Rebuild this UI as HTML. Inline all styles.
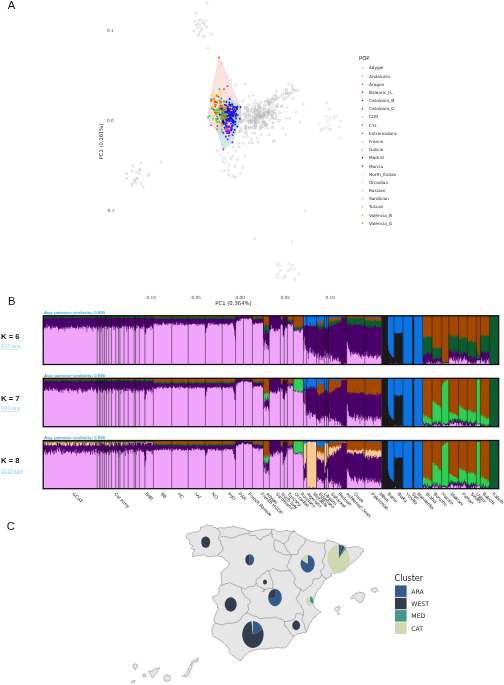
<!DOCTYPE html>
<html><head><meta charset="utf-8"><title>Figure</title>
<style>html,body{margin:0;padding:0;background:#fff}svg{display:block}</style></head>
<body>
<svg width="504" height="685" viewBox="0 0 504 685">
<rect width="504" height="685" fill="#fff"/>
<text x="7.7" y="8.7" font-family="'Liberation Sans',sans-serif" font-size="11.2" fill="#111">A</text>
<g id="panelA">
<g fill="none" stroke="#bebebe" stroke-width="0.4"><path d="M207 1.8l1.2 2.2h-2.5z"/><path d="M196.5 11.8l1.2 2.2h-2.5z"/><path d="M199 18.8l1.2 2.2h-2.5z"/><path d="M201.5 18.3l1.2 2.2h-2.5z"/><path d="M195 19.8l1.2 2.2h-2.5z"/><path d="M198 22.3l1.2 2.2h-2.5z"/><path d="M203 21.3l1.2 2.2h-2.5z"/><path d="M206 19.3l1.2 2.2h-2.5z"/><path d="M204.5 22.8l1.2 2.2h-2.5z"/><path d="M200 24.8l1.2 2.2h-2.5z"/><path d="M197.5 26.8l1.2 2.2h-2.5z"/><path d="M193.5 29.3l1.2 2.2h-2.5z"/><path d="M200.5 29.8l1.2 2.2h-2.5z"/><path d="M206.5 25.3l1.2 2.2h-2.5z"/><path d="M199.5 32.3l1.2 2.2h-2.5z"/><path d="M203 34.8l1.2 2.2h-2.5z"/><path d="M211.5 32.8l1.2 2.2h-2.5z"/><path d="M198 34.3l1.2 2.2h-2.5z"/><path d="M204.5 35.3l1.2 2.2h-2.5z"/><path d="M208 46.8l1.2 2.2h-2.5z"/><path d="M202 27.8l1.2 2.2h-2.5z"/><path d="M196 23.8l1.2 2.2h-2.5z"/><path d="M220.5 63.8l1.2 2.2h-2.5z"/><path d="M222 61.8l1.2 2.2h-2.5z"/><path d="M231 78.8l1.2 2.2h-2.5z"/><path d="M235.5 83.3l1.2 2.2h-2.5z"/><path d="M245.5 82.8l1.2 2.2h-2.5z"/><path d="M226 90.8l1.2 2.2h-2.5z"/><path d="M230 95.8l1.2 2.2h-2.5z"/><path d="M243 99.8l1.2 2.2h-2.5z"/><path d="M249 94.8l1.2 2.2h-2.5z"/><path d="M253 93.8l1.2 2.2h-2.5z"/><path d="M256 101.8l1.2 2.2h-2.5z"/><path d="M247 106.8l1.2 2.2h-2.5z"/><path d="M262.8 116.3l1.2 2.2h-2.5z"/><path d="M256.6 109.2l1.2 2.2h-2.5z"/><path d="M254.4 109.3l1.2 2.2h-2.5z"/><rect x="265.4" y="123.6" width="2" height="2"/><rect x="254" y="112.3" width="2" height="2"/><path d="M267.2 115.9h2M268.2 114.9v2"/><path d="M259.5 107.6l2 2M259.5 109.6l2 -2"/><path d="M263.6 119.2l1.2 2.2h-2.5z"/><circle cx="246.4" cy="118.1" r="1"/><path d="M238.1 113.4l1.2 2.2h-2.5z"/><path d="M241.7 120.5l1.2 2.2h-2.5z"/><path d="M249.2 121.6l1.2 2.2h-2.5z"/><rect x="262.2" y="112.5" width="2" height="2"/><rect x="240.8" y="121.5" width="2" height="2"/><path d="M257.9 104.4h2M258.9 103.4v2"/><path d="M253.2 109.7l2 2M253.2 111.7l2 -2"/><path d="M256.3 125.1l1.2 2.2h-2.5z"/><circle cx="253.3" cy="118.7" r="1"/><path d="M269.8 106.4l1.2 2.2h-2.5z"/><path d="M261.1 115.5l1.2 2.2h-2.5z"/><path d="M259.3 105.5l1.2 2.2h-2.5z"/><rect x="265.6" y="123.6" width="2" height="2"/><rect x="246.9" y="127.1" width="2" height="2"/><path d="M260.5 110.5h2M261.5 109.5v2"/><path d="M284.5 111.3l2 2M284.5 113.3l2 -2"/><path d="M249.4 119.9l1.2 2.2h-2.5z"/><circle cx="267.6" cy="111.7" r="1"/><path d="M269.1 110.9l1.2 2.2h-2.5z"/><path d="M273.1 121.4l1.2 2.2h-2.5z"/><path d="M255.4 118.6l1.2 2.2h-2.5z"/><rect x="256.4" y="117.4" width="2" height="2"/><rect x="246.7" y="115.5" width="2" height="2"/><path d="M261.4 122.6h2M262.4 121.6v2"/><path d="M269.5 100.4l2 2M269.5 102.4l2 -2"/><path d="M255.3 122.2l1.2 2.2h-2.5z"/><circle cx="239.4" cy="120.8" r="1"/><path d="M264.5 123.4l1.2 2.2h-2.5z"/><path d="M268.4 109l1.2 2.2h-2.5z"/><path d="M257.4 114.1l1.2 2.2h-2.5z"/><rect x="276.1" y="105" width="2" height="2"/><rect x="258.7" y="118.3" width="2" height="2"/><path d="M259.2 114.6h2M260.2 113.6v2"/><path d="M249.1 119.2l2 2M249.1 121.2l2 -2"/><path d="M260.5 124.3l1.2 2.2h-2.5z"/><circle cx="268.9" cy="112.5" r="1"/><path d="M268.2 109l1.2 2.2h-2.5z"/><path d="M273.2 109.7l1.2 2.2h-2.5z"/><path d="M264.6 102.8l1.2 2.2h-2.5z"/><rect x="260" y="101.3" width="2" height="2"/><rect x="238.4" y="121.1" width="2" height="2"/><path d="M251.8 120.5h2M252.8 119.5v2"/><path d="M282.7 99.1l2 2M282.7 101.1l2 -2"/><path d="M255.9 118.4l1.2 2.2h-2.5z"/><circle cx="266.8" cy="112.2" r="1"/><path d="M261.8 120l1.2 2.2h-2.5z"/><path d="M264.7 104.8l1.2 2.2h-2.5z"/><path d="M261.3 114.9l1.2 2.2h-2.5z"/><rect x="250.5" y="120.8" width="2" height="2"/><rect x="254.5" y="124.9" width="2" height="2"/><path d="M263.3 115.3h2M264.3 114.3v2"/><path d="M254.4 116.2l2 2M254.4 118.2l2 -2"/><path d="M239.2 114.9l1.2 2.2h-2.5z"/><circle cx="241.6" cy="130.5" r="1"/><path d="M245.5 127l1.2 2.2h-2.5z"/><path d="M255.1 123.3l1.2 2.2h-2.5z"/><path d="M259.1 103l1.2 2.2h-2.5z"/><rect x="278.4" y="119.2" width="2" height="2"/><rect x="259.5" y="112.9" width="2" height="2"/><path d="M256.6 109.4h2M257.6 108.4v2"/><path d="M271.2 106l2 2M271.2 108l2 -2"/><path d="M259.2 109l1.2 2.2h-2.5z"/><circle cx="251.8" cy="109.3" r="1"/><path d="M275 107.8l1.2 2.2h-2.5z"/><path d="M272.4 110.2l1.2 2.2h-2.5z"/><path d="M253.7 115l1.2 2.2h-2.5z"/><rect x="255" y="116.9" width="2" height="2"/><rect x="256.2" y="114" width="2" height="2"/><path d="M244 115.8h2M245 114.8v2"/><path d="M276.8 102.8l2 2M276.8 104.8l2 -2"/><path d="M251.7 121.1l1.2 2.2h-2.5z"/><circle cx="273" cy="99.4" r="1"/><path d="M258 110.8l1.2 2.2h-2.5z"/><path d="M245.2 126.9l1.2 2.2h-2.5z"/><path d="M261.9 114.9l1.2 2.2h-2.5z"/><rect x="254.2" y="120.9" width="2" height="2"/><rect x="254.8" y="115.8" width="2" height="2"/><path d="M245.8 111.8h2M246.8 110.8v2"/><path d="M273.8 105.3l2 2M273.8 107.3l2 -2"/><path d="M265 112.8l1.2 2.2h-2.5z"/><circle cx="255.9" cy="113.8" r="1"/><path d="M267.9 109.5l1.2 2.2h-2.5z"/><path d="M260.4 115.1l1.2 2.2h-2.5z"/><path d="M276.5 114l1.2 2.2h-2.5z"/><rect x="263.5" y="108.9" width="2" height="2"/><rect x="248.9" y="127" width="2" height="2"/><path d="M270.9 110.4h2M271.9 109.4v2"/><path d="M269 117.6l2 2M269 119.6l2 -2"/><path d="M273.4 117.1l1.2 2.2h-2.5z"/><circle cx="261.4" cy="128" r="1"/><path d="M251.1 125.6l1.2 2.2h-2.5z"/><path d="M269.7 118.2l1.2 2.2h-2.5z"/><path d="M286.2 116.6l1.2 2.2h-2.5z"/><rect x="244.1" y="107.6" width="2" height="2"/><rect x="266.9" y="103.9" width="2" height="2"/><path d="M263.2 121.4h2M264.2 120.4v2"/><path d="M237.6 106.8l2 2M237.6 108.8l2 -2"/><path d="M264.9 113.5l1.2 2.2h-2.5z"/><circle cx="259.5" cy="116.8" r="1"/><path d="M248.6 107.4l1.2 2.2h-2.5z"/><path d="M257.5 108.2l1.2 2.2h-2.5z"/><path d="M245.9 124.8l1.2 2.2h-2.5z"/><rect x="261.5" y="117.6" width="2" height="2"/><rect x="248.6" y="114.1" width="2" height="2"/><path d="M247.9 113.6h2M248.9 112.6v2"/><path d="M260.9 108.2l2 2M260.9 110.2l2 -2"/><path d="M266.7 115.1l1.2 2.2h-2.5z"/><circle cx="279.7" cy="97.2" r="1"/><path d="M271.2 109.9l1.2 2.2h-2.5z"/><path d="M257.8 104.2l1.2 2.2h-2.5z"/><path d="M259.2 121.4l1.2 2.2h-2.5z"/><rect x="260.3" y="115.4" width="2" height="2"/><rect x="261.1" y="123.8" width="2" height="2"/><path d="M254.6 100.3h2M255.6 99.3v2"/><path d="M248.1 103.7l2 2M248.1 105.7l2 -2"/><path d="M238.5 124.5l1.2 2.2h-2.5z"/><circle cx="259.2" cy="107.1" r="1"/><path d="M255.1 126.2l1.2 2.2h-2.5z"/><path d="M263.8 113.9l1.2 2.2h-2.5z"/><path d="M261.5 114.8l1.2 2.2h-2.5z"/><rect x="271.1" y="114.9" width="2" height="2"/><rect x="260.4" y="106.3" width="2" height="2"/><path d="M264.6 108.6h2M265.6 107.6v2"/><path d="M269.1 101l2 2M269.1 103l2 -2"/><path d="M260.5 114.8l1.2 2.2h-2.5z"/><circle cx="252.7" cy="133.1" r="1"/><path d="M276.3 104.8l1.2 2.2h-2.5z"/><path d="M271.3 113.6l1.2 2.2h-2.5z"/><path d="M241.1 127.2l1.2 2.2h-2.5z"/><rect x="258.9" y="106.6" width="2" height="2"/><rect x="257.6" y="114.4" width="2" height="2"/><path d="M274.6 112.8h2M275.6 111.8v2"/><path d="M265.2 125.2l2 2M265.2 127.2l2 -2"/><path d="M255 113.9l1.2 2.2h-2.5z"/><circle cx="247" cy="134.2" r="1"/><path d="M274.9 116.5l1.2 2.2h-2.5z"/><path d="M269.4 112.2l1.2 2.2h-2.5z"/><path d="M263.6 111.6l1.2 2.2h-2.5z"/><rect x="259" y="115.7" width="2" height="2"/><rect x="278.7" y="111.9" width="2" height="2"/><path d="M258.8 111.7h2M259.8 110.7v2"/><path d="M258.7 128.4l2 2M258.7 130.4l2 -2"/><path d="M267.6 112.6l1.2 2.2h-2.5z"/><circle cx="255.2" cy="109.3" r="1"/><path d="M263.7 120.6l1.2 2.2h-2.5z"/><path d="M257.2 114.4l1.2 2.2h-2.5z"/><path d="M259.9 116l1.2 2.2h-2.5z"/><rect x="243.3" y="119.7" width="2" height="2"/><rect x="254.3" y="124.3" width="2" height="2"/><path d="M254.4 122.8h2M255.4 121.8v2"/><path d="M276.4 105.8l2 2M276.4 107.8l2 -2"/><path d="M256.1 118.2l1.2 2.2h-2.5z"/><circle cx="259.2" cy="108.6" r="1"/><path d="M272.5 126.3l1.2 2.2h-2.5z"/><path d="M258.7 114l1.2 2.2h-2.5z"/><path d="M251.7 121l1.2 2.2h-2.5z"/><rect x="244.6" y="112.1" width="2" height="2"/><rect x="272.1" y="102.7" width="2" height="2"/><path d="M276.8 121.5h2M277.8 120.5v2"/><path d="M265.3 117.2l2 2M265.3 119.2l2 -2"/><path d="M282.3 104.6l1.2 2.2h-2.5z"/><circle cx="251.9" cy="108.6" r="1"/><path d="M266.6 124.4l1.2 2.2h-2.5z"/><path d="M269.6 103.6l1.2 2.2h-2.5z"/><path d="M251.5 114.4l1.2 2.2h-2.5z"/><rect x="263.5" y="111.8" width="2" height="2"/><rect x="264.1" y="115.7" width="2" height="2"/><path d="M257.7 116.5h2M258.7 115.5v2"/><path d="M263 113l2 2M263 115l2 -2"/><path d="M272.6 125.1l1.2 2.2h-2.5z"/><circle cx="268.5" cy="113.4" r="1"/><path d="M245.1 124.2l1.2 2.2h-2.5z"/><path d="M243.8 112.8l1.2 2.2h-2.5z"/><path d="M269.1 110.2l1.2 2.2h-2.5z"/><rect x="241.7" y="119.2" width="2" height="2"/><rect x="255.5" y="121.8" width="2" height="2"/><path d="M285.7 107.4h2M286.7 106.4v2"/><path d="M249.4 109.7l2 2M249.4 111.7l2 -2"/><path d="M260.9 113.3l1.2 2.2h-2.5z"/><circle cx="250" cy="121.2" r="1"/><path d="M252.8 126.9l1.2 2.2h-2.5z"/><path d="M276.4 117.3l1.2 2.2h-2.5z"/><path d="M258.4 119.9l1.2 2.2h-2.5z"/><rect x="258.5" y="112.4" width="2" height="2"/><rect x="253.8" y="106.9" width="2" height="2"/><path d="M247.8 127.2h2M248.8 126.2v2"/><path d="M259.6 116.8l2 2M259.6 118.8l2 -2"/><path d="M267.9 97.9l1.2 2.2h-2.5z"/><circle cx="254.1" cy="120.1" r="1"/><path d="M265.1 110l1.2 2.2h-2.5z"/><path d="M273.6 111.3l1.2 2.2h-2.5z"/><path d="M246.5 113l1.2 2.2h-2.5z"/><rect x="270.9" y="114.3" width="2" height="2"/><rect x="244.5" y="132" width="2" height="2"/><path d="M271.1 122.3h2M272.1 121.3v2"/><path d="M256.1 114.1l2 2M256.1 116.1l2 -2"/><path d="M257 136.7l1.2 2.2h-2.5z"/><circle cx="264.5" cy="127.3" r="1"/><path d="M255.5 118.2l1.2 2.2h-2.5z"/><path d="M243.1 118.7l1.2 2.2h-2.5z"/><path d="M269 101.3l1.2 2.2h-2.5z"/><rect x="273.4" y="112.3" width="2" height="2"/><rect x="248.5" y="115.5" width="2" height="2"/><path d="M256 117.1h2M257 116.1v2"/><path d="M253 111l2 2M253 113l2 -2"/><path d="M255.9 108.4l1.2 2.2h-2.5z"/><circle cx="248.1" cy="120.7" r="1"/><path d="M267.2 99.8l1.2 2.2h-2.5z"/><path d="M260.2 109.7l1.2 2.2h-2.5z"/><path d="M253.9 124.4l1.2 2.2h-2.5z"/><rect x="259.6" y="127.1" width="2" height="2"/><rect x="253.7" y="120.5" width="2" height="2"/><path d="M256.5 111.2h2M257.5 110.2v2"/><path d="M266.8 110.9l2 2M266.8 112.9l2 -2"/><path d="M268.3 111.4l1.2 2.2h-2.5z"/><circle cx="250.1" cy="119.4" r="1"/><path d="M265.2 120.7l1.2 2.2h-2.5z"/><path d="M252.2 117.9l1.2 2.2h-2.5z"/><path d="M245.4 126.2l1.2 2.2h-2.5z"/><rect x="244.4" y="106.5" width="2" height="2"/><rect x="263.4" y="122.5" width="2" height="2"/><path d="M241.7 114.4h2M242.7 113.4v2"/><path d="M249.9 109.8l2 2M249.9 111.8l2 -2"/><path d="M263.8 107l1.2 2.2h-2.5z"/><circle cx="255.9" cy="122.6" r="1"/><path d="M255.1 120.5l1.2 2.2h-2.5z"/><path d="M248.3 110l1.2 2.2h-2.5z"/><path d="M247.6 135.1l1.2 2.2h-2.5z"/><rect x="258.3" y="117.6" width="2" height="2"/><rect x="261.1" y="115.7" width="2" height="2"/><path d="M266.8 128.6h2M267.8 127.6v2"/><path d="M245.6 108.1l2 2M245.6 110.1l2 -2"/><path d="M247.5 109.3l1.2 2.2h-2.5z"/><circle cx="272.3" cy="118" r="1"/><path d="M247.9 108.7l1.2 2.2h-2.5z"/><path d="M262.1 125.5l1.2 2.2h-2.5z"/><path d="M239.2 130l1.2 2.2h-2.5z"/><rect x="269.1" y="102.6" width="2" height="2"/><rect x="253.8" y="105.2" width="2" height="2"/><path d="M254.4 129.3h2M255.4 128.3v2"/><path d="M268.6 108.2l2 2M268.6 110.2l2 -2"/><path d="M247.4 104.8l1.2 2.2h-2.5z"/><circle cx="257.7" cy="117" r="1"/><path d="M260.8 114l1.2 2.2h-2.5z"/><path d="M249.8 118.6l1.2 2.2h-2.5z"/><path d="M265.2 123.4l1.2 2.2h-2.5z"/><rect x="280.6" y="105.6" width="2" height="2"/><rect x="252.6" y="117.3" width="2" height="2"/><path d="M252.4 112.9h2M253.4 111.9v2"/><path d="M257.5 107.5l2 2M257.5 109.5l2 -2"/><path d="M268.2 111l1.2 2.2h-2.5z"/><circle cx="264.2" cy="113.2" r="1"/><path d="M251.6 110.8l1.2 2.2h-2.5z"/><path d="M257.9 111.5l1.2 2.2h-2.5z"/><path d="M264.5 113.2l1.2 2.2h-2.5z"/><rect x="246.6" y="120.8" width="2" height="2"/><rect x="244.9" y="115.9" width="2" height="2"/><path d="M252.1 102.3h2M253.1 101.3v2"/><path d="M262.4 115.2l2 2M262.4 117.2l2 -2"/><path d="M259.1 112l1.2 2.2h-2.5z"/><circle cx="255.3" cy="110.3" r="1"/><path d="M265.4 99.7l1.2 2.2h-2.5z"/><path d="M280.3 94.3l2 2M280.3 96.3l2 -2"/><path d="M272.3 99.2h2M273.3 98.2v2"/><path d="M286.3 92.5l1.2 2.2h-2.5z"/><rect x="291.3" y="87.4" width="2" height="2"/><path d="M295.3 89.4l1.2 2.2h-2.5z"/><path d="M281.8 93l2 2M281.8 95l2 -2"/><path d="M274.2 98.9h2M275.2 97.9v2"/><path d="M271.9 97.8l1.2 2.2h-2.5z"/><rect x="291.7" y="84.7" width="2" height="2"/><path d="M283.4 95.6l1.2 2.2h-2.5z"/><path d="M283.4 97.8l2 2M283.4 99.8l2 -2"/><path d="M275.1 95.9h2M276.1 94.9v2"/><path d="M286.7 91.6l1.2 2.2h-2.5z"/><rect x="291.7" y="91.9" width="2" height="2"/><path d="M268.3 101l1.2 2.2h-2.5z"/><path d="M277.1 97.2l2 2M277.1 99.2l2 -2"/><path d="M274.5 94.4h2M275.5 93.4v2"/><path d="M293.9 88.5l1.2 2.2h-2.5z"/><rect x="285.2" y="88.7" width="2" height="2"/><path d="M288.6 82.6l1.2 2.2h-2.5z"/><path d="M275.5 97.7l2 2M275.5 99.7l2 -2"/><path d="M286.7 94.1h2M287.7 93.1v2"/><path d="M269.3 99.9l1.2 2.2h-2.5z"/><rect x="286.3" y="96.3" width="2" height="2"/><path d="M275.3 98.6l1.2 2.2h-2.5z"/><path d="M274.6 98.7l2 2M274.6 100.7l2 -2"/><path d="M291.3 89.6h2M292.3 88.6v2"/><path d="M289.1 91.4l1.2 2.2h-2.5z"/><rect x="285.1" y="90" width="2" height="2"/><path d="M268.8 102.6l1.2 2.2h-2.5z"/><path d="M269.1 98.3l2 2M269.1 100.3l2 -2"/><path d="M275.7 98h2M276.7 97v2"/><path d="M276.2 94.6l1.2 2.2h-2.5z"/><rect x="271.2" y="100.4" width="2" height="2"/><path d="M265.8 99.6l1.2 2.2h-2.5z"/><path d="M289.6 91.2l2 2M289.6 93.2l2 -2"/><path d="M282.9 92.5h2M283.9 91.5v2"/><path d="M270.4 100.9l1.2 2.2h-2.5z"/><rect x="288.8" y="93.2" width="2" height="2"/><path d="M297.8 88.7l1.2 2.2h-2.5z"/><path d="M285 92.8l2 2M285 94.8l2 -2"/><path d="M267.6 101.4h2M268.6 100.4v2"/><path d="M276.4 89.4l1.2 2.2h-2.5z"/><rect x="273" y="95.4" width="2" height="2"/><path d="M272.3 96.8l1.2 2.2h-2.5z"/><path d="M244 135.5l1.2 2.2h-2.5z"/><path d="M251.4 137.8l1.2 2.2h-2.5z"/><path d="M261 133.1l1.2 2.2h-2.5z"/><path d="M274 139l1.2 2.2h-2.5z"/><path d="M269.3 133.1l1.2 2.2h-2.5z"/><path d="M246 129.8l1.2 2.2h-2.5z"/><path d="M255 131.8l1.2 2.2h-2.5z"/><path d="M240 130.8l1.2 2.2h-2.5z"/><path d="M283 126.8l1.2 2.2h-2.5z"/><path d="M290 116.8l1.2 2.2h-2.5z"/><path d="M296 110.8l1.2 2.2h-2.5z"/><path d="M300 120.3l1.2 2.2h-2.5z"/><path d="M293 96.8l1.2 2.2h-2.5z"/><path d="M303 102.8l1.2 2.2h-2.5z"/><path d="M273.8 139.5l1.2 2.2h-2.5z"/><path d="M286 132.8l1.2 2.2h-2.5z"/><path d="M258 140.8l1.2 2.2h-2.5z"/><path d="M326.4 101.7l1.2 1.2l-1.2 1.2l-1.2 -1.2z"/><path d="M328.8 107.6l1.2 1.2l-1.2 1.2l-1.2 -1.2z"/><path d="M326 115.2l1.2 1.2l-1.2 1.2l-1.2 -1.2z"/><path d="M330 116.4l1.2 1.2l-1.2 1.2l-1.2 -1.2z"/><path d="M333.6 115.2l1.2 1.2l-1.2 1.2l-1.2 -1.2z"/><path d="M336.4 114.5l1.2 1.2l-1.2 1.2l-1.2 -1.2z"/><path d="M340 119.5l1.2 1.2l-1.2 1.2l-1.2 -1.2z"/><path d="M327.6 120l1.2 1.2l-1.2 1.2l-1.2 -1.2z"/><path d="M319.3 122.4l1.2 1.2l-1.2 1.2l-1.2 -1.2z"/><path d="M328.8 123.6l1.2 1.2l-1.2 1.2l-1.2 -1.2z"/><path d="M339 125.5l1.2 1.2l-1.2 1.2l-1.2 -1.2z"/><path d="M324 127.1l1.2 1.2l-1.2 1.2l-1.2 -1.2z"/><path d="M320.5 129l1.2 1.2l-1.2 1.2l-1.2 -1.2z"/><path d="M327.6 127.1l1.2 1.2l-1.2 1.2l-1.2 -1.2z"/><path d="M331.2 127.8l1.2 1.2l-1.2 1.2l-1.2 -1.2z"/><path d="M339.5 136.7l1.2 1.2l-1.2 1.2l-1.2 -1.2z"/><path d="M322 128.3l1.2 1.2l-1.2 1.2l-1.2 -1.2z"/><path d="M334 117.3l1.2 1.2l-1.2 1.2l-1.2 -1.2z"/><path d="M329.5 128.3l1.2 1.2l-1.2 1.2l-1.2 -1.2z"/><path d="M132.6 167.4l1.2 -2.2h-2.5z"/><path d="M141 164.3l1.2 -2.2h-2.5z"/><path d="M161.2 163.3l1.2 -2.2h-2.5z"/><path d="M126.7 175l1.2 -2.2h-2.5z"/><path d="M131.9 172.2l1.2 -2.2h-2.5z"/><path d="M136.2 173.3l1.2 -2.2h-2.5z"/><path d="M139.8 171l1.2 -2.2h-2.5z"/><path d="M139 174.5l1.2 -2.2h-2.5z"/><path d="M126.7 180l1.2 -2.2h-2.5z"/><path d="M133.8 181.7l1.2 -2.2h-2.5z"/><path d="M135.5 180.7l1.2 -2.2h-2.5z"/><path d="M137.4 180.5l1.2 -2.2h-2.5z"/><path d="M148.1 176.9l1.2 -2.2h-2.5z"/><path d="M149.5 176.2l1.2 -2.2h-2.5z"/><path d="M131.4 186l1.2 -2.2h-2.5z"/><path d="M132.5 185.7l1.2 -2.2h-2.5z"/><path d="M136.2 184.5l1.2 -2.2h-2.5z"/><path d="M141 184.8l1.2 -2.2h-2.5z"/><path d="M143.3 188.3l1.2 -2.2h-2.5z"/><path d="M140 171.7l1.2 -2.2h-2.5z"/><path d="M134.5 182.7l1.2 -2.2h-2.5z"/><path d="M137 179.2l1.2 -2.2h-2.5z"/><path d="M217.1 149.5l1.2 2.2h-2.5z"/><path d="M219.7 155.5h2M220.7 154.5v2"/><rect x="223.3" y="156.9" width="2" height="2"/><path d="M223.1 160.2l1.2 2.2h-2.5z"/><path d="M226.9 152.1l2 2M226.9 154.1l2 -2"/><path d="M232.6 155l1.2 2.2h-2.5z"/><path d="M237.4 158.3l1.2 2.2h-2.5z"/><path d="M244.5 154.8l1.2 2.2h-2.5z"/><rect x="228" y="164" width="2" height="2"/><rect x="234.7" y="165.7" width="2" height="2"/><path d="M242.9 166.2l1.2 2.2h-2.5z"/><path d="M220.9 170.4l2 2M220.9 172.4l2 -2"/><path d="M223.8 170.5h2M224.8 169.5v2"/><rect x="227.6" y="169.2" width="2" height="2"/><rect x="228" y="174" width="2" height="2"/><path d="M233.1 174.5l1.2 2.2h-2.5z"/><rect x="234.5" y="176.6" width="2" height="2"/><path d="M240.2 172.1l1.2 2.2h-2.5z"/><path d="M238.6 141.7l1.2 2.2h-2.5z"/><path d="M243.3 141.9l1.2 2.2h-2.5z"/><path d="M249.3 141.2l1.2 2.2h-2.5z"/><path d="M252.4 141.2l1.2 2.2h-2.5z"/><path d="M225 160h2M226 159v2"/><path d="M229 157l2 2M229 159l2 -2"/><path d="M230.5 159.5h2M231.5 158.5v2"/><path d="M224.5 163.5h2M225.5 162.5v2"/><path d="M233 145.8l1.2 2.2h-2.5z"/><path d="M235 151h2M236 150v2"/><path d="M239 145.3l1.2 2.2h-2.5z"/><circle cx="305.2" cy="211" r="1"/><path d="M254.5 236.9l1.2 2.2h-2.5z"/><circle cx="292.1" cy="241.7" r="1"/><circle cx="277.4" cy="263.8" r="1.2"/><circle cx="279.5" cy="266.2" r="1.2"/><circle cx="280.2" cy="270.2" r="1.2"/><circle cx="277.9" cy="274" r="1.2"/><circle cx="277.1" cy="277.4" r="1.2"/><circle cx="283.8" cy="278.1" r="1.2"/><circle cx="285.7" cy="275.7" r="1.2"/><circle cx="288.6" cy="264.5" r="1.2"/><circle cx="292.1" cy="265.5" r="1.2"/><circle cx="290.5" cy="269.3" r="1.2"/><circle cx="287.9" cy="271" r="1.2"/><circle cx="294.5" cy="269.3" r="1.2"/><circle cx="298.6" cy="273.8" r="1.2"/><circle cx="295" cy="279.3" r="1.2"/></g>
<path d="M219 57.5L237.6 101.5L240.6 106.6L239.8 123.5L227.6 139.3L211 125.2L207.9 117.4L211 98.8Z" fill="#f8c8c4" fill-opacity="0.5" stroke="#e8a8a4" stroke-width="0.4"/>
<path d="M229.7 98.8L240.5 107L239.9 118.5L232.4 142.3L223.3 149.4L216.9 129L218.9 103.4L224.5 100.6Z" fill="#9fdde0" fill-opacity="0.55" stroke="#7cc8cc" stroke-width="0.4"/>
<rect x="221.3" y="104.7" width="1.7" height="1.7" rx="0.5" fill="#b8860b"/><rect x="222.5" y="118" width="1.7" height="1.7" rx="0.5" fill="#ff8c00"/><rect x="219.5" y="113.9" width="1.7" height="1.7" rx="0.5" fill="#ff8c00"/><rect x="228.5" y="125.8" width="1.7" height="1.7" rx="0.5" fill="#a000f0"/><rect x="221.4" y="118.8" width="1.7" height="1.7" rx="0.5" fill="#2080ff"/><rect x="228.1" y="118.8" width="1.7" height="1.7" rx="0.5" fill="#1010f0"/><rect x="221.3" y="124.8" width="1.7" height="1.7" rx="0.5" fill="#ff8c00"/><rect x="214.3" y="103.8" width="1.7" height="1.7" rx="0.5" fill="#ff3a10"/><rect x="230.5" y="126.3" width="1.7" height="1.7" rx="0.5" fill="#a000f0"/><rect x="216.2" y="115.6" width="1.7" height="1.7" rx="0.5" fill="#00e070"/><rect x="224.3" y="117.7" width="1.7" height="1.7" rx="0.5" fill="#ff8c00"/><rect x="231" y="120.2" width="1.7" height="1.7" rx="0.5" fill="#1010f0"/><rect x="216.2" y="121.3" width="1.7" height="1.7" rx="0.5" fill="#ff8c00"/><rect x="224.7" y="122.7" width="1.7" height="1.7" rx="0.5" fill="#1010f0"/><rect x="215.4" y="120" width="1.7" height="1.7" rx="0.5" fill="#ff8c00"/><rect x="226.2" y="110.3" width="1.7" height="1.7" rx="0.5" fill="#1010f0"/><rect x="224.4" y="114.9" width="1.7" height="1.7" rx="0.5" fill="#1010f0"/><rect x="211.1" y="108.1" width="1.7" height="1.7" rx="0.5" fill="#00e070"/><rect x="218.9" y="115.1" width="1.7" height="1.7" rx="0.5" fill="#ff8c00"/><rect x="222.7" y="115" width="1.7" height="1.7" rx="0.5" fill="#1010f0"/><rect x="218.6" y="99.3" width="1.7" height="1.7" rx="0.5" fill="#ff8c00"/><rect x="214.4" y="99.8" width="1.7" height="1.7" rx="0.5" fill="#ffd800"/><rect x="225.7" y="128.1" width="1.7" height="1.7" rx="0.5" fill="#a000f0"/><rect x="223.6" y="115.3" width="1.7" height="1.7" rx="0.5" fill="#b8860b"/><rect x="231.7" y="124.7" width="1.7" height="1.7" rx="0.5" fill="#1010f0"/><rect x="226.7" y="108.5" width="1.7" height="1.7" rx="0.5" fill="#1010f0"/><rect x="234.8" y="115.7" width="1.7" height="1.7" rx="0.5" fill="#1010f0"/><rect x="228.2" y="116.1" width="1.7" height="1.7" rx="0.5" fill="#b8860b"/><rect x="221.6" y="111.1" width="1.7" height="1.7" rx="0.5" fill="#ff3a10"/><rect x="218" y="108.4" width="1.7" height="1.7" rx="0.5" fill="#b8860b"/><rect x="233.2" y="120.3" width="1.7" height="1.7" rx="0.5" fill="#1010f0"/><rect x="232.3" y="119.3" width="1.7" height="1.7" rx="0.5" fill="#1010f0"/><rect x="223.8" y="110.9" width="1.7" height="1.7" rx="0.5" fill="#b01818"/><rect x="225.6" y="101" width="1.7" height="1.7" rx="0.5" fill="#1010f0"/><rect x="221.8" y="118.2" width="1.7" height="1.7" rx="0.5" fill="#f000f0"/><rect x="229.6" y="115" width="1.7" height="1.7" rx="0.5" fill="#1010f0"/><rect x="228.9" y="109.1" width="1.7" height="1.7" rx="0.5" fill="#1010f0"/><rect x="213.6" y="100.7" width="1.7" height="1.7" rx="0.5" fill="#ff3a10"/><rect x="220.6" y="118.9" width="1.7" height="1.7" rx="0.5" fill="#ff8c00"/><rect x="226.1" y="110.7" width="1.7" height="1.7" rx="0.5" fill="#b8860b"/><rect x="225.5" y="118.3" width="1.7" height="1.7" rx="0.5" fill="#b8860b"/><rect x="226.7" y="119.5" width="1.7" height="1.7" rx="0.5" fill="#1010f0"/><rect x="221.7" y="117.7" width="1.7" height="1.7" rx="0.5" fill="#2080ff"/><rect x="227.9" y="114.7" width="1.7" height="1.7" rx="0.5" fill="#1010f0"/><rect x="220.6" y="109.4" width="1.7" height="1.7" rx="0.5" fill="#00e070"/><rect x="230.6" y="114" width="1.7" height="1.7" rx="0.5" fill="#1010f0"/><rect x="213.3" y="98.1" width="1.7" height="1.7" rx="0.5" fill="#ff3a10"/><rect x="225.5" y="107.6" width="1.7" height="1.7" rx="0.5" fill="#1010f0"/><rect x="221.9" y="111.3" width="1.7" height="1.7" rx="0.5" fill="#00e070"/><rect x="230.6" y="116.8" width="1.7" height="1.7" rx="0.5" fill="#1010f0"/><rect x="231.4" y="105.6" width="1.7" height="1.7" rx="0.5" fill="#b01818"/><rect x="234.3" y="106.4" width="1.7" height="1.7" rx="0.5" fill="#1010f0"/><rect x="223.8" y="127.9" width="1.7" height="1.7" rx="0.5" fill="#a000f0"/><rect x="216.8" y="101.2" width="1.7" height="1.7" rx="0.5" fill="#ffd800"/><rect x="230.7" y="128.2" width="1.7" height="1.7" rx="0.5" fill="#a000f0"/><rect x="219.6" y="105" width="1.7" height="1.7" rx="0.5" fill="#00e070"/><rect x="230.9" y="127.5" width="1.7" height="1.7" rx="0.5" fill="#a000f0"/><rect x="225.6" y="107.5" width="1.7" height="1.7" rx="0.5" fill="#b8860b"/><rect x="228.7" y="126.6" width="1.7" height="1.7" rx="0.5" fill="#b01818"/><rect x="228.7" y="108" width="1.7" height="1.7" rx="0.5" fill="#1010f0"/><rect x="221.8" y="108.9" width="1.7" height="1.7" rx="0.5" fill="#b8860b"/><rect x="228.1" y="108.4" width="1.7" height="1.7" rx="0.5" fill="#1010f0"/><rect x="227" y="112.3" width="1.7" height="1.7" rx="0.5" fill="#00e070"/><rect x="221.5" y="130.8" width="1.7" height="1.7" rx="0.5" fill="#b8860b"/><rect x="225.8" y="110.8" width="1.7" height="1.7" rx="0.5" fill="#1010f0"/><rect x="214.1" y="109.4" width="1.7" height="1.7" rx="0.5" fill="#00e070"/><rect x="225.8" y="126.5" width="1.7" height="1.7" rx="0.5" fill="#1010f0"/><rect x="232.6" y="115" width="1.7" height="1.7" rx="0.5" fill="#1010f0"/><rect x="217.3" y="107.3" width="1.7" height="1.7" rx="0.5" fill="#00e8f0"/><rect x="224.8" y="110.2" width="1.7" height="1.7" rx="0.5" fill="#ff8c00"/><rect x="216" y="109.2" width="1.7" height="1.7" rx="0.5" fill="#00e070"/><rect x="216.4" y="118.4" width="1.7" height="1.7" rx="0.5" fill="#f000f0"/><rect x="216" y="117.8" width="1.7" height="1.7" rx="0.5" fill="#00e070"/><rect x="227.3" y="109.4" width="1.7" height="1.7" rx="0.5" fill="#1010f0"/><rect x="235.1" y="113.9" width="1.7" height="1.7" rx="0.5" fill="#1010f0"/><rect x="228.8" y="120.3" width="1.7" height="1.7" rx="0.5" fill="#1010f0"/><rect x="228.6" y="101.8" width="1.7" height="1.7" rx="0.5" fill="#1010f0"/><rect x="230.8" y="112.1" width="1.7" height="1.7" rx="0.5" fill="#1010f0"/><rect x="236.1" y="107.3" width="1.7" height="1.7" rx="0.5" fill="#b01818"/><rect x="221.9" y="112.8" width="1.7" height="1.7" rx="0.5" fill="#1010f0"/><rect x="225.8" y="114.7" width="1.7" height="1.7" rx="0.5" fill="#1010f0"/><rect x="223.6" y="113.9" width="1.7" height="1.7" rx="0.5" fill="#ff8c00"/><rect x="215" y="100.8" width="1.7" height="1.7" rx="0.5" fill="#ff3a10"/><rect x="227.3" y="117.4" width="1.7" height="1.7" rx="0.5" fill="#b8860b"/><rect x="228.1" y="130" width="1.7" height="1.7" rx="0.5" fill="#a000f0"/><rect x="234.4" y="110.6" width="1.7" height="1.7" rx="0.5" fill="#1010f0"/><rect x="221.8" y="117.9" width="1.7" height="1.7" rx="0.5" fill="#ff8c00"/><rect x="229.8" y="118.5" width="1.7" height="1.7" rx="0.5" fill="#1010f0"/><rect x="225.7" y="122.4" width="1.7" height="1.7" rx="0.5" fill="#1010f0"/><rect x="220.6" y="106.4" width="1.7" height="1.7" rx="0.5" fill="#1010f0"/><rect x="226.7" y="107.8" width="1.7" height="1.7" rx="0.5" fill="#1010f0"/><rect x="211.9" y="105.6" width="1.7" height="1.7" rx="0.5" fill="#ffd800"/><rect x="229.6" y="111.4" width="1.7" height="1.7" rx="0.5" fill="#b01818"/><rect x="216" y="113.6" width="1.7" height="1.7" rx="0.5" fill="#b8860b"/><rect x="221.4" y="106.3" width="1.7" height="1.7" rx="0.5" fill="#ff8c00"/><rect x="228.7" y="112.9" width="1.7" height="1.7" rx="0.5" fill="#1010f0"/><rect x="212.9" y="93.4" width="1.7" height="1.7" rx="0.5" fill="#ffd800"/><rect x="223.1" y="100.8" width="1.7" height="1.7" rx="0.5" fill="#ff3a10"/><rect x="226" y="115.7" width="1.7" height="1.7" rx="0.5" fill="#1010f0"/><rect x="215.3" y="104" width="1.7" height="1.7" rx="0.5" fill="#00e070"/><rect x="219" y="92.9" width="1.7" height="1.7" rx="0.5" fill="#ffd800"/><rect x="222.2" y="115.4" width="1.7" height="1.7" rx="0.5" fill="#b8860b"/><rect x="226.3" y="132.2" width="1.7" height="1.7" rx="0.5" fill="#a000f0"/><rect x="225.4" y="111.4" width="1.7" height="1.7" rx="0.5" fill="#b8860b"/><rect x="225.5" y="110.6" width="1.7" height="1.7" rx="0.5" fill="#1010f0"/><rect x="227.4" y="115.4" width="1.7" height="1.7" rx="0.5" fill="#1010f0"/><rect x="218.9" y="100.1" width="1.7" height="1.7" rx="0.5" fill="#00e070"/><rect x="233.6" y="108.5" width="1.7" height="1.7" rx="0.5" fill="#1010f0"/><rect x="222.6" y="106.8" width="1.7" height="1.7" rx="0.5" fill="#b8860b"/><rect x="222" y="121" width="1.7" height="1.7" rx="0.5" fill="#b8860b"/><rect x="221.4" y="107.8" width="1.7" height="1.7" rx="0.5" fill="#1010f0"/><rect x="220.3" y="104.7" width="1.7" height="1.7" rx="0.5" fill="#ff8c00"/><rect x="230.8" y="127.2" width="1.7" height="1.7" rx="0.5" fill="#a000f0"/><rect x="225.4" y="104.1" width="1.7" height="1.7" rx="0.5" fill="#ff8c00"/><rect x="216.5" y="107.1" width="1.7" height="1.7" rx="0.5" fill="#ffd800"/><rect x="228.5" y="130.9" width="1.7" height="1.7" rx="0.5" fill="#a000f0"/><rect x="226.5" y="130.4" width="1.7" height="1.7" rx="0.5" fill="#a000f0"/><rect x="225.7" y="125.5" width="1.7" height="1.7" rx="0.5" fill="#a000f0"/><rect x="226.9" y="128.8" width="1.7" height="1.7" rx="0.5" fill="#a000f0"/><rect x="221.4" y="108.8" width="1.7" height="1.7" rx="0.5" fill="#ff8c00"/><rect x="225.4" y="124.9" width="1.7" height="1.7" rx="0.5" fill="#1010f0"/><rect x="215.2" y="113.5" width="1.7" height="1.7" rx="0.5" fill="#ffd800"/><rect x="225.6" y="120.8" width="1.7" height="1.7" rx="0.5" fill="#1010f0"/><rect x="230.6" y="117.5" width="1.7" height="1.7" rx="0.5" fill="#1010f0"/><rect x="231.4" y="113.9" width="1.7" height="1.7" rx="0.5" fill="#1010f0"/><rect x="224.3" y="111.3" width="1.7" height="1.7" rx="0.5" fill="#1010f0"/><rect x="225.1" y="113.9" width="1.7" height="1.7" rx="0.5" fill="#b8860b"/><rect x="226.9" y="105.9" width="1.7" height="1.7" rx="0.5" fill="#1010f0"/><rect x="233.5" y="113.1" width="1.7" height="1.7" rx="0.5" fill="#1010f0"/><rect x="211.8" y="106.7" width="1.7" height="1.7" rx="0.5" fill="#ffd800"/><rect x="220.2" y="109.2" width="1.7" height="1.7" rx="0.5" fill="#b8860b"/><rect x="219" y="108.7" width="1.7" height="1.7" rx="0.5" fill="#b8860b"/><rect x="232" y="121.6" width="1.7" height="1.7" rx="0.5" fill="#1010f0"/><rect x="228.4" y="111.7" width="1.7" height="1.7" rx="0.5" fill="#1010f0"/><rect x="224.8" y="109.6" width="1.7" height="1.7" rx="0.5" fill="#1010f0"/><rect x="226.1" y="107" width="1.7" height="1.7" rx="0.5" fill="#1010f0"/><rect x="215" y="112.8" width="1.7" height="1.7" rx="0.5" fill="#b8860b"/><rect x="227.9" y="109.6" width="1.7" height="1.7" rx="0.5" fill="#2080ff"/><rect x="217.8" y="111.9" width="1.7" height="1.7" rx="0.5" fill="#ff8c00"/><rect x="223" y="108.9" width="1.7" height="1.7" rx="0.5" fill="#2080ff"/><rect x="220.8" y="116.3" width="1.7" height="1.7" rx="0.5" fill="#ff8c00"/><rect x="227.2" y="111.5" width="1.7" height="1.7" rx="0.5" fill="#b8860b"/><rect x="225.7" y="118.6" width="1.7" height="1.7" rx="0.5" fill="#1010f0"/><rect x="223.9" y="112" width="1.7" height="1.7" rx="0.5" fill="#1010f0"/><rect x="232.6" y="115.8" width="1.7" height="1.7" rx="0.5" fill="#1010f0"/><rect x="218.6" y="111.3" width="1.7" height="1.7" rx="0.5" fill="#00e070"/><rect x="222.5" y="132" width="1.7" height="1.7" rx="0.5" fill="#a000f0"/><rect x="226.9" y="106.1" width="1.7" height="1.7" rx="0.5" fill="#1010f0"/><rect x="223.3" y="108.8" width="1.7" height="1.7" rx="0.5" fill="#2080ff"/><rect x="232.9" y="120.9" width="1.7" height="1.7" rx="0.5" fill="#1010f0"/><rect x="228.3" y="108.3" width="1.7" height="1.7" rx="0.5" fill="#1010f0"/><rect x="229.2" y="107.7" width="1.7" height="1.7" rx="0.5" fill="#1010f0"/><rect x="225.2" y="128.2" width="1.7" height="1.7" rx="0.5" fill="#ff8c00"/><rect x="224.8" y="110.9" width="1.7" height="1.7" rx="0.5" fill="#b8860b"/><rect x="231.1" y="111.8" width="1.7" height="1.7" rx="0.5" fill="#b01818"/><rect x="228" y="110.2" width="1.7" height="1.7" rx="0.5" fill="#1010f0"/><rect x="221.8" y="110" width="1.7" height="1.7" rx="0.5" fill="#b8860b"/><rect x="221.2" y="113.6" width="1.7" height="1.7" rx="0.5" fill="#ff8c00"/><rect x="226.4" y="108.8" width="1.7" height="1.7" rx="0.5" fill="#b01818"/><rect x="224.8" y="116.4" width="1.7" height="1.7" rx="0.5" fill="#2080ff"/><rect x="220.2" y="101" width="1.7" height="1.7" rx="0.5" fill="#b8860b"/><rect x="220.5" y="108.1" width="1.7" height="1.7" rx="0.5" fill="#00e070"/><rect x="223" y="123.2" width="1.7" height="1.7" rx="0.5" fill="#a000f0"/><rect x="227.9" y="116.3" width="1.7" height="1.7" rx="0.5" fill="#b01818"/><rect x="230.2" y="112.3" width="1.7" height="1.7" rx="0.5" fill="#1010f0"/><rect x="232.9" y="111.3" width="1.7" height="1.7" rx="0.5" fill="#1010f0"/><rect x="225.1" y="114.3" width="1.7" height="1.7" rx="0.5" fill="#00e8f0"/><rect x="219.4" y="107.3" width="1.7" height="1.7" rx="0.5" fill="#b01818"/><rect x="214.7" y="111.6" width="1.7" height="1.7" rx="0.5" fill="#b8860b"/><rect x="224.8" y="114.9" width="1.7" height="1.7" rx="0.5" fill="#b8860b"/><rect x="223.8" y="117.3" width="1.7" height="1.7" rx="0.5" fill="#b8860b"/><rect x="226.8" y="105.6" width="1.7" height="1.7" rx="0.5" fill="#b01818"/><rect x="226.4" y="115.1" width="1.7" height="1.7" rx="0.5" fill="#1010f0"/><rect x="232.4" y="106.8" width="1.7" height="1.7" rx="0.5" fill="#1010f0"/><rect x="235.2" y="117.8" width="1.7" height="1.7" rx="0.5" fill="#1010f0"/><rect x="211.4" y="99.3" width="1.7" height="1.7" rx="0.5" fill="#ff3a10"/><rect x="227.4" y="115" width="1.7" height="1.7" rx="0.5" fill="#1010f0"/><rect x="216.1" y="101.8" width="1.7" height="1.7" rx="0.5" fill="#ff3a10"/><rect x="214.8" y="112.8" width="1.7" height="1.7" rx="0.5" fill="#b8860b"/><rect x="230.4" y="111.2" width="1.7" height="1.7" rx="0.5" fill="#1010f0"/><rect x="222.5" y="110.5" width="1.7" height="1.7" rx="0.5" fill="#b8860b"/><rect x="228.1" y="120.2" width="1.7" height="1.7" rx="0.5" fill="#1010f0"/><rect x="222.8" y="113.4" width="1.7" height="1.7" rx="0.5" fill="#b8860b"/><rect x="223.8" y="103.9" width="1.7" height="1.7" rx="0.5" fill="#1010f0"/><rect x="225.8" y="128.3" width="1.7" height="1.7" rx="0.5" fill="#b8860b"/><rect x="214.1" y="101.6" width="1.7" height="1.7" rx="0.5" fill="#ff3a10"/><rect x="222.2" y="122.4" width="1.7" height="1.7" rx="0.5" fill="#101010"/><rect x="228.7" y="114.3" width="1.7" height="1.7" rx="0.5" fill="#1010f0"/><rect x="215.6" y="111.6" width="1.7" height="1.7" rx="0.5" fill="#00e070"/><rect x="232" y="115" width="1.7" height="1.7" rx="0.5" fill="#1010f0"/><rect x="228.1" y="134.9" width="1.7" height="1.7" rx="0.5" fill="#a000f0"/><rect x="213.4" y="109.5" width="1.7" height="1.7" rx="0.5" fill="#00e070"/><rect x="222.8" y="111.9" width="1.7" height="1.7" rx="0.5" fill="#00e070"/><rect x="213.5" y="109.3" width="1.7" height="1.7" rx="0.5" fill="#00e070"/><rect x="232.3" y="112.9" width="1.7" height="1.7" rx="0.5" fill="#b01818"/><rect x="216.8" y="111.6" width="1.7" height="1.7" rx="0.5" fill="#ff8c00"/><rect x="228.1" y="125.5" width="1.7" height="1.7" rx="0.5" fill="#a000f0"/><rect x="228.8" y="104.2" width="1.7" height="1.7" rx="0.5" fill="#1010f0"/><rect x="233" y="108.1" width="1.7" height="1.7" rx="0.5" fill="#b8860b"/><rect x="221.2" y="112.6" width="1.7" height="1.7" rx="0.5" fill="#2080ff"/><rect x="228" y="110.2" width="1.7" height="1.7" rx="0.5" fill="#1010f0"/><rect x="226.8" y="125.8" width="1.7" height="1.7" rx="0.5" fill="#00e070"/><rect x="231.9" y="105.2" width="1.7" height="1.7" rx="0.5" fill="#1010f0"/><rect x="216.1" y="112" width="1.7" height="1.7" rx="0.5" fill="#b8860b"/><rect x="219.4" y="101.8" width="1.7" height="1.7" rx="0.5" fill="#b8860b"/><rect x="229.5" y="105.3" width="1.7" height="1.7" rx="0.5" fill="#b01818"/><rect x="212.8" y="108.4" width="1.7" height="1.7" rx="0.5" fill="#ff3a10"/><rect x="224.6" y="118.9" width="1.7" height="1.7" rx="0.5" fill="#006400"/><rect x="231.2" y="125.4" width="1.7" height="1.7" rx="0.5" fill="#1010f0"/><rect x="225.8" y="119.2" width="1.7" height="1.7" rx="0.5" fill="#1010f0"/><rect x="230.8" y="128.7" width="1.7" height="1.7" rx="0.5" fill="#a000f0"/><rect x="220" y="117.6" width="1.7" height="1.7" rx="0.5" fill="#00e070"/><rect x="223.8" y="116.2" width="1.7" height="1.7" rx="0.5" fill="#006400"/><rect x="223.3" y="106.2" width="1.7" height="1.7" rx="0.5" fill="#ff8c00"/><rect x="229.1" y="116.8" width="1.7" height="1.7" rx="0.5" fill="#1010f0"/><rect x="227" y="125.5" width="1.7" height="1.7" rx="0.5" fill="#a000f0"/><rect x="232.4" y="111.1" width="1.7" height="1.7" rx="0.5" fill="#1010f0"/><rect x="222.6" y="119.8" width="1.7" height="1.7" rx="0.5" fill="#006400"/><rect x="231.9" y="121.1" width="1.7" height="1.7" rx="0.5" fill="#1010f0"/><rect x="227.2" y="108.6" width="1.7" height="1.7" rx="0.5" fill="#1010f0"/><rect x="228.4" y="112.6" width="1.7" height="1.7" rx="0.5" fill="#1010f0"/><rect x="227" y="111.5" width="1.7" height="1.7" rx="0.5" fill="#b8860b"/><rect x="235.3" y="112.7" width="1.7" height="1.7" rx="0.5" fill="#1010f0"/><rect x="217.5" y="96.1" width="1.7" height="1.7" rx="0.5" fill="#00e070"/><rect x="227.7" y="116.7" width="1.7" height="1.7" rx="0.5" fill="#b8860b"/><rect x="228.8" y="107.8" width="1.7" height="1.7" rx="0.5" fill="#b01818"/><rect x="211.8" y="99.7" width="1.7" height="1.7" rx="0.5" fill="#ffd800"/><rect x="217.2" y="109.4" width="1.7" height="1.7" rx="0.5" fill="#b8860b"/><rect x="221.1" y="123.2" width="1.7" height="1.7" rx="0.5" fill="#ff8c00"/><rect x="234.5" y="121.1" width="1.7" height="1.7" rx="0.5" fill="#1010f0"/><rect x="230.4" y="113.7" width="1.7" height="1.7" rx="0.5" fill="#1010f0"/><rect x="226.7" y="114.7" width="1.7" height="1.7" rx="0.5" fill="#006400"/><rect x="218.4" y="121" width="1.7" height="1.7" rx="0.5" fill="#00e070"/><rect x="233.8" y="129.1" width="1.7" height="1.7" rx="0.5" fill="#1010f0"/><rect x="230" y="116.3" width="1.7" height="1.7" rx="0.5" fill="#1010f0"/><rect x="223.7" y="126.4" width="1.7" height="1.7" rx="0.5" fill="#1010f0"/><rect x="220.6" y="114.3" width="1.7" height="1.7" rx="0.5" fill="#2080ff"/><rect x="220.7" y="128.6" width="1.7" height="1.7" rx="0.5" fill="#00e070"/><rect x="220.5" y="122.3" width="1.7" height="1.7" rx="0.5" fill="#ff8c00"/><rect x="220.1" y="105.7" width="1.7" height="1.7" rx="0.5" fill="#ff8c00"/><rect x="230" y="104.1" width="1.7" height="1.7" rx="0.5" fill="#1010f0"/><rect x="220.6" y="97.8" width="1.7" height="1.7" rx="0.5" fill="#ff3a10"/><rect x="234.9" y="114.5" width="1.7" height="1.7" rx="0.5" fill="#1010f0"/><rect x="225" y="104.5" width="1.7" height="1.7" rx="0.5" fill="#1010f0"/><rect x="219.8" y="104.7" width="1.7" height="1.7" rx="0.5" fill="#ff3a10"/><rect x="214.4" y="105.7" width="1.7" height="1.7" rx="0.5" fill="#ff3a10"/><rect x="220.9" y="108" width="1.7" height="1.7" rx="0.5" fill="#1010f0"/><rect x="220.1" y="114.5" width="1.7" height="1.7" rx="0.5" fill="#b8860b"/><rect x="217" y="117.5" width="1.7" height="1.7" rx="0.5" fill="#b8860b"/><rect x="225.4" y="109" width="1.7" height="1.7" rx="0.5" fill="#ff8c00"/><rect x="223.4" y="121.9" width="1.7" height="1.7" rx="0.5" fill="#1010f0"/><rect x="229.6" y="128.4" width="1.7" height="1.7" rx="0.5" fill="#a000f0"/><rect x="226.3" y="130.7" width="1.7" height="1.7" rx="0.5" fill="#a000f0"/><rect x="222.5" y="120.8" width="1.7" height="1.7" rx="0.5" fill="#101010"/><rect x="227.5" y="120.8" width="1.7" height="1.7" rx="0.5" fill="#f000f0"/><rect x="230.3" y="129.5" width="1.7" height="1.7" rx="0.5" fill="#1010f0"/><rect x="233.9" y="107.1" width="1.7" height="1.7" rx="0.5" fill="#b01818"/><rect x="228.9" y="119.2" width="1.7" height="1.7" rx="0.5" fill="#1010f0"/><rect x="225" y="135.7" width="1.7" height="1.7" rx="0.5" fill="#a000f0"/><rect x="225.5" y="122.3" width="1.7" height="1.7" rx="0.5" fill="#a000f0"/><rect x="225.4" y="107.2" width="1.7" height="1.7" rx="0.5" fill="#b8860b"/><rect x="208.7" y="115.1" width="1.7" height="1.7" rx="0.5" fill="#00e070"/><rect x="231.9" y="119.3" width="1.7" height="1.7" rx="0.5" fill="#1010f0"/><rect x="221.1" y="116" width="1.7" height="1.7" rx="0.5" fill="#b8860b"/><rect x="228.7" y="113.6" width="1.7" height="1.7" rx="0.5" fill="#1010f0"/><rect x="216.9" y="112.4" width="1.7" height="1.7" rx="0.5" fill="#ff8c00"/><rect x="221.8" y="116.8" width="1.7" height="1.7" rx="0.5" fill="#b8860b"/><rect x="228.7" y="118" width="1.7" height="1.7" rx="0.5" fill="#00e8f0"/><rect x="225.4" y="116.3" width="1.7" height="1.7" rx="0.5" fill="#b8860b"/><rect x="226.7" y="118" width="1.7" height="1.7" rx="0.5" fill="#b01818"/><rect x="228.4" y="103.6" width="1.7" height="1.7" rx="0.5" fill="#1010f0"/><rect x="228.7" y="111.7" width="1.7" height="1.7" rx="0.5" fill="#ff8c00"/><rect x="236.9" y="114.2" width="1.7" height="1.7" rx="0.5" fill="#b01818"/><rect x="216.4" y="125.3" width="1.7" height="1.7" rx="0.5" fill="#b8860b"/><rect x="217.6" y="95.6" width="1.7" height="1.7" rx="0.5" fill="#ff3a10"/><rect x="228.5" y="131.4" width="1.7" height="1.7" rx="0.5" fill="#1010f0"/><rect x="226.5" y="111.3" width="1.7" height="1.7" rx="0.5" fill="#1010f0"/><rect x="219.4" y="90.5" width="1.7" height="1.7" rx="0.5" fill="#ffd800"/><rect x="232.4" y="109.7" width="1.7" height="1.7" rx="0.5" fill="#1010f0"/><rect x="226.2" y="112.1" width="1.7" height="1.7" rx="0.5" fill="#1010f0"/><rect x="223.2" y="116.1" width="1.7" height="1.7" rx="0.5" fill="#00e070"/><rect x="233.1" y="111.4" width="1.7" height="1.7" rx="0.5" fill="#1010f0"/><rect x="221.7" y="121" width="1.7" height="1.7" rx="0.5" fill="#101010"/><rect x="234.3" y="120.8" width="1.7" height="1.7" rx="0.5" fill="#1010f0"/><rect x="225.7" y="120.9" width="1.7" height="1.7" rx="0.5" fill="#a000f0"/><rect x="224.5" y="109.9" width="1.7" height="1.7" rx="0.5" fill="#b8860b"/><rect x="225.1" y="130.2" width="1.7" height="1.7" rx="0.5" fill="#a000f0"/><rect x="228.1" y="126.1" width="1.7" height="1.7" rx="0.5" fill="#a000f0"/><rect x="235.7" y="108.2" width="1.7" height="1.7" rx="0.5" fill="#1010f0"/><rect x="225.6" y="111.3" width="1.7" height="1.7" rx="0.5" fill="#1010f0"/><rect x="227.9" y="118.1" width="1.7" height="1.7" rx="0.5" fill="#1010f0"/><rect x="228.1" y="112.5" width="1.7" height="1.7" rx="0.5" fill="#1010f0"/><rect x="224.8" y="123.5" width="1.7" height="1.7" rx="0.5" fill="#1010f0"/><rect x="231.7" y="124.4" width="1.7" height="1.7" rx="0.5" fill="#1010f0"/><rect x="232.8" y="122.6" width="1.7" height="1.7" rx="0.5" fill="#1010f0"/><rect x="228.7" y="118" width="1.7" height="1.7" rx="0.5" fill="#1010f0"/><rect x="234.4" y="123.8" width="1.7" height="1.7" rx="0.5" fill="#1010f0"/><rect x="231.3" y="118.2" width="1.7" height="1.7" rx="0.5" fill="#1010f0"/><rect x="234.8" y="109.6" width="1.7" height="1.7" rx="0.5" fill="#1010f0"/><rect x="231.3" y="108.3" width="1.7" height="1.7" rx="0.5" fill="#1010f0"/><rect x="226.9" y="109.9" width="1.7" height="1.7" rx="0.5" fill="#1010f0"/><rect x="229.1" y="114.5" width="1.7" height="1.7" rx="0.5" fill="#1010f0"/><rect x="231.5" y="104.9" width="1.7" height="1.7" rx="0.5" fill="#1010f0"/><rect x="232.6" y="111.5" width="1.7" height="1.7" rx="0.5" fill="#1010f0"/><rect x="229.3" y="117" width="1.7" height="1.7" rx="0.5" fill="#1010f0"/><rect x="231.3" y="103.3" width="1.7" height="1.7" rx="0.5" fill="#1010f0"/><rect x="232.7" y="131.6" width="1.7" height="1.7" rx="0.5" fill="#1010f0"/><rect x="222.1" y="119.8" width="1.7" height="1.7" rx="0.5" fill="#1010f0"/><rect x="231.2" y="113" width="1.7" height="1.7" rx="0.5" fill="#1010f0"/><rect x="235.3" y="106.4" width="1.7" height="1.7" rx="0.5" fill="#1010f0"/><rect x="230.3" y="122.7" width="1.7" height="1.7" rx="0.5" fill="#1010f0"/><rect x="228.8" y="111.1" width="1.7" height="1.7" rx="0.5" fill="#1010f0"/><rect x="230.1" y="110.9" width="1.7" height="1.7" rx="0.5" fill="#1010f0"/><rect x="236" y="108.1" width="1.7" height="1.7" rx="0.5" fill="#1010f0"/><rect x="233.2" y="105.9" width="1.7" height="1.7" rx="0.5" fill="#1010f0"/><rect x="232.4" y="113" width="1.7" height="1.7" rx="0.5" fill="#1010f0"/><rect x="219" y="113.6" width="1.7" height="1.7" rx="0.5" fill="#1010f0"/><rect x="225.3" y="110.9" width="1.7" height="1.7" rx="0.5" fill="#1010f0"/><rect x="218.2" y="56.6" width="1.7" height="1.7" rx="0.5" fill="#ff3a10"/><rect x="207.1" y="116.6" width="1.7" height="1.7" rx="0.5" fill="#00e070"/><rect x="210.2" y="124.4" width="1.7" height="1.7" rx="0.5" fill="#f000f0"/><rect x="226.8" y="138.5" width="1.7" height="1.7" rx="0.5" fill="#a000f0"/><rect x="231.6" y="141.5" width="1.7" height="1.7" rx="0.5" fill="#a000f0"/><rect x="222.5" y="148.6" width="1.7" height="1.7" rx="0.5" fill="#f000f0"/><rect x="216.1" y="128.2" width="1.7" height="1.7" rx="0.5" fill="#ff8c00"/><rect x="228.8" y="98" width="1.7" height="1.7" rx="0.5" fill="#1010f0"/><rect x="239.7" y="106.2" width="1.7" height="1.7" rx="0.5" fill="#1010f0"/><rect x="236.7" y="105.7" width="1.7" height="1.7" rx="0.5" fill="#1010f0"/><rect x="239.1" y="117.7" width="1.7" height="1.7" rx="0.5" fill="#1010f0"/><rect x="236.5" y="125.7" width="1.7" height="1.7" rx="0.5" fill="#1010f0"/><rect x="218.5" y="88.2" width="1.7" height="1.7" rx="0.5" fill="#00e070"/><rect x="223.2" y="88.2" width="1.7" height="1.7" rx="0.5" fill="#ff3a10"/><rect x="226.7" y="85.2" width="1.7" height="1.7" rx="0.5" fill="#2080ff"/><rect x="210.5" y="94.2" width="1.7" height="1.7" rx="0.5" fill="#ffd800"/><rect x="210.2" y="98" width="1.7" height="1.7" rx="0.5" fill="#00e070"/><rect x="210.2" y="99.7" width="1.7" height="1.7" rx="0.5" fill="#ff3a10"/><rect x="215.7" y="94.7" width="1.7" height="1.7" rx="0.5" fill="#ff3a10"/><rect x="216.7" y="94.2" width="1.7" height="1.7" rx="0.5" fill="#ffd800"/><rect x="220.7" y="97.2" width="1.7" height="1.7" rx="0.5" fill="#00e070"/><rect x="231.1" y="105.4" width="1.7" height="1.7" rx="0.5" fill="#00e070"/><rect x="211" y="107.2" width="1.7" height="1.7" rx="0.5" fill="#00e070"/><rect x="214" y="111.4" width="1.7" height="1.7" rx="0.5" fill="#ff3a10"/><rect x="212.2" y="115.2" width="1.7" height="1.7" rx="0.5" fill="#ffd800"/><rect x="212.2" y="117.7" width="1.7" height="1.7" rx="0.5" fill="#00e070"/><rect x="215.2" y="118.2" width="1.7" height="1.7" rx="0.5" fill="#00e070"/><rect x="231.7" y="134.2" width="1.7" height="1.7" rx="0.5" fill="#a000f0"/><rect x="228.2" y="132.2" width="1.7" height="1.7" rx="0.5" fill="#1010f0"/>
<g font-family="'DejaVu Sans','Liberation Sans',sans-serif" fill="#484848" font-size="4.25" text-anchor="middle">
<text x="110.3" y="31.7">0.1</text>
<text x="110.3" y="121.7">0.0</text>
<text x="110.3" y="211.7">-0.1</text>
<text x="150.5" y="299">-0.10</text>
<text x="195.5" y="299">-0.05</text>
<text x="240.3" y="299">0.00</text>
<text x="285.3" y="299">0.05</text>
<text x="330.3" y="299">0.10</text>
</g>
<g font-family="'DejaVu Sans','Liberation Sans',sans-serif" fill="#1a1a1a">
<text x="233.5" y="304.8" font-size="5.3" text-anchor="middle">PC1 (0.364%)</text>
<text transform="translate(103.4 141.5) rotate(-90)" font-size="5.2" text-anchor="middle">PC2 (0.261%)</text>
<text x="359" y="60.2" font-size="5.3">POP</text>
<text x="369" y="69.3" font-size="4.25">Adygei</text>
<text x="369" y="77.5" font-size="4.25">Andalusia</text>
<circle cx="362.5" cy="76" r="0.8" fill="#00e070"/>
<text x="369" y="85.7" font-size="4.25">Aragon</text>
<circle cx="362.5" cy="84.2" r="0.8" fill="#ff3a10"/>
<text x="369" y="93.9" font-size="4.25">Balearic_Is.</text>
<circle cx="362.5" cy="92.4" r="0.8" fill="#a000f0"/>
<text x="369" y="102" font-size="4.25">Catalonia_B</text>
<circle cx="362.5" cy="100.5" r="0.8" fill="#1010f0"/>
<text x="369" y="110.2" font-size="4.25">Catalonia_G</text>
<circle cx="362.5" cy="108.7" r="0.8" fill="#b01818"/>
<text x="369" y="118.4" font-size="4.25">CLM</text>
<circle cx="362.5" cy="116.9" r="0.8" fill="#ffd800"/>
<text x="369" y="126.6" font-size="4.25">CYL</text>
<circle cx="362.5" cy="125.1" r="0.8" fill="#2080ff"/>
<text x="369" y="134.8" font-size="4.25">Extremadura</text>
<circle cx="362.5" cy="133.3" r="0.8" fill="#f000f0"/>
<text x="369" y="143" font-size="4.25">France</text>
<text x="369" y="151.2" font-size="4.25">Galicia</text>
<circle cx="362.5" cy="149.7" r="0.8" fill="#00e8f0"/>
<text x="369" y="159.3" font-size="4.25">Madrid</text>
<circle cx="362.5" cy="157.8" r="0.8" fill="#101010"/>
<text x="369" y="167.5" font-size="4.25">Murcia</text>
<circle cx="362.5" cy="166" r="0.8" fill="#006400"/>
<text x="369" y="175.7" font-size="4.25">North_Italian</text>
<text x="369" y="183.9" font-size="4.25">Orcadian</text>
<text x="369" y="192.1" font-size="4.25">Russian</text>
<text x="369" y="200.3" font-size="4.25">Sardinian</text>
<text x="369" y="208.4" font-size="4.25">Tuscan</text>
<text x="369" y="216.6" font-size="4.25">València_B</text>
<circle cx="362.5" cy="215.1" r="0.8" fill="#ff8c00"/>
<text x="369" y="224.8" font-size="4.25">València_G</text>
<circle cx="362.5" cy="223.3" r="0.8" fill="#b8860b"/>
<g fill="none" stroke="#bebebe" stroke-width="0.4"><circle cx="362.5" cy="67.8" r="1"/><path d="M362.5 140.2l1.2 2.2h-2.5z"/><path d="M361.5 174.2h2M362.5 173.2v2"/><path d="M361.5 181.4l2 2M361.5 183.4l2 -2"/><circle cx="362.5" cy="190.6" r="1"/><path d="M362.5 200l1.2 -2.2h-2.5z"/><rect x="361.5" y="205.9" width="2" height="2"/></g>
</g>
</g>
<text x="8" y="305" font-family="'Liberation Sans',sans-serif" font-size="11.2" fill="#111">B</text>
<g id="panelB">
<rect x="43.2" y="315.8" width="455.5" height="48.7" fill="#f0a4fb"/>
<path fill="#1b1b1b" d="M381.7 315.8V364.5h0.5V364.5h0.5V364.5h0.5V364.5h0.5V364.5h0.5V364.5h0.5V364.5h0.5V364.5h0.5V364.5h0.5V364.5h0.5V364.5h0.5V364.5h0.5V364.5h0.5V364.5h0.5V364.5h0.5V364.5h0.5V364.2h0.5V363.2h0.5V363.6h0.5V364.5h0.5V364.5h0.5V364.5h0.5V364.2h0.5V364.5h0.5V363.5h0.5V363.9h0.5V362.5h0.5V364.5h0.5V364.5h0.5V364.5h0.5V364h0.5V363.3h0.5V364.1h0.5V364.5h0.5V364.4h0.5V364.5h0.5V364.5h0.5V363.8h0.5V364h0.5V363.5h0.5V364.5h0.5V364.5h0.5V364.5h0.5V364.5h0.5V364.4h0.5V364.5h0.5V364.4h0.5V364.5h0.5V364.5h0.5V364.4h0.5V364.5h0.5V364.5h0.5V364.5h0.5V364.3h0.5V364.5h0.5V364.4h0.5V364.4h0.5V364.5h0.5V364.5h0.5V364.2h0.5V364.3h0.5V364.3h0.5V364.5h0.5V364.5h0.5V364.5h0.5V315.8Z"/>
<path fill="#4b0069" d="M43.2 315.8V329.8h0.5V328.7h0.5V327.6h0.5V328.6h0.5V327.6h0.5V327.5h0.5V327.8h0.5V324.3h0.5V328.4h0.5V326.8h0.5V326.8h0.5V325.6h0.5V326h0.5V327.6h0.5V328.6h0.5V329.8h0.5V327.8h0.5V329.3h0.5V327.3h0.5V325.6h0.5V328.1h0.5V328.1h0.5V327.2h0.5V327.6h0.5V328.3h0.5V326.3h0.5V325.9h0.5V327.4h0.5V327.6h0.5V327.5h0.5V330.6h0.5V329.8h0.5V329.1h0.5V328.4h0.5V328.8h0.5V328.2h0.5V328.9h0.5V327.3h0.5V328.7h0.5V330h0.5V328.2h0.5V326.9h0.5V328.7h0.5V331.7h0.5V328.2h0.5V326.7h0.5V329.2h0.5V326.7h0.5V328.6h0.5V328.1h0.5V327h0.5V329.1h0.5V328.3h0.5V326.4h0.5V328.7h0.5V327.1h0.5V325.4h0.5V326.9h0.5V327.3h0.5V328.5h0.5V327.6h0.5V327.9h0.5V328.1h0.5V327.6h0.5V329.5h0.5V327.8h0.5V328.2h0.5V328.4h0.5V326.3h0.5V326.7h0.5V329.6h0.5V328.3h0.5V327.3h0.5V328.4h0.5V326.9h0.5V328.6h0.5V326.4h0.5V328h0.5V325.7h0.5V329.2h0.5V327h0.5V325.7h0.5V326.9h0.5V327.1h0.5V328.4h0.5V326h0.5V327.8h0.5V332.1h0.5V325.7h0.5V328.8h0.5V327.2h0.5V327.8h0.5V325.5h0.5V325.9h0.5V328.6h0.5V328h0.5V329.8h0.5V326.9h0.5V328.2h0.5V331.4h0.5V326.7h0.5V326.6h0.5V327.9h0.5V327.4h0.5V328.9h0.5V327.5h0.5V326.3h0.5V328.2h0.5V329.3h0.5V331.5h0.5V326.6h0.5V329.8h0.5V327.6h0.5V326.9h0.5V327.2h0.5V332.3h0.5V328.8h0.5V325.4h0.5V327.9h0.5V327.8h0.5V328.1h0.5V326.9h0.5V326.1h0.5V329.1h0.5V326h0.5V326.9h0.5V326.5h0.5V326.6h0.5V329.3h0.5V328.4h0.5V327.2h0.5V326.4h0.5V326.5h0.5V328h0.5V328h0.5V328.1h0.5V326.8h0.5V327.5h0.5V327.3h0.5V325.5h0.5V330.1h0.5V326.3h0.5V326.7h0.5V329.9h0.5V327.6h0.5V328.2h0.5V326.9h0.5V325.8h0.5V327.9h0.5V328.9h0.5V326.4h0.5V329.3h0.5V328.1h0.5V326.8h0.5V327.9h0.5V328h0.5V328.4h0.5V327.1h0.5V326.4h0.5V324.7h0.5V326.6h0.5V326.5h0.5V325.9h0.5V328.5h0.5V326.5h0.5V325h0.5V331.4h0.5V327h0.5V326.3h0.5V329.3h0.5V329.2h0.5V326.3h0.5V326.3h0.5V326.5h0.5V329.1h0.5V327.4h0.5V327.1h0.5V328h0.5V329.4h0.5V326.3h0.5V327.5h0.5V325.6h0.5V330.6h0.5V330h0.5V331.6h0.5V327.7h0.5V328.7h0.5V325h0.5V328h0.5V325.6h0.5V326.1h0.5V326.8h0.5V326.9h0.5V329h0.5V328.3h0.5V328.4h0.5V326.7h0.5V328.7h0.5V327h0.5V329.8h0.5V326.7h0.5V324.6h0.5V326.9h0.5V332.7h0.5V334.2h0.5V332.3h0.5V327.8h0.5V328.7h0.5V329.1h0.5V327.7h0.5V327.7h0.5V328h0.5V327.5h0.5V327h0.5V325.2h0.5V330.2h0.5V325.7h0.5V326.4h0.5V328.7h0.5V328.1h0.5V324h0.5V323h0.5V324.4h0.5V324.2h0.5V322.9h0.5V324.3h0.5V323.6h0.5V325.4h0.5V323.6h0.5V325.1h0.5V323.8h0.5V325.9h0.5V324.4h0.5V324.4h0.5V324.7h0.5V324.6h0.5V325.2h0.5V325.2h0.5V323.8h0.5V323.1h0.5V322.1h0.5V323.2h0.5V324.5h0.5V324h0.5V324.7h0.5V324.1h0.5V323.6h0.5V325.1h0.5V324.7h0.5V323.1h0.5V324.5h0.5V323.2h0.5V323.5h0.5V323.4h0.5V323.9h0.5V323.3h0.5V323.2h0.5V322.8h0.5V323.8h0.5V325.6h0.5V324.6h0.5V323.1h0.5V324.8h0.5V324.7h0.5V324.2h0.5V325.1h0.5V323.2h0.5V321.8h0.5V324.4h0.5V325.4h0.5V324.9h0.5V323.4h0.5V324.5h0.5V325h0.5V322.5h0.5V323.3h0.5V323.6h0.5V325.3h0.5V323.6h0.5V325.3h0.5V323.5h0.5V324.9h0.5V326.2h0.5V324.9h0.5V324.4h0.5V325.2h0.5V324.5h0.5V323.1h0.5V325.7h0.5V324.2h0.5V324.6h0.5V324.5h0.5V324.5h0.5V324h0.5V325.1h0.5V324.1h0.5V324.8h0.5V324.6h0.5V323.9h0.5V323.5h0.5V323.4h0.5V323.9h0.5V323.6h0.5V324.1h0.5V325.1h0.5V324h0.5V325.2h0.5V324.3h0.5V326.2h0.5V323.6h0.5V324.3h0.5V325.8h0.5V324.3h0.5V324.5h0.5V324.1h0.5V324.9h0.5V323.6h0.5V323.4h0.5V325.1h0.5V324.7h0.5V323.9h0.5V324h0.5V325.9h0.5V323.8h0.5V333.2h0.5V332.1h0.5V328.3h0.5V328.3h0.5V326.8h0.5V324.1h0.5V323.2h0.5V322.9h0.5V322.8h0.5V325.4h0.5V323.4h0.5V324.8h0.5V323.8h0.5V322.8h0.5V323.4h0.5V325.1h0.5V324.6h0.5V322.6h0.5V324.8h0.5V324.5h0.5V324.6h0.5V324.2h0.5V324h0.5V324.5h0.5V324.8h0.5V325.7h0.5V323.8h0.5V325.4h0.5V323.7h0.5V324.6h0.5V323.4h0.5V323.4h0.5V324.3h0.5V323.5h0.5V324.8h0.5V324.5h0.5V324h0.5V323.2h0.5V325.5h0.5V324.1h0.5V324.1h0.5V324h0.5V322.8h0.5V324.2h0.5V324.1h0.5V326.3h0.5V325.1h0.5V324.5h0.5V325h0.5V324.1h0.5V323.7h0.5V323.5h0.5V322.6h0.5V323.5h0.5V324h0.5V322.2h0.5V326.3h0.5V328.4h0.5V335.8h0.5V330.8h0.5V339.4h0.5V322.4h0.5V322.8h0.5V320.6h0.5V320.4h0.5V321h0.5V321.3h0.5V320.4h0.5V320.7h0.5V319.2h0.5V321.1h0.5V318.4h0.5V319h0.5V318.8h0.5V318.3h0.5V318.3h0.5V317.9h0.5V318.6h0.5V318.9h0.5V318.2h0.5V319.2h0.5V318.3h0.5V318.6h0.5V318.4h0.5V319.4h0.5V319h0.5V318.9h0.5V319.7h0.5V317.8h0.5V318.4h0.5V318h0.5V318.5h0.5V319.9h0.5V319h0.5V324.2h0.5V322.7h0.5V324.6h0.5V324.2h0.5V325.1h0.5V323.8h0.5V322.6h0.5V322.9h0.5V323.5h0.5V323.3h0.5V324.3h0.5V323.4h0.5V323.2h0.5V323.3h0.5V323.1h0.5V323.1h0.5V323.3h0.5V323.9h0.5V322.8h0.5V322.5h0.5V323.2h0.5V322.6h0.5V339.3h0.5V345.5h0.5V342.6h0.5V350.2h0.5V340h0.5V343.6h0.5V343.9h0.5V348.2h0.5V345.1h0.5V349.2h0.5V350.3h0.5V345.9h0.5V329.5h0.5V331.6h0.5V329.9h0.5V328.9h0.5V325.3h0.5V329.1h0.5V329.1h0.5V328.2h0.5V328.2h0.5V330.4h0.5V331h0.5V332.3h0.5V331.2h0.5V328.5h0.5V329.9h0.5V330.7h0.5V330.6h0.5V331.3h0.5V328.6h0.5V329.3h0.5V329.1h0.5V328.9h0.5V326.1h0.5V323.9h0.5V324.5h0.5V324.6h0.5V325.6h0.5V335h0.5V337h0.5V335.4h0.5V330.2h0.5V329.8h0.5V328h0.5V326.4h0.5V328.2h0.5V328.3h0.5V324.5h0.5V324.4h0.5V324.3h0.5V323.4h0.5V324.3h0.5V324.9h0.5V324.3h0.5V325.4h0.5V326.9h0.5V322.8h0.5V324.8h0.5V325h0.5V330.5h0.5V330.5h0.5V331.4h0.5V331.2h0.5V329.8h0.5V331.2h0.5V331.2h0.5V329.8h0.5V329.2h0.5V330.6h0.5V331.1h0.5V315.8ZM299.2 315.8V332.8h0.5V329.6h0.5V333.1h0.5V331.8h0.5V329.1h0.5V329.9h0.5V315.8ZM302.7 315.8V328.3h0.5V340.4h0.5V351h0.5V336.9h0.5V345h0.5V348.9h0.5V345.8h0.5V350h0.5V350.1h0.5V350.9h0.5V353.8h0.5V359h0.5V352.3h0.5V348.2h0.5V352.3h0.5V347.2h0.5V353.4h0.5V353.5h0.5V352.1h0.5V353.8h0.5V349.8h0.5V355.5h0.5V352.2h0.5V357.1h0.5V356h0.5V353.2h0.5V355.7h0.5V354.2h0.5V358.3h0.5V353.8h0.5V357.4h0.5V353h0.5V364.4h0.5V357h0.5V360.1h0.5V355.2h0.5V355.7h0.5V360.1h0.5V357.7h0.5V357.3h0.5V360.6h0.5V356.4h0.5V356.2h0.5V356.3h0.5V350.5h0.5V357.9h0.5V356.4h0.5V354.6h0.5V353h0.5V357.7h0.5V353.1h0.5V355.2h0.5V358.5h0.5V358.8h0.5V353.7h0.5V362.2h0.5V355.9h0.5V356.3h0.5V355.2h0.5V361.5h0.5V361.3h0.5V358h0.5V359.2h0.5V360.2h0.5V359.6h0.5V357.8h0.5V359.8h0.5V361.3h0.5V359.2h0.5V357.9h0.5V361.5h0.5V357h0.5V361.3h0.5V362.3h0.5V361.6h0.5V361.3h0.5V364.5h0.5V364h0.5V364.1h0.5V364.2h0.5V364.1h0.5V364.5h0.5V363.7h0.5V363.2h0.5V364.5h0.5V363.6h0.5V363.6h0.5V364h0.5V341.8h0.5V342.6h0.5V345h0.5V348.2h0.5V349h0.5V350.7h0.5V351.9h0.5V354.9h0.5V357h0.5V352.6h0.5V351.7h0.5V353.6h0.5V355h0.5V354.2h0.5V351.3h0.5V354.1h0.5V353.7h0.5V353.6h0.5V352.1h0.5V353.5h0.5V355h0.5V354.4h0.5V353.5h0.5V352.9h0.5V356.7h0.5V354.2h0.5V355.5h0.5V357.3h0.5V356.8h0.5V359h0.5V354.2h0.5V355.8h0.5V354.5h0.5V356.9h0.5V355.9h0.5V356.6h0.5V351.9h0.5V356.5h0.5V355.3h0.5V355.6h0.5V351.5h0.5V356.1h0.5V357.3h0.5V358.5h0.5V355.9h0.5V356.5h0.5V357.4h0.5V355.6h0.5V354.1h0.5V357.6h0.5V356.2h0.5V356.2h0.5V358.5h0.5V357.7h0.5V357.4h0.5V356.1h0.5V355.8h0.5V355.5h0.5V355.3h0.5V359.5h0.5V356.6h0.5V358.8h0.5V354.2h0.5V357.6h0.5V356.1h0.5V356.8h0.5V355.2h0.5V355.3h0.5V358.2h0.5V358.2h0.5V315.8ZM422.7 315.8V362.3h0.5V364.5h0.5V364.3h0.5V364.2h0.5V363.9h0.5V364.5h0.5V364.4h0.5V363.4h0.5V361.7h0.5V364.3h0.5V364.5h0.5V362.3h0.5V360.8h0.5V363.4h0.5V361.8h0.5V364.5h0.5V364.5h0.5V361.2h0.5V363h0.5V364.5h0.5V363.7h0.5V364.5h0.5V362.4h0.5V362.9h0.5V364.5h0.5V363.9h0.5V363.8h0.5V362h0.5V363.1h0.5V364.1h0.5V360.9h0.5V361.6h0.5V364.5h0.5V361.5h0.5V364.4h0.5V362h0.5V364.1h0.5V364.5h0.5V363.1h0.5V363.5h0.5V363.8h0.5V362.8h0.5V363.4h0.5V363.7h0.5V363.5h0.5V363.2h0.5V363.4h0.5V363.1h0.5V363.5h0.5V363.6h0.5V363.4h0.5V363.5h0.5V358.7h0.5V359.8h0.5V357.1h0.5V359.4h0.5V357.7h0.5V357.7h0.5V359.2h0.5V360h0.5V361.1h0.5V356.8h0.5V361.1h0.5V359.8h0.5V361.4h0.5V363.8h0.5V357.4h0.5V359.9h0.5V360.7h0.5V361.7h0.5V358.7h0.5V356.6h0.5V359.4h0.5V360.8h0.5V358.7h0.5V358.5h0.5V356.7h0.5V362.3h0.5V360.8h0.5V359.9h0.5V361.3h0.5V359.1h0.5V357.7h0.5V356.2h0.5V359.9h0.5V360.3h0.5V358.8h0.5V360.2h0.5V359.3h0.5V360.4h0.5V364.5h0.5V361.4h0.5V362.3h0.5V361.9h0.5V361.8h0.5V364.5h0.5V363h0.5V364.5h0.5V362.1h0.5V364.5h0.5V364.5h0.5V363h0.5V364.5h0.5V362.2h0.5V364.5h0.5V364.5h0.5V362.1h0.5V360.2h0.5V360.5h0.5V360.8h0.5V360h0.5V360.8h0.5V360.3h0.5V359.9h0.5V360.5h0.5V362.4h0.5V359.7h0.5V357.5h0.5V362.4h0.5V360.7h0.5V360.5h0.5V361.6h0.5V361.9h0.5V360.1h0.5V364.5h0.5V361.8h0.5V364.4h0.5V362.8h0.5V359.6h0.5V360h0.5V361.2h0.5V358.5h0.5V363h0.5V360.9h0.5V315.8Z"/>
<path fill="#0b5e31" d="M43.2 315.8V317.9h0.5V317.7h0.5V318.5h0.5V318h0.5V318.5h0.5V317.9h0.5V317.9h0.5V317.5h0.5V318.4h0.5V318.4h0.5V318h0.5V317.7h0.5V318.2h0.5V317.7h0.5V317.8h0.5V317.9h0.5V318.1h0.5V318.2h0.5V317.9h0.5V318.3h0.5V317.7h0.5V317.8h0.5V317.4h0.5V317.4h0.5V317.9h0.5V317.7h0.5V318h0.5V317.9h0.5V318.1h0.5V318.2h0.5V318.4h0.5V317.9h0.5V317.6h0.5V317.8h0.5V317.9h0.5V317.6h0.5V317.9h0.5V318.1h0.5V318h0.5V317.7h0.5V317.5h0.5V318h0.5V318.2h0.5V318.1h0.5V318h0.5V317.6h0.5V317.5h0.5V318.5h0.5V318.2h0.5V318.3h0.5V318.7h0.5V317.8h0.5V318.1h0.5V318.1h0.5V318.2h0.5V317.9h0.5V318.1h0.5V318.1h0.5V317.3h0.5V317.9h0.5V317.7h0.5V318.1h0.5V317.7h0.5V318.1h0.5V318.2h0.5V317.9h0.5V318.1h0.5V318h0.5V317.9h0.5V317.8h0.5V318h0.5V318.1h0.5V317.9h0.5V318.2h0.5V317.8h0.5V318.5h0.5V317.5h0.5V317.9h0.5V318h0.5V317.8h0.5V317.9h0.5V318h0.5V317.5h0.5V317.8h0.5V318.5h0.5V317.7h0.5V317.6h0.5V317.7h0.5V317.5h0.5V318.7h0.5V317.8h0.5V317.8h0.5V318h0.5V317.6h0.5V318.3h0.5V318.3h0.5V318h0.5V318.1h0.5V318.2h0.5V318h0.5V317.9h0.5V318h0.5V318.2h0.5V317.7h0.5V318.1h0.5V317.6h0.5V317.6h0.5V318.2h0.5V318h0.5V317.9h0.5V318.2h0.5V318.2h0.5V317.6h0.5V317.9h0.5V317.9h0.5V317.9h0.5V317.8h0.5V317.9h0.5V318.1h0.5V318.2h0.5V318.6h0.5V317.8h0.5V318.2h0.5V318.3h0.5V317.4h0.5V317.7h0.5V317.6h0.5V317.8h0.5V318.6h0.5V318.1h0.5V318.4h0.5V317.9h0.5V317.3h0.5V317.1h0.5V318.1h0.5V318h0.5V317.4h0.5V318.1h0.5V317.3h0.5V318.1h0.5V318.3h0.5V317.6h0.5V317.7h0.5V318.4h0.5V317.6h0.5V318.4h0.5V317.7h0.5V318h0.5V317.9h0.5V317.7h0.5V317.8h0.5V317.8h0.5V317.6h0.5V318h0.5V317.5h0.5V318.2h0.5V317.8h0.5V318.3h0.5V318h0.5V317.4h0.5V318.4h0.5V318.2h0.5V318h0.5V317.4h0.5V317.6h0.5V317.8h0.5V318.2h0.5V318.3h0.5V318.2h0.5V318h0.5V318h0.5V318h0.5V318.4h0.5V318h0.5V317.9h0.5V318h0.5V318.4h0.5V318.3h0.5V318.2h0.5V318.4h0.5V318.2h0.5V317.6h0.5V318.1h0.5V317.9h0.5V317.8h0.5V318.1h0.5V318.1h0.5V317.9h0.5V317.9h0.5V317.6h0.5V318h0.5V317.9h0.5V317.6h0.5V318.5h0.5V317.6h0.5V318.3h0.5V318.1h0.5V318.1h0.5V317.4h0.5V318.1h0.5V318.1h0.5V318.4h0.5V317.7h0.5V318.7h0.5V318.2h0.5V317h0.5V316.8h0.5V319.5h0.5V318.2h0.5V318.2h0.5V318.1h0.5V318h0.5V317.8h0.5V317.8h0.5V317.7h0.5V318.1h0.5V318h0.5V317.1h0.5V318.1h0.5V317.9h0.5V318h0.5V318.6h0.5V319.1h0.5V319.1h0.5V319h0.5V319.1h0.5V318.8h0.5V319h0.5V319h0.5V318.4h0.5V318.9h0.5V319h0.5V318.7h0.5V318.7h0.5V318.7h0.5V318.5h0.5V318.7h0.5V318.5h0.5V318.7h0.5V318.8h0.5V318.8h0.5V318.2h0.5V318.6h0.5V318.4h0.5V318.7h0.5V319h0.5V318.7h0.5V318.5h0.5V319h0.5V319.1h0.5V318.6h0.5V319h0.5V318.2h0.5V318.6h0.5V318.8h0.5V318.7h0.5V318.8h0.5V318.3h0.5V318.7h0.5V318.8h0.5V319h0.5V319.1h0.5V318.5h0.5V318.8h0.5V318.3h0.5V318.8h0.5V318.5h0.5V318.9h0.5V318.8h0.5V319h0.5V318.7h0.5V318.5h0.5V318.2h0.5V319h0.5V318.6h0.5V318.5h0.5V318.7h0.5V318.7h0.5V318.8h0.5V318.7h0.5V318.1h0.5V318.9h0.5V319.1h0.5V318.6h0.5V318.6h0.5V318.5h0.5V318.2h0.5V318.6h0.5V318.5h0.5V318.8h0.5V319h0.5V318.5h0.5V319.2h0.5V318.5h0.5V318.4h0.5V318.8h0.5V318.8h0.5V319.2h0.5V318.9h0.5V318.5h0.5V318.6h0.5V318.6h0.5V318.7h0.5V319h0.5V318.8h0.5V318.8h0.5V319h0.5V318.8h0.5V319.4h0.5V318.8h0.5V318.8h0.5V318.4h0.5V318.3h0.5V318.4h0.5V318.5h0.5V318.8h0.5V319.2h0.5V318.7h0.5V318.4h0.5V318.7h0.5V318.9h0.5V318.8h0.5V318.9h0.5V318.6h0.5V319.5h0.5V320h0.5V318.8h0.5V319.7h0.5V319.3h0.5V319.3h0.5V318.7h0.5V318.9h0.5V318.3h0.5V318.3h0.5V319h0.5V318.5h0.5V318.5h0.5V318.7h0.5V318.3h0.5V318.4h0.5V319h0.5V318.4h0.5V319.1h0.5V318.2h0.5V318.5h0.5V318.4h0.5V318.6h0.5V318.9h0.5V318.6h0.5V318.7h0.5V318.6h0.5V319.1h0.5V318.7h0.5V318.8h0.5V318.9h0.5V318.7h0.5V318.7h0.5V318.9h0.5V319.2h0.5V318.1h0.5V318.7h0.5V318.8h0.5V318.4h0.5V318.6h0.5V319h0.5V318.9h0.5V318.5h0.5V318.4h0.5V318.5h0.5V318.8h0.5V318.9h0.5V318.5h0.5V318.7h0.5V319h0.5V318.7h0.5V318.3h0.5V318.3h0.5V318.3h0.5V318.9h0.5V319.9h0.5V318.7h0.5V318.4h0.5V319.1h0.5V319.4h0.5V318.9h0.5V317h0.5V316.8h0.5V316.9h0.5V317h0.5V316.8h0.5V316.6h0.5V317h0.5V317.1h0.5V316.5h0.5V316.7h0.5V316.4h0.5V316.7h0.5V316.8h0.5V316.7h0.5V316.7h0.5V316.6h0.5V316.8h0.5V316.7h0.5V316.5h0.5V317.2h0.5V316.6h0.5V316.6h0.5V316.6h0.5V316.7h0.5V317h0.5V316.9h0.5V317.1h0.5V316.9h0.5V316.8h0.5V317h0.5V316.6h0.5V316.8h0.5V316.8h0.5V319.5h0.5V318.6h0.5V319.4h0.5V319.6h0.5V319.1h0.5V318.9h0.5V319.2h0.5V319.4h0.5V319.2h0.5V319h0.5V319.2h0.5V318.6h0.5V319.1h0.5V319.2h0.5V319.4h0.5V319.5h0.5V318.5h0.5V319.3h0.5V319.3h0.5V318.8h0.5V319.2h0.5V319.1h0.5V331.6h0.5V333.6h0.5V333h0.5V336.4h0.5V328.7h0.5V332.9h0.5V330.6h0.5V333.6h0.5V331.9h0.5V332.5h0.5V333.2h0.5V333.1h0.5V315.8ZM280.2 315.8V322.1h0.5V320.5h0.5V320.5h0.5V320.3h0.5V321.5h0.5V315.8ZM287.2 315.8V321.6h0.5V321.6h0.5V322.2h0.5V321.1h0.5V321.4h0.5V322.1h0.5V322.4h0.5V322.2h0.5V322.3h0.5V321h0.5V321.7h0.5V322.7h0.5V330h0.5V329.9h0.5V330.6h0.5V330.3h0.5V329.1h0.5V330.6h0.5V330.8h0.5V329.6h0.5V328.5h0.5V330.1h0.5V330.3h0.5V329.6h0.5V331.6h0.5V329.5h0.5V330.3h0.5V329.8h0.5V329h0.5V329.6h0.5V329.5h0.5V328.2h0.5V315.8ZM316.7 315.8V330.7h0.5V327.3h0.5V326.7h0.5V326.1h0.5V330.4h0.5V328.7h0.5V329.7h0.5V329.2h0.5V327.3h0.5V329.4h0.5V328.3h0.5V329.8h0.5V327.2h0.5V326.4h0.5V328.1h0.5V315.8ZM328.2 315.8V325.9h0.5V328.2h0.5V327h0.5V325.4h0.5V327.1h0.5V324.5h0.5V326.6h0.5V326h0.5V325.3h0.5V325.9h0.5V325h0.5V324.3h0.5V324h0.5V325h0.5V323.7h0.5V324.5h0.5V324h0.5V322.8h0.5V323.2h0.5V323h0.5V322.3h0.5V324.4h0.5V321.5h0.5V322.1h0.5V321.3h0.5V323h0.5V317.9h0.5V317.9h0.5V317.8h0.5V317.8h0.5V317.8h0.5V317.7h0.5V317.7h0.5V317.7h0.5V317.6h0.5V317.6h0.5V318.1h0.5V326.1h0.5V323.3h0.5V325.6h0.5V325.2h0.5V323.3h0.5V323.7h0.5V324.8h0.5V325.3h0.5V327.6h0.5V324.9h0.5V325.1h0.5V325.9h0.5V325.6h0.5V323.6h0.5V323h0.5V324.8h0.5V324.7h0.5V324.5h0.5V324.1h0.5V324.7h0.5V325.1h0.5V324.6h0.5V323.7h0.5V324.5h0.5V324.9h0.5V325.1h0.5V323.8h0.5V324.9h0.5V325.9h0.5V326.2h0.5V324h0.5V325.5h0.5V324.2h0.5V325.6h0.5V325.5h0.5V324.3h0.5V326.3h0.5V326.5h0.5V325.4h0.5V327.2h0.5V326.4h0.5V326.3h0.5V327.2h0.5V325.9h0.5V327.7h0.5V328.2h0.5V327.5h0.5V326h0.5V325.8h0.5V328.7h0.5V327.5h0.5V326.1h0.5V328.1h0.5V325.9h0.5V326.9h0.5V325.9h0.5V326.3h0.5V325h0.5V327.5h0.5V327.2h0.5V326.9h0.5V327.5h0.5V326.2h0.5V326.9h0.5V326.3h0.5V327.9h0.5V327h0.5V327.4h0.5V326.4h0.5V327.2h0.5V315.8ZM422.7 315.8V352.9h0.5V355.8h0.5V354.7h0.5V355h0.5V355h0.5V354.7h0.5V353.6h0.5V354.2h0.5V352h0.5V352.7h0.5V353.7h0.5V351.8h0.5V352.4h0.5V353.8h0.5V353.2h0.5V354.4h0.5V354.4h0.5V351.5h0.5V353.4h0.5V360.5h0.5V357.7h0.5V359.2h0.5V357.4h0.5V358.9h0.5V361h0.5V358.3h0.5V358.8h0.5V358.3h0.5V358.3h0.5V359.3h0.5V357.6h0.5V358.1h0.5V358.9h0.5V359.1h0.5V359.4h0.5V357.5h0.5V357.7h0.5V359.1h0.5V362.6h0.5V362.9h0.5V363.4h0.5V362.3h0.5V363h0.5V363.3h0.5V362.9h0.5V362.6h0.5V362.8h0.5V362.5h0.5V362.8h0.5V363.1h0.5V363h0.5V363.1h0.5V351.7h0.5V350.1h0.5V349.3h0.5V351.1h0.5V352.2h0.5V349.6h0.5V351.8h0.5V352.4h0.5V352.3h0.5V348.4h0.5V353.7h0.5V352.1h0.5V353.9h0.5V353h0.5V349.1h0.5V352.4h0.5V352h0.5V353.1h0.5V350.1h0.5V350.8h0.5V354.3h0.5V354.7h0.5V355.2h0.5V354.2h0.5V351.3h0.5V354.6h0.5V354.1h0.5V352.1h0.5V353.7h0.5V353.8h0.5V351.9h0.5V351.8h0.5V352.6h0.5V353.6h0.5V352.2h0.5V353.5h0.5V352.9h0.5V355h0.5V357h0.5V356.2h0.5V357.7h0.5V356.3h0.5V355.5h0.5V358.4h0.5V355.9h0.5V357.4h0.5V355.9h0.5V358.1h0.5V358.9h0.5V357.5h0.5V357h0.5V355.3h0.5V356.5h0.5V358.8h0.5V356.7h0.5V358.9h0.5V358.7h0.5V359h0.5V358.7h0.5V358.8h0.5V359.2h0.5V358.2h0.5V359h0.5V353.6h0.5V350.8h0.5V352.3h0.5V352.2h0.5V352.4h0.5V351.4h0.5V353h0.5V352.6h0.5V350.4h0.5V353.6h0.5V353.7h0.5V351.7h0.5V353.9h0.5V351.6h0.5V352.8h0.5V350.7h0.5V351.4h0.5V352.5h0.5V351.1h0.5V364.5h0.5V364.5h0.5V364.5h0.5V364.5h0.5V364.5h0.5V364.5h0.5V364.5h0.5V364.5h0.5V364.5h0.5V364.5h0.5V364.5h0.5V364.5h0.5V364.5h0.5V364.5h0.5V364.5h0.5V364.5h0.5V364.5h0.5V364.5h0.5V315.8Z"/>
<path fill="#a44800" d="M43.2 315.8V316.2h0.5V316.4h0.5V316.4h0.5V316.1h0.5V316.1h0.5V316.1h0.5V316.3h0.5V316.2h0.5V316.3h0.5V315.9h0.5V316.4h0.5V316.2h0.5V316.3h0.5V316.2h0.5V316.1h0.5V316.3h0.5V316.3h0.5V316.2h0.5V316.2h0.5V316.3h0.5V316.1h0.5V316h0.5V316.2h0.5V316.1h0.5V315.9h0.5V316.1h0.5V316.1h0.5V316h0.5V316h0.5V316.2h0.5V316.3h0.5V316.2h0.5V316.1h0.5V316.2h0.5V316.3h0.5V316.1h0.5V316.3h0.5V316.3h0.5V316.2h0.5V316.1h0.5V316.2h0.5V316.2h0.5V316.4h0.5V316h0.5V316.1h0.5V316.1h0.5V315.9h0.5V316.2h0.5V316.3h0.5V316.1h0.5V316.4h0.5V316.3h0.5V316.3h0.5V316.3h0.5V316.3h0.5V316h0.5V316.3h0.5V316.3h0.5V315.9h0.5V316.2h0.5V316.2h0.5V316.3h0.5V316.1h0.5V316.2h0.5V316.2h0.5V316.1h0.5V316.3h0.5V316.2h0.5V316.3h0.5V316.1h0.5V316.4h0.5V316.3h0.5V316.2h0.5V316.3h0.5V316.4h0.5V316.5h0.5V316h0.5V316.3h0.5V316.3h0.5V316.2h0.5V316h0.5V316.4h0.5V316h0.5V316.3h0.5V316.4h0.5V315.9h0.5V316.1h0.5V316h0.5V316.2h0.5V316.4h0.5V316.5h0.5V315.9h0.5V316.1h0.5V316.3h0.5V316.4h0.5V316.3h0.5V316.1h0.5V316.2h0.5V316.2h0.5V316.2h0.5V316.1h0.5V316.2h0.5V316.2h0.5V316.2h0.5V316.2h0.5V316h0.5V316.1h0.5V316.4h0.5V316.3h0.5V316.2h0.5V316.3h0.5V316.4h0.5V316h0.5V316.1h0.5V316.2h0.5V316h0.5V316.1h0.5V316.3h0.5V316.4h0.5V316.4h0.5V316.2h0.5V316.2h0.5V316.4h0.5V316.1h0.5V316.2h0.5V316.4h0.5V316.1h0.5V316.1h0.5V316.2h0.5V316.3h0.5V316.3h0.5V316.2h0.5V316.3h0.5V315.9h0.5V316.1h0.5V316.2h0.5V316h0.5V316h0.5V316h0.5V316.1h0.5V316.2h0.5V316h0.5V316.2h0.5V316.4h0.5V316.2h0.5V316.4h0.5V316.2h0.5V316h0.5V316.2h0.5V316h0.5V316.3h0.5V316h0.5V316.4h0.5V316.3h0.5V315.8ZM120.7 315.8V316.3h0.5V316.4h0.5V316.1h0.5V316.3h0.5V315.9h0.5V316.2h0.5V315.9h0.5V316.3h0.5V315.9h0.5V315.8ZM125.7 315.8V316.2h0.5V316.5h0.5V316.1h0.5V316.3h0.5V316.2h0.5V316.1h0.5V316.3h0.5V316.4h0.5V316h0.5V316.3h0.5V316.2h0.5V316h0.5V316.4h0.5V316.5h0.5V316h0.5V316.5h0.5V316.2h0.5V316.2h0.5V316.4h0.5V316.2h0.5V316.2h0.5V316.4h0.5V316.4h0.5V316.3h0.5V316h0.5V316h0.5V316.4h0.5V316.1h0.5V316.2h0.5V316h0.5V316.2h0.5V316h0.5V316.4h0.5V316h0.5V316.2h0.5V316.2h0.5V316.4h0.5V316h0.5V316.9h0.5V316.8h0.5V316.2h0.5V315.8ZM146.7 315.8V317.5h0.5V316.4h0.5V316.4h0.5V316.4h0.5V316.1h0.5V316h0.5V316h0.5V316.2h0.5V316.3h0.5V316.3h0.5V316h0.5V316.2h0.5V316.2h0.5V317h0.5V316.9h0.5V317.3h0.5V317.1h0.5V317.2h0.5V316.9h0.5V316.8h0.5V317h0.5V317.1h0.5V317h0.5V317h0.5V317.2h0.5V317.1h0.5V316.8h0.5V316.9h0.5V316.9h0.5V317h0.5V316.8h0.5V317h0.5V317.1h0.5V317h0.5V316.9h0.5V316.9h0.5V317h0.5V317.1h0.5V317.2h0.5V317h0.5V316.8h0.5V317.3h0.5V317.1h0.5V317.1h0.5V317.1h0.5V316.8h0.5V317h0.5V317.1h0.5V317.2h0.5V317h0.5V317h0.5V316.9h0.5V317.1h0.5V317.1h0.5V317.2h0.5V316.9h0.5V317h0.5V317h0.5V316.9h0.5V316.8h0.5V317h0.5V316.9h0.5V317.4h0.5V317h0.5V317h0.5V316.9h0.5V317.3h0.5V316.8h0.5V317h0.5V316.9h0.5V317h0.5V317h0.5V317.2h0.5V316.8h0.5V317h0.5V317.3h0.5V316.9h0.5V317h0.5V316.9h0.5V316.6h0.5V317h0.5V317.2h0.5V316.9h0.5V317.1h0.5V317h0.5V317.3h0.5V317.1h0.5V316.5h0.5V317.3h0.5V316.9h0.5V317.2h0.5V316.9h0.5V317.1h0.5V317.1h0.5V317.1h0.5V316.9h0.5V317.3h0.5V317.1h0.5V317h0.5V317.1h0.5V316.9h0.5V317.4h0.5V317.1h0.5V317.1h0.5V317.1h0.5V316.9h0.5V316.8h0.5V317.1h0.5V317.1h0.5V317.3h0.5V317.1h0.5V316.8h0.5V317.1h0.5V317.2h0.5V317.2h0.5V317.1h0.5V316.8h0.5V317.4h0.5V317.4h0.5V317h0.5V317.7h0.5V316.9h0.5V317.2h0.5V317h0.5V317.2h0.5V316.8h0.5V316.9h0.5V317.1h0.5V316.8h0.5V316.7h0.5V317.1h0.5V317h0.5V317h0.5V317h0.5V316.8h0.5V317.5h0.5V316.8h0.5V316.9h0.5V316.8h0.5V316.9h0.5V317.3h0.5V317h0.5V317.1h0.5V316.9h0.5V317.3h0.5V317h0.5V316.8h0.5V317.1h0.5V316.9h0.5V317.1h0.5V317h0.5V317.4h0.5V316.6h0.5V317h0.5V317.1h0.5V316.7h0.5V317.1h0.5V317h0.5V317.1h0.5V316.9h0.5V317.1h0.5V316.9h0.5V317.1h0.5V317h0.5V316.9h0.5V316.8h0.5V317.3h0.5V317.2h0.5V317.2h0.5V316.9h0.5V316.9h0.5V317.3h0.5V317.4h0.5V316.8h0.5V317h0.5V317.4h0.5V317.4h0.5V317.3h0.5V316.5h0.5V316.1h0.5V316.1h0.5V316.3h0.5V316.5h0.5V316.4h0.5V316.5h0.5V316.4h0.5V316.2h0.5V316.3h0.5V316h0.5V316.2h0.5V316.4h0.5V316.1h0.5V316h0.5V316.1h0.5V316.3h0.5V316.3h0.5V316.2h0.5V316.5h0.5V316.2h0.5V316.3h0.5V316.3h0.5V316.2h0.5V316.4h0.5V316.4h0.5V316.5h0.5V316.4h0.5V316.2h0.5V316.4h0.5V316.1h0.5V316.3h0.5V316.4h0.5V318.1h0.5V317.5h0.5V317.7h0.5V318h0.5V317.6h0.5V317.6h0.5V317.9h0.5V317.7h0.5V317.8h0.5V317.5h0.5V317.7h0.5V317.4h0.5V317.3h0.5V318.3h0.5V317.9h0.5V318h0.5V317.5h0.5V317.7h0.5V317.7h0.5V317.3h0.5V317.9h0.5V317.5h0.5V323.6h0.5V326.1h0.5V327.6h0.5V327.4h0.5V324.6h0.5V324.1h0.5V323.9h0.5V326.5h0.5V325.2h0.5V325.6h0.5V325.9h0.5V326.1h0.5V315.8ZM280.2 315.8V319.3h0.5V318.4h0.5V318.5h0.5V318.1h0.5V318.4h0.5V316.9h0.5V316.7h0.5V317.2h0.5V317.2h0.5V317.2h0.5V317.1h0.5V316.1h0.5V316.1h0.5V316.9h0.5V319.9h0.5V319.8h0.5V320.3h0.5V318.9h0.5V319.8h0.5V319.8h0.5V320.6h0.5V319.6h0.5V319.9h0.5V319.2h0.5V319.9h0.5V319.9h0.5V327.7h0.5V326.7h0.5V327.8h0.5V327.4h0.5V326.8h0.5V327.9h0.5V327.6h0.5V326.6h0.5V325.8h0.5V326.6h0.5V327.5h0.5V326.8h0.5V328.3h0.5V327.2h0.5V327.1h0.5V327.3h0.5V326.3h0.5V326.9h0.5V326.5h0.5V325.3h0.5V315.8ZM316.7 315.8V326.6h0.5V323.6h0.5V323.2h0.5V323.6h0.5V326.5h0.5V325.2h0.5V325h0.5V325.7h0.5V323.8h0.5V326.4h0.5V324.3h0.5V326.4h0.5V324.2h0.5V321.9h0.5V323.4h0.5V315.8ZM328.2 315.8V322.6h0.5V322.4h0.5V321.6h0.5V322.4h0.5V321.3h0.5V321h0.5V322.2h0.5V320.7h0.5V322.1h0.5V323h0.5V321.7h0.5V321.1h0.5V320.3h0.5V321.7h0.5V320.5h0.5V321.4h0.5V320.9h0.5V320.2h0.5V320.1h0.5V320.2h0.5V320.2h0.5V321.1h0.5V319.7h0.5V319.5h0.5V319.5h0.5V320.8h0.5V316.8h0.5V316.8h0.5V316.8h0.5V316.8h0.5V316.8h0.5V316.6h0.5V316.7h0.5V316.9h0.5V316.7h0.5V316.7h0.5V317h0.5V318h0.5V318h0.5V318.3h0.5V317.2h0.5V317.3h0.5V317h0.5V317.9h0.5V317.9h0.5V318.1h0.5V317.9h0.5V318.1h0.5V318.4h0.5V318h0.5V317.4h0.5V317.3h0.5V318h0.5V317.6h0.5V317.8h0.5V317.7h0.5V318.2h0.5V318.2h0.5V317.4h0.5V317.8h0.5V317.6h0.5V317.3h0.5V318h0.5V317.7h0.5V317.9h0.5V318.6h0.5V318.2h0.5V318.1h0.5V317.6h0.5V317.3h0.5V318.2h0.5V317.6h0.5V317.8h0.5V320.8h0.5V320.9h0.5V320.3h0.5V320.6h0.5V320.3h0.5V320.6h0.5V320.6h0.5V320.1h0.5V320.5h0.5V320.4h0.5V320.9h0.5V320.3h0.5V320.6h0.5V320.7h0.5V320.9h0.5V320.7h0.5V321h0.5V321h0.5V320.9h0.5V319.8h0.5V320.3h0.5V319.6h0.5V319.2h0.5V321.2h0.5V320.3h0.5V321.2h0.5V321.2h0.5V321.1h0.5V319.8h0.5V320.8h0.5V320.9h0.5V320.8h0.5V320.4h0.5V320.4h0.5V315.8ZM422.7 315.8V336.1h0.5V337.7h0.5V338.1h0.5V336.7h0.5V338.1h0.5V337h0.5V337.5h0.5V336.6h0.5V336.5h0.5V335.9h0.5V337.4h0.5V337h0.5V337h0.5V336.2h0.5V336.2h0.5V336.7h0.5V337.6h0.5V337.5h0.5V336.6h0.5V348.6h0.5V347.9h0.5V348.3h0.5V346.4h0.5V347.6h0.5V348.9h0.5V348.3h0.5V347.2h0.5V348.7h0.5V347.8h0.5V348.6h0.5V346.7h0.5V347.5h0.5V348.2h0.5V348.2h0.5V348.4h0.5V347.9h0.5V347.7h0.5V348.3h0.5V361.6h0.5V361.9h0.5V362.6h0.5V361.3h0.5V362h0.5V362.4h0.5V362h0.5V361.8h0.5V361.8h0.5V361.5h0.5V361.7h0.5V362.1h0.5V361.9h0.5V362.1h0.5V335.6h0.5V334.1h0.5V334.6h0.5V336.2h0.5V336.3h0.5V334.9h0.5V336h0.5V336h0.5V336.7h0.5V335.2h0.5V337.1h0.5V335.5h0.5V337.1h0.5V336.6h0.5V334.9h0.5V335.5h0.5V336h0.5V336.7h0.5V334.6h0.5V335.4h0.5V338.8h0.5V338.8h0.5V339.7h0.5V339.6h0.5V336.6h0.5V338.9h0.5V337.6h0.5V336.4h0.5V338.6h0.5V338.1h0.5V337.9h0.5V337.1h0.5V337.3h0.5V338h0.5V336.9h0.5V338.1h0.5V338.3h0.5V340h0.5V342.1h0.5V341.2h0.5V341.4h0.5V342h0.5V340.3h0.5V341.9h0.5V340h0.5V340.7h0.5V340.4h0.5V342.6h0.5V342.6h0.5V341.8h0.5V341.6h0.5V340.7h0.5V342.7h0.5V342.4h0.5V341.9h0.5V350h0.5V350.1h0.5V352h0.5V353.2h0.5V354h0.5V355.4h0.5V355.7h0.5V357.3h0.5V336.4h0.5V334.8h0.5V336h0.5V335h0.5V334.9h0.5V335.3h0.5V337h0.5V335.2h0.5V336.3h0.5V335.9h0.5V336h0.5V336h0.5V336.3h0.5V334.7h0.5V335.8h0.5V336.1h0.5V335.3h0.5V336.1h0.5V334.9h0.5V315.8Z"/>
<path fill="#0b73e2" d="M303.2 315.8V324.7h0.5V329.3h0.5V326h0.5V325.8h0.5V325h0.5V325.4h0.5V325.6h0.5V324.5h0.5V324.6h0.5V326.1h0.5V326.4h0.5V326.1h0.5V324.8h0.5V325.9h0.5V322.6h0.5V326.7h0.5V325.5h0.5V325.9h0.5V326.9h0.5V325.1h0.5V326.7h0.5V325h0.5V326.2h0.5V325.1h0.5V325.9h0.5V327.3h0.5V324.8h0.5V323.5h0.5V320.2h0.5V321.5h0.5V321.7h0.5V323.6h0.5V324.2h0.5V321.7h0.5V322.1h0.5V322.6h0.5V322.9h0.5V321.4h0.5V322.6h0.5V321h0.5V319h0.5V320.3h0.5V326.7h0.5V328.3h0.5V326.8h0.5V328.8h0.5V328.1h0.5V327.7h0.5V329.2h0.5V326.3h0.5V318.4h0.5V317.8h0.5V317.9h0.5V318.3h0.5V317.3h0.5V317.5h0.5V317.6h0.5V317.8h0.5V317.9h0.5V317.6h0.5V318.5h0.5V317.5h0.5V317.7h0.5V318.2h0.5V318.1h0.5V317.8h0.5V318h0.5V318.1h0.5V317.8h0.5V318.1h0.5V317.4h0.5V317.8h0.5V317.1h0.5V317.4h0.5V317.3h0.5V318.3h0.5V315.8ZM364.7 315.8V317.4h0.5V317.5h0.5V317.4h0.5V317.5h0.5V317.3h0.5V317.1h0.5V317.3h0.5V317.3h0.5V316.8h0.5V317.3h0.5V317.3h0.5V317.3h0.5V317.1h0.5V317.4h0.5V317.5h0.5V317.1h0.5V317.4h0.5V317.5h0.5V317.5h0.5V317h0.5V317h0.5V317.3h0.5V317h0.5V318h0.5V317h0.5V317h0.5V317.5h0.5V317.1h0.5V316.6h0.5V317.2h0.5V317h0.5V317.1h0.5V316.8h0.5V317h0.5V315.8ZM387.7 315.8V345.7h0.5V349.6h0.5V351h0.5V352.7h0.5V353.2h0.5V353.9h0.5V354.6h0.5V355.8h0.5V356.3h0.5V357.2h0.5V357h0.5V357.5h0.5V358h0.5V332.2h0.5V332.4h0.5V333.4h0.5V333.7h0.5V333.6h0.5V333.3h0.5V332.6h0.5V333.8h0.5V333.2h0.5V333.3h0.5V333.3h0.5V333.1h0.5V332.9h0.5V333h0.5V332.6h0.5V333.5h0.5V333.2h0.5V363.8h0.5V363.9h0.5V363.8h0.5V364.1h0.5V363.6h0.5V364h0.5V364h0.5V363.6h0.5V363.9h0.5V363.8h0.5V363.9h0.5V363.6h0.5V363.8h0.5V363.6h0.5V363.7h0.5V364h0.5V363.7h0.5V363.4h0.5V363.6h0.5V363.6h0.5V315.8ZM414.2 315.8V364.5h0.5V364.5h0.5V364.5h0.5V364.5h0.5V364.5h0.5V364.5h0.5V364.5h0.5V364.5h0.5V364.5h0.5V364.5h0.5V364.5h0.5V364.5h0.5V364.5h0.5V364.5h0.5V364.5h0.5V364.5h0.5V364.5h0.5V315.8Z"/>
<path d="M97.2 315.8V364.5M99.4 315.8V364.5M100.8 315.8V364.5M102.8 315.8V364.5M104.6 315.8V364.5M106.4 315.8V364.5M108.8 315.8V364.5M111.5 315.8V364.5M115.7 315.8V364.5M118.5 315.8V364.5M119.9 315.8V364.5M124 315.8V364.5M128.2 315.8V364.5M134.2 315.8V364.5M135.6 315.8V364.5M139.3 315.8V364.5M144.9 315.8V364.5M153.4 315.8V364.5M171.7 315.8V364.5M188.2 315.8V364.5M205.4 315.8V364.5M222.2 315.8V364.5M235.6 315.8V364.5M243.5 315.8V364.5M252.4 315.8V364.5M263.4 315.8V364.5M269.3 315.8V364.5M280.4 315.8V364.5M284.2 315.8V364.5M287.4 315.8V364.5M293.3 315.8V364.5M303.4 315.8V364.5M306.7 315.8V364.5M316.5 315.8V364.5M324.3 315.8V364.5M326.6 315.8V364.5M328.4 315.8V364.5M346.7 315.8V364.5M364.8 315.8V364.5M381.7 315.8V364.5M387.5 315.8V364.5M394 315.8V364.5M402.9 315.8V364.5M412.7 315.8V364.5M414 315.8V364.5M422.5 315.8V364.5M432 315.8V364.5M441.6 315.8V364.5M448.8 315.8V364.5M458.6 315.8V364.5M467.4 315.8V364.5M476.4 315.8V364.5M480.3 315.8V364.5M489.6 315.8V364.5" stroke="#0c0c0c" stroke-width="0.5" fill="none" opacity="0.9"/>
<rect x="43.2" y="315.8" width="455.5" height="48.7" fill="none" stroke="#0a0a0a" stroke-width="1.25"/>
<text x="44" y="314.4" font-family="'Liberation Sans',sans-serif" font-weight="bold" font-size="4.3" fill="#35a4d6">Avg. pairwise similarity: 0.999</text>
<text x="1" y="338.8" font-family="'Liberation Sans',sans-serif" font-weight="bold" font-size="7.7" fill="#111">K = 6</text>
<text x="1" y="348.3" font-family="'Liberation Sans',sans-serif" font-size="4.6" fill="#8fcdea" text-decoration="underline">9/10 runs</text>
<rect x="43.2" y="378.3" width="455.5" height="48.4" fill="#f0a4fb"/>
<path fill="#1b1b1b" d="M381.7 378.3V426.7h0.5V426.7h0.5V426.7h0.5V426.7h0.5V426.7h0.5V426.7h0.5V426.7h0.5V426.7h0.5V426.7h0.5V426.7h0.5V426.7h0.5V426.7h0.5V426.1h0.5V426.2h0.5V426.7h0.5V425.9h0.5V426.7h0.5V426.7h0.5V426.7h0.5V426.7h0.5V426.7h0.5V426.7h0.5V426.7h0.5V426.7h0.5V426.7h0.5V426.4h0.5V424.6h0.5V426.7h0.5V425.8h0.5V426h0.5V426.5h0.5V426.7h0.5V426h0.5V426.7h0.5V425.7h0.5V426.7h0.5V426.1h0.5V425.5h0.5V426.7h0.5V426.3h0.5V425.2h0.5V426.1h0.5V426.6h0.5V426.7h0.5V426.7h0.5V426.5h0.5V426.7h0.5V426.6h0.5V426.5h0.5V426.7h0.5V426.7h0.5V426.5h0.5V426.6h0.5V426.7h0.5V426.6h0.5V426.7h0.5V426.7h0.5V426.5h0.5V426.5h0.5V426.6h0.5V426.7h0.5V426.6h0.5V426.7h0.5V426.7h0.5V426.7h0.5V378.3Z"/>
<path fill="#4b0069" d="M43.2 378.3V391.2h0.5V390.8h0.5V391h0.5V390.1h0.5V388.2h0.5V390.6h0.5V388.8h0.5V390.2h0.5V390.1h0.5V389.6h0.5V390.9h0.5V391.1h0.5V386.7h0.5V389.4h0.5V389.6h0.5V390.9h0.5V389.5h0.5V388.8h0.5V390.4h0.5V390.8h0.5V387.7h0.5V388.3h0.5V388.7h0.5V389.7h0.5V389.2h0.5V391.1h0.5V388.4h0.5V390.5h0.5V389.2h0.5V390.7h0.5V391.7h0.5V392.1h0.5V390.7h0.5V392.5h0.5V390.4h0.5V390.2h0.5V392.2h0.5V389.3h0.5V390.2h0.5V393.1h0.5V390.3h0.5V389.1h0.5V390.6h0.5V389.4h0.5V390.3h0.5V387.7h0.5V389.8h0.5V388.1h0.5V390.6h0.5V390.7h0.5V391.1h0.5V393h0.5V388.2h0.5V388.5h0.5V389.6h0.5V389.7h0.5V390.9h0.5V389.9h0.5V389.2h0.5V391.3h0.5V391.3h0.5V389.9h0.5V390.1h0.5V390.3h0.5V390.1h0.5V391.2h0.5V390.6h0.5V388.8h0.5V391.8h0.5V393.9h0.5V390.3h0.5V388.7h0.5V387.7h0.5V390h0.5V388.7h0.5V388.7h0.5V391.4h0.5V391.1h0.5V393.2h0.5V392.6h0.5V391.5h0.5V388.9h0.5V392.1h0.5V390.3h0.5V391h0.5V392.6h0.5V390.8h0.5V392h0.5V390.7h0.5V389.5h0.5V389.3h0.5V390.2h0.5V388.2h0.5V390.4h0.5V389.9h0.5V389.3h0.5V386.9h0.5V387.2h0.5V390.8h0.5V389.2h0.5V391.7h0.5V389.5h0.5V390.7h0.5V388h0.5V389.1h0.5V389.9h0.5V391.4h0.5V393.5h0.5V393.5h0.5V390.8h0.5V386.9h0.5V389.9h0.5V391.3h0.5V389.3h0.5V392.2h0.5V390.7h0.5V388.6h0.5V392.8h0.5V392.7h0.5V391.8h0.5V390.1h0.5V389.5h0.5V389.2h0.5V389.9h0.5V390.8h0.5V390.9h0.5V390.3h0.5V394h0.5V388.9h0.5V388.5h0.5V391.2h0.5V390.4h0.5V388.5h0.5V392.7h0.5V389.2h0.5V388.5h0.5V390.8h0.5V390.5h0.5V393.4h0.5V388.2h0.5V388.3h0.5V389.5h0.5V389.9h0.5V389.9h0.5V389.8h0.5V388.4h0.5V389.6h0.5V390.6h0.5V391.2h0.5V388.9h0.5V391h0.5V390.5h0.5V389.5h0.5V388.8h0.5V389.8h0.5V393.9h0.5V390.3h0.5V389.1h0.5V390h0.5V389.6h0.5V391.4h0.5V387.3h0.5V390.3h0.5V391.7h0.5V391.1h0.5V390.5h0.5V391h0.5V388h0.5V391h0.5V388.8h0.5V388.4h0.5V390.8h0.5V389.1h0.5V389.5h0.5V391.1h0.5V388.4h0.5V391.2h0.5V392.8h0.5V392.9h0.5V391.1h0.5V391.2h0.5V388.3h0.5V388.2h0.5V393h0.5V390.8h0.5V390.6h0.5V389.7h0.5V390.5h0.5V390.6h0.5V392.6h0.5V389.6h0.5V391.7h0.5V391h0.5V390.7h0.5V390h0.5V391.1h0.5V389.6h0.5V391.2h0.5V391.4h0.5V390.3h0.5V388.5h0.5V389.5h0.5V390.3h0.5V400.3h0.5V398.8h0.5V393.2h0.5V394.9h0.5V389.2h0.5V389.5h0.5V390.7h0.5V390.8h0.5V392h0.5V389.5h0.5V389h0.5V390.9h0.5V391.9h0.5V389.7h0.5V393.4h0.5V387.5h0.5V392.1h0.5V386.8h0.5V388.9h0.5V388.4h0.5V388.4h0.5V389.1h0.5V388.2h0.5V389h0.5V387.5h0.5V387.4h0.5V387h0.5V387.1h0.5V388.2h0.5V388.4h0.5V386.3h0.5V387.9h0.5V387.1h0.5V386.9h0.5V386.7h0.5V388.4h0.5V388.7h0.5V388.4h0.5V387.1h0.5V387.2h0.5V388.8h0.5V386.3h0.5V387.7h0.5V387.6h0.5V388.2h0.5V387.9h0.5V388.6h0.5V387.5h0.5V387.7h0.5V386.5h0.5V387.8h0.5V386.9h0.5V386.7h0.5V388.3h0.5V387.9h0.5V387.9h0.5V387.5h0.5V385.4h0.5V386.4h0.5V387.2h0.5V387.4h0.5V388.2h0.5V387.8h0.5V388.1h0.5V387.1h0.5V387.3h0.5V388.3h0.5V387.4h0.5V387.6h0.5V385.7h0.5V389.7h0.5V387.3h0.5V386.7h0.5V386.2h0.5V387.5h0.5V387.7h0.5V387.1h0.5V388.1h0.5V387.4h0.5V388.4h0.5V388.5h0.5V387.6h0.5V388h0.5V386.7h0.5V388.1h0.5V386.9h0.5V387.8h0.5V387.7h0.5V388.7h0.5V388.6h0.5V386.1h0.5V387.5h0.5V388.3h0.5V388h0.5V389.5h0.5V387.7h0.5V388.5h0.5V388.1h0.5V387.3h0.5V388.7h0.5V387.5h0.5V387.1h0.5V387.4h0.5V388.9h0.5V387.4h0.5V387.6h0.5V387.1h0.5V387.1h0.5V387.5h0.5V387.9h0.5V387.2h0.5V388.2h0.5V387.4h0.5V387.7h0.5V386.9h0.5V388.6h0.5V388h0.5V387.3h0.5V388.6h0.5V386.7h0.5V388.9h0.5V396.9h0.5V395.3h0.5V390.6h0.5V391.9h0.5V388h0.5V386.8h0.5V387.4h0.5V387h0.5V387.8h0.5V387.8h0.5V388.6h0.5V387.8h0.5V387.5h0.5V387.9h0.5V387.8h0.5V388.1h0.5V387h0.5V386.9h0.5V386.9h0.5V387.8h0.5V387.6h0.5V386.6h0.5V387.7h0.5V388.2h0.5V386.7h0.5V387.4h0.5V387.8h0.5V387h0.5V388.3h0.5V385.6h0.5V386.9h0.5V388.1h0.5V389.9h0.5V388.4h0.5V387.6h0.5V388h0.5V387.1h0.5V386.8h0.5V387.6h0.5V388.5h0.5V388.1h0.5V387.7h0.5V387.3h0.5V388h0.5V387.2h0.5V386.9h0.5V388.8h0.5V387.3h0.5V388.4h0.5V386.8h0.5V386.6h0.5V388.1h0.5V388h0.5V386.1h0.5V387.3h0.5V388.4h0.5V390.7h0.5V392.2h0.5V400h0.5V393.4h0.5V399.8h0.5V382.9h0.5V384.6h0.5V386.3h0.5V383.7h0.5V382.8h0.5V383h0.5V381.9h0.5V382.7h0.5V382.8h0.5V382.2h0.5V381.8h0.5V381.5h0.5V381h0.5V381.4h0.5V380.5h0.5V380.2h0.5V382.4h0.5V382h0.5V381.2h0.5V381.2h0.5V381.4h0.5V381.3h0.5V381.6h0.5V381.6h0.5V381.2h0.5V382.1h0.5V382.3h0.5V381.6h0.5V382.4h0.5V382.6h0.5V382h0.5V382h0.5V381.5h0.5V387.4h0.5V385.2h0.5V388.6h0.5V386.5h0.5V386.8h0.5V386.6h0.5V386.2h0.5V386.6h0.5V386.7h0.5V386.3h0.5V385.8h0.5V386.4h0.5V386.2h0.5V387.1h0.5V386.8h0.5V385.7h0.5V385.3h0.5V385.5h0.5V387.3h0.5V386.4h0.5V388.1h0.5V387.1h0.5V409h0.5V399.2h0.5V407.3h0.5V407.8h0.5V405.9h0.5V410.9h0.5V408.4h0.5V406.2h0.5V406.3h0.5V407.3h0.5V409.1h0.5V411.5h0.5V393.6h0.5V392.2h0.5V391.5h0.5V390.6h0.5V392.1h0.5V392.6h0.5V392.2h0.5V393.3h0.5V392.1h0.5V393.7h0.5V392.1h0.5V393.2h0.5V391.6h0.5V394.4h0.5V393.7h0.5V392.9h0.5V390.4h0.5V392.1h0.5V387.6h0.5V391.3h0.5V392.1h0.5V390.6h0.5V387.5h0.5V388.1h0.5V389.8h0.5V392.1h0.5V389.5h0.5V398.6h0.5V398.6h0.5V399.8h0.5V399.4h0.5V395.7h0.5V391.2h0.5V393.5h0.5V393.4h0.5V390.4h0.5V386.5h0.5V386.5h0.5V385.5h0.5V387.6h0.5V385.4h0.5V388.5h0.5V387.8h0.5V384.8h0.5V385.8h0.5V386.4h0.5V386.3h0.5V385.8h0.5V391.1h0.5V390.9h0.5V391.3h0.5V391.6h0.5V391.8h0.5V390.6h0.5V390.1h0.5V391.4h0.5V391.5h0.5V391.8h0.5V392.7h0.5V391.7h0.5V392h0.5V392.2h0.5V392.6h0.5V391.2h0.5V391.6h0.5V393.4h0.5V392.4h0.5V391.7h0.5V401.7h0.5V403h0.5V404.9h0.5V390.9h0.5V403.4h0.5V415.5h0.5V411.6h0.5V415.8h0.5V413.1h0.5V415.8h0.5V415h0.5V413.2h0.5V410.8h0.5V418.9h0.5V413.5h0.5V413h0.5V411.9h0.5V416.2h0.5V416.9h0.5V417.3h0.5V414.2h0.5V414.3h0.5V415h0.5V415.2h0.5V413.7h0.5V417.6h0.5V419.1h0.5V419.8h0.5V418.6h0.5V418.9h0.5V420.8h0.5V420.3h0.5V423.7h0.5V420.8h0.5V418.3h0.5V423.2h0.5V418.3h0.5V418.5h0.5V416.4h0.5V419.6h0.5V417.7h0.5V416h0.5V421.2h0.5V417.8h0.5V415.4h0.5V416.3h0.5V420.3h0.5V416.1h0.5V417.5h0.5V417.5h0.5V419.4h0.5V422.6h0.5V413.5h0.5V421.1h0.5V418.2h0.5V421.9h0.5V418.8h0.5V418h0.5V419.7h0.5V419.6h0.5V419.2h0.5V420.1h0.5V421.3h0.5V425.4h0.5V417.8h0.5V421.2h0.5V421h0.5V420.7h0.5V424.9h0.5V421.7h0.5V421.8h0.5V420.9h0.5V424.8h0.5V422.2h0.5V424.6h0.5V422.6h0.5V426.2h0.5V425.6h0.5V425h0.5V425.8h0.5V426.3h0.5V426.3h0.5V426.7h0.5V426.2h0.5V426.7h0.5V426.3h0.5V426.1h0.5V404h0.5V404.8h0.5V410.6h0.5V411.8h0.5V416.1h0.5V415.7h0.5V417.8h0.5V415.7h0.5V417.3h0.5V416.9h0.5V417.7h0.5V419.3h0.5V416.7h0.5V417.1h0.5V417.8h0.5V413.5h0.5V419.7h0.5V421.5h0.5V418.1h0.5V415h0.5V417.9h0.5V415.6h0.5V414.4h0.5V418.5h0.5V419.5h0.5V416.8h0.5V423.9h0.5V418h0.5V415.4h0.5V420.7h0.5V415.6h0.5V420h0.5V417.2h0.5V418.3h0.5V418.1h0.5V421.6h0.5V419.3h0.5V420.5h0.5V417.1h0.5V419.1h0.5V420.3h0.5V421h0.5V418.8h0.5V416.6h0.5V415.7h0.5V419.5h0.5V418.5h0.5V416.9h0.5V416.2h0.5V417.3h0.5V419.9h0.5V421.8h0.5V417.7h0.5V424.4h0.5V420.8h0.5V417.8h0.5V419.6h0.5V421.2h0.5V417.1h0.5V419.2h0.5V415.8h0.5V416.7h0.5V418.9h0.5V419.1h0.5V419.3h0.5V417.7h0.5V418.4h0.5V420.3h0.5V417.1h0.5V416.2h0.5V378.3ZM422.7 378.3V424.6h0.5V424.4h0.5V426.7h0.5V426.6h0.5V425.8h0.5V426.2h0.5V424.2h0.5V425.4h0.5V426.7h0.5V426.7h0.5V426.7h0.5V426.5h0.5V426.4h0.5V426.7h0.5V426.7h0.5V426.7h0.5V426.7h0.5V426.7h0.5V426.7h0.5V425.5h0.5V425.8h0.5V424.9h0.5V426.6h0.5V423.9h0.5V424.4h0.5V425.5h0.5V422.6h0.5V425h0.5V424.8h0.5V426.7h0.5V426h0.5V424.5h0.5V426.7h0.5V424.4h0.5V424.2h0.5V425.7h0.5V426h0.5V426.5h0.5V424.7h0.5V426.7h0.5V426h0.5V424.3h0.5V423.3h0.5V424.2h0.5V425.3h0.5V424.9h0.5V426.7h0.5V425h0.5V426.2h0.5V424.6h0.5V425.2h0.5V425.7h0.5V424.9h0.5V425.5h0.5V421.6h0.5V423.7h0.5V423.1h0.5V423.4h0.5V424.6h0.5V421.3h0.5V423.9h0.5V423.9h0.5V424.7h0.5V422h0.5V422.7h0.5V422.4h0.5V423h0.5V426.7h0.5V422.8h0.5V423.1h0.5V423.2h0.5V423.8h0.5V425.4h0.5V422.6h0.5V423h0.5V422.5h0.5V425.1h0.5V423.7h0.5V425.8h0.5V421.7h0.5V425.8h0.5V425.7h0.5V424.9h0.5V425.9h0.5V426.7h0.5V426.1h0.5V424.7h0.5V422.6h0.5V426.3h0.5V425.1h0.5V425.9h0.5V426h0.5V426.4h0.5V425.5h0.5V424.4h0.5V423.6h0.5V426.1h0.5V426.5h0.5V425.9h0.5V426.7h0.5V426.7h0.5V426.7h0.5V426.1h0.5V425.9h0.5V425.2h0.5V423.7h0.5V426.2h0.5V378.3ZM480.2 378.3V426.7h0.5V426.7h0.5V426.7h0.5V426.7h0.5V426.7h0.5V426.7h0.5V426.7h0.5V426.7h0.5V426.7h0.5V425.7h0.5V426.7h0.5V426.7h0.5V426.7h0.5V426.7h0.5V426.7h0.5V426.7h0.5V426.7h0.5V426.7h0.5V426.5h0.5V378.3Z"/>
<path fill="#0b5e31" d="M43.2 378.3V381.5h0.5V382h0.5V380.8h0.5V381.9h0.5V380.5h0.5V381.3h0.5V381.1h0.5V380.7h0.5V381.3h0.5V381.3h0.5V381.2h0.5V381.5h0.5V381.5h0.5V380.8h0.5V380.4h0.5V381.3h0.5V381.2h0.5V381.3h0.5V381.3h0.5V381h0.5V381.3h0.5V381.2h0.5V380.5h0.5V381.8h0.5V381h0.5V381.2h0.5V380.8h0.5V381.3h0.5V381.4h0.5V381.2h0.5V381.9h0.5V381.5h0.5V381.7h0.5V382.2h0.5V380.9h0.5V381.9h0.5V381.4h0.5V381.1h0.5V381h0.5V381.1h0.5V380.3h0.5V381.2h0.5V381.3h0.5V381.1h0.5V381.5h0.5V380.7h0.5V380.6h0.5V381.1h0.5V381.2h0.5V381.3h0.5V381.1h0.5V381.3h0.5V381.3h0.5V381.1h0.5V381.9h0.5V381.4h0.5V380.9h0.5V381.3h0.5V381h0.5V381.5h0.5V381.9h0.5V381.5h0.5V381.3h0.5V381.4h0.5V381.2h0.5V381.5h0.5V381.2h0.5V381.4h0.5V381.8h0.5V381.8h0.5V381h0.5V381.3h0.5V380.6h0.5V381h0.5V381.1h0.5V381.5h0.5V381.3h0.5V381h0.5V381.4h0.5V382h0.5V381.4h0.5V381.4h0.5V381.7h0.5V381.2h0.5V381.5h0.5V380.9h0.5V381.3h0.5V381.1h0.5V381.7h0.5V381h0.5V381.2h0.5V381.4h0.5V381.4h0.5V381.5h0.5V381.1h0.5V381.1h0.5V380.8h0.5V380.1h0.5V380.9h0.5V381.4h0.5V381h0.5V381.4h0.5V381.3h0.5V380.9h0.5V380.9h0.5V381.1h0.5V381h0.5V380.9h0.5V381.3h0.5V380.8h0.5V381.1h0.5V381.6h0.5V380.8h0.5V381.4h0.5V381h0.5V381.4h0.5V381.2h0.5V381.6h0.5V381.3h0.5V380.9h0.5V380.4h0.5V381.7h0.5V381h0.5V380.8h0.5V381.2h0.5V381.5h0.5V381.1h0.5V382h0.5V381.3h0.5V381h0.5V381.5h0.5V381.2h0.5V381.4h0.5V381.5h0.5V381.2h0.5V381.3h0.5V381.3h0.5V380.7h0.5V381.5h0.5V381.1h0.5V380.9h0.5V380.8h0.5V381.5h0.5V381.1h0.5V381.7h0.5V381.4h0.5V381.2h0.5V380.7h0.5V381.2h0.5V380.8h0.5V381.4h0.5V381h0.5V381.2h0.5V380.3h0.5V380.8h0.5V381.4h0.5V381.2h0.5V381.2h0.5V381.3h0.5V381.3h0.5V381h0.5V381.1h0.5V381.2h0.5V381.7h0.5V381.6h0.5V381.5h0.5V381.1h0.5V380.7h0.5V381.5h0.5V381.3h0.5V381.1h0.5V381.2h0.5V381.2h0.5V381h0.5V381.4h0.5V380.8h0.5V381.5h0.5V380.9h0.5V381.4h0.5V380.9h0.5V381.3h0.5V380.9h0.5V381h0.5V381.3h0.5V381.7h0.5V381.6h0.5V380.4h0.5V380.9h0.5V381.1h0.5V381.9h0.5V381.1h0.5V381h0.5V381.3h0.5V381.1h0.5V381.2h0.5V380.9h0.5V381.5h0.5V381.3h0.5V381h0.5V382.1h0.5V380.7h0.5V381.5h0.5V381.3h0.5V381.6h0.5V381.8h0.5V381.5h0.5V382.1h0.5V382.3h0.5V381.2h0.5V381.6h0.5V380.8h0.5V381h0.5V381.1h0.5V381.3h0.5V381.7h0.5V381.3h0.5V381.1h0.5V381.3h0.5V380.8h0.5V381.2h0.5V383h0.5V383.7h0.5V383.7h0.5V383.2h0.5V383.4h0.5V383.7h0.5V383.5h0.5V383.1h0.5V382.8h0.5V383.5h0.5V382.8h0.5V383.2h0.5V383.9h0.5V382.4h0.5V383.7h0.5V383.4h0.5V383.2h0.5V383.4h0.5V383.5h0.5V383.9h0.5V384.3h0.5V383.8h0.5V383.2h0.5V383.4h0.5V383h0.5V383.9h0.5V383.8h0.5V383.5h0.5V384h0.5V384.3h0.5V383.9h0.5V383.7h0.5V383.2h0.5V383.3h0.5V383h0.5V383h0.5V383.5h0.5V383.3h0.5V383.3h0.5V382.8h0.5V382.9h0.5V383.5h0.5V382.9h0.5V383.7h0.5V383.8h0.5V383.7h0.5V383.2h0.5V383.3h0.5V383.8h0.5V383.8h0.5V383.5h0.5V384.2h0.5V382.9h0.5V383.5h0.5V383.4h0.5V382.7h0.5V383.3h0.5V384h0.5V383.6h0.5V382.7h0.5V383.5h0.5V383.7h0.5V383.6h0.5V383.6h0.5V383.8h0.5V383.9h0.5V383.8h0.5V384.5h0.5V383.7h0.5V383.3h0.5V383.2h0.5V383.6h0.5V383.2h0.5V382.9h0.5V383.1h0.5V383.7h0.5V383.2h0.5V383.8h0.5V383.4h0.5V383.5h0.5V384h0.5V383h0.5V383.6h0.5V383.6h0.5V383.4h0.5V383.2h0.5V383h0.5V383h0.5V383.4h0.5V383.3h0.5V382.7h0.5V384.1h0.5V383.4h0.5V382.9h0.5V384h0.5V382.9h0.5V383.6h0.5V382.3h0.5V384h0.5V383.4h0.5V383.2h0.5V383.8h0.5V382.6h0.5V383.9h0.5V383.8h0.5V383.5h0.5V383.4h0.5V383.8h0.5V382.7h0.5V383.8h0.5V384.2h0.5V383.2h0.5V383.2h0.5V382.9h0.5V383.7h0.5V383.6h0.5V383.3h0.5V383.6h0.5V383.3h0.5V383.6h0.5V383.5h0.5V383.3h0.5V383.1h0.5V383.2h0.5V383.9h0.5V383h0.5V382.9h0.5V383.2h0.5V383.2h0.5V383.4h0.5V382.9h0.5V383.1h0.5V383.6h0.5V382.4h0.5V383h0.5V383.5h0.5V383.5h0.5V383.7h0.5V383h0.5V383.4h0.5V383.3h0.5V383.2h0.5V383.3h0.5V384.2h0.5V383.7h0.5V383.6h0.5V383.1h0.5V383.2h0.5V383.7h0.5V383.7h0.5V384h0.5V383.7h0.5V383.9h0.5V383.2h0.5V383.2h0.5V383h0.5V383.4h0.5V382.9h0.5V383.4h0.5V383.7h0.5V382.9h0.5V383.3h0.5V382.8h0.5V381.4h0.5V382.7h0.5V379.3h0.5V379.2h0.5V379.3h0.5V379.7h0.5V379.2h0.5V379.4h0.5V379.1h0.5V379.2h0.5V379.3h0.5V379.2h0.5V379.4h0.5V379.4h0.5V379.1h0.5V379.4h0.5V379.5h0.5V379.2h0.5V379.7h0.5V380h0.5V379.5h0.5V379.5h0.5V379.6h0.5V379.7h0.5V379.7h0.5V379.7h0.5V379.6h0.5V379.7h0.5V380h0.5V379.8h0.5V379.7h0.5V379.8h0.5V379.6h0.5V379.6h0.5V378.3ZM252.2 378.3V383.9h0.5V382.6h0.5V383.5h0.5V382.6h0.5V383h0.5V383.1h0.5V382.6h0.5V383.2h0.5V383.1h0.5V383.9h0.5V382.9h0.5V383h0.5V382.7h0.5V383.6h0.5V383.1h0.5V383.6h0.5V381.8h0.5V382.6h0.5V383.9h0.5V383.1h0.5V383.4h0.5V383.9h0.5V378.3ZM280.2 378.3V384.5h0.5V384.4h0.5V385.5h0.5V385.4h0.5V383.6h0.5V378.3ZM287.2 378.3V384.2h0.5V384.1h0.5V383.3h0.5V385.1h0.5V383.6h0.5V384.9h0.5V384.5h0.5V383.9h0.5V384h0.5V384h0.5V384.3h0.5V384.8h0.5V378.3ZM422.7 378.3V423.2h0.5V422.8h0.5V426h0.5V424.6h0.5V424.5h0.5V424.6h0.5V422.4h0.5V423.3h0.5V424.2h0.5V426.7h0.5V424.9h0.5V424.2h0.5V424.1h0.5V425.1h0.5V425.4h0.5V425.6h0.5V425.6h0.5V425.4h0.5V426.5h0.5V424.2h0.5V422.2h0.5V423.2h0.5V424.5h0.5V422.1h0.5V422.8h0.5V423h0.5V420.8h0.5V423.6h0.5V423.2h0.5V425.6h0.5V424h0.5V421.1h0.5V423h0.5V422.8h0.5V421.1h0.5V424h0.5V423.3h0.5V424.9h0.5V424.4h0.5V425.4h0.5V425.3h0.5V423.3h0.5V422.8h0.5V423.2h0.5V424.6h0.5V423.8h0.5V424.4h0.5V424.4h0.5V424.2h0.5V423.3h0.5V423.7h0.5V424.8h0.5V421.3h0.5V422.6h0.5V421h0.5V420.9h0.5V421.2h0.5V421.6h0.5V423.3h0.5V419.3h0.5V421.8h0.5V420.8h0.5V421.5h0.5V419.2h0.5V419.5h0.5V420.2h0.5V421.2h0.5V423.3h0.5V420.1h0.5V420.1h0.5V420.3h0.5V421.9h0.5V423.5h0.5V420.9h0.5V420h0.5V420.4h0.5V422.7h0.5V421.5h0.5V422.1h0.5V420.4h0.5V422.8h0.5V422.4h0.5V422.6h0.5V422.7h0.5V423.8h0.5V422.9h0.5V421.3h0.5V420.9h0.5V423.3h0.5V422.5h0.5V423h0.5V424h0.5V424.4h0.5V422.6h0.5V423h0.5V420.3h0.5V424h0.5V423.5h0.5V423.9h0.5V424.7h0.5V424.2h0.5V423.8h0.5V424.3h0.5V423.1h0.5V422.6h0.5V420.8h0.5V424.3h0.5V423.1h0.5V424.3h0.5V424.1h0.5V424.8h0.5V424.7h0.5V424.3h0.5V424.2h0.5V424.3h0.5V425.7h0.5V424.8h0.5V426.7h0.5V425.5h0.5V426.7h0.5V425.1h0.5V424.6h0.5V425.9h0.5V426.7h0.5V424.9h0.5V426.7h0.5V426h0.5V426.7h0.5V426.7h0.5V426.1h0.5V426.7h0.5V426.3h0.5V425.1h0.5V424.4h0.5V426.7h0.5V426.7h0.5V426.7h0.5V426.7h0.5V426.7h0.5V426.7h0.5V426.7h0.5V426.7h0.5V426.7h0.5V426.7h0.5V426.7h0.5V426.7h0.5V426.7h0.5V426.7h0.5V426.7h0.5V426.7h0.5V426.7h0.5V426.7h0.5V378.3Z"/>
<path fill="#2ecf52" d="M263.2 378.3V402.9h0.5V397.7h0.5V401.7h0.5V401.7h0.5V398.2h0.5V401.7h0.5V399.4h0.5V399.8h0.5V396.6h0.5V400h0.5V398.4h0.5V402.1h0.5V378.3ZM293.2 378.3V390.6h0.5V389.8h0.5V390.9h0.5V391.3h0.5V390h0.5V390.2h0.5V390h0.5V391.3h0.5V390.9h0.5V391.4h0.5V391.8h0.5V391.3h0.5V391.9h0.5V391.9h0.5V392.4h0.5V390.4h0.5V391.3h0.5V392.5h0.5V391.7h0.5V390.7h0.5V378.3ZM422.7 378.3V422.2h0.5V421.5h0.5V424.2h0.5V423.7h0.5V423.5h0.5V423.2h0.5V421.7h0.5V423h0.5V423h0.5V426.3h0.5V423.6h0.5V423h0.5V422.9h0.5V424.3h0.5V424.1h0.5V424.8h0.5V425h0.5V424.5h0.5V425.8h0.5V423.1h0.5V421.4h0.5V421.9h0.5V423.5h0.5V421.3h0.5V422.2h0.5V421.5h0.5V420h0.5V422.6h0.5V422.2h0.5V424.4h0.5V423.4h0.5V420.7h0.5V422.1h0.5V422.2h0.5V420.2h0.5V422.5h0.5V422.5h0.5V423.8h0.5V424.1h0.5V425h0.5V424.9h0.5V422.8h0.5V422.4h0.5V423h0.5V424.2h0.5V423.4h0.5V423.8h0.5V424h0.5V423.7h0.5V422.9h0.5V423.3h0.5V424h0.5V419.9h0.5V420.9h0.5V419.7h0.5V419.3h0.5V420h0.5V420.4h0.5V421.9h0.5V417.9h0.5V420.4h0.5V419.3h0.5V419.8h0.5V417.9h0.5V418.6h0.5V418.7h0.5V419.2h0.5V421.6h0.5V419h0.5V418.6h0.5V418.6h0.5V420.2h0.5V421.7h0.5V419.2h0.5V418.2h0.5V419h0.5V421.2h0.5V420.3h0.5V420.5h0.5V419h0.5V421.6h0.5V421.1h0.5V420.9h0.5V420.9h0.5V422.1h0.5V420.7h0.5V419.6h0.5V419.7h0.5V421.5h0.5V421.2h0.5V421.6h0.5V422.7h0.5V423.2h0.5V421.5h0.5V421.8h0.5V418.4h0.5V422.3h0.5V421.6h0.5V422.4h0.5V423.3h0.5V422.5h0.5V422.5h0.5V422.5h0.5V421.7h0.5V420.9h0.5V419.5h0.5V422.3h0.5V422.2h0.5V423.6h0.5V423.1h0.5V424h0.5V423.9h0.5V423.4h0.5V423.2h0.5V423.2h0.5V423.9h0.5V423.3h0.5V425h0.5V423.9h0.5V425.1h0.5V423.7h0.5V423.4h0.5V424.6h0.5V425.9h0.5V423.7h0.5V426.3h0.5V424.6h0.5V426.7h0.5V426.7h0.5V424.7h0.5V425.7h0.5V424.8h0.5V423.4h0.5V423.3h0.5V378.3Z"/>
<path fill="#a44800" d="M43.2 378.3V380.3h0.5V380h0.5V379.4h0.5V380.2h0.5V379.4h0.5V379.9h0.5V379.5h0.5V379.3h0.5V380h0.5V379.9h0.5V379.7h0.5V379.8h0.5V379.7h0.5V379.7h0.5V379.5h0.5V379.9h0.5V379.8h0.5V379.7h0.5V379.6h0.5V379.7h0.5V379.4h0.5V379.7h0.5V379.5h0.5V380.1h0.5V379.5h0.5V379.6h0.5V379.8h0.5V379.9h0.5V379.9h0.5V379.8h0.5V380.3h0.5V379.7h0.5V379.8h0.5V380.4h0.5V379.5h0.5V380h0.5V379.9h0.5V379.4h0.5V379.6h0.5V380h0.5V379.4h0.5V379.7h0.5V380h0.5V379.7h0.5V379.8h0.5V379.6h0.5V379.6h0.5V379.6h0.5V379.7h0.5V379.9h0.5V379.8h0.5V380.2h0.5V379.9h0.5V379.8h0.5V380.3h0.5V379.7h0.5V379.6h0.5V379.8h0.5V379.5h0.5V379.9h0.5V380.1h0.5V379.9h0.5V379.7h0.5V379.7h0.5V379.9h0.5V380h0.5V379.7h0.5V379.6h0.5V380h0.5V379.8h0.5V379.8h0.5V379.9h0.5V379.6h0.5V379.7h0.5V380h0.5V379.7h0.5V379.7h0.5V379.8h0.5V379.8h0.5V380.4h0.5V379.6h0.5V379.8h0.5V380.3h0.5V379.8h0.5V379.8h0.5V379.4h0.5V380h0.5V380h0.5V380h0.5V379.7h0.5V379.8h0.5V379.7h0.5V380h0.5V379.8h0.5V379.9h0.5V379.4h0.5V379.7h0.5V379h0.5V379.7h0.5V379.9h0.5V379.7h0.5V380.3h0.5V379.5h0.5V379.7h0.5V379.5h0.5V379.6h0.5V379.6h0.5V379.4h0.5V379.2h0.5V379.3h0.5V379.9h0.5V379.7h0.5V379.8h0.5V379.8h0.5V379.7h0.5V379.6h0.5V379.8h0.5V379.9h0.5V379.8h0.5V379.8h0.5V379.5h0.5V379.8h0.5V379.5h0.5V379.6h0.5V379.8h0.5V379.8h0.5V380h0.5V380h0.5V379.9h0.5V379.7h0.5V379.7h0.5V379.7h0.5V380.2h0.5V379.9h0.5V379.6h0.5V379.5h0.5V380.1h0.5V379.5h0.5V379.8h0.5V379.8h0.5V380h0.5V379.5h0.5V379.9h0.5V379.8h0.5V379.9h0.5V380.1h0.5V379.8h0.5V379.7h0.5V380h0.5V379.4h0.5V379.8h0.5V379.5h0.5V379.5h0.5V379.4h0.5V379.3h0.5V380h0.5V380h0.5V379.8h0.5V380h0.5V379.8h0.5V379.6h0.5V379.5h0.5V379.9h0.5V380h0.5V380.1h0.5V379.6h0.5V379.7h0.5V379.4h0.5V380h0.5V379.9h0.5V379.9h0.5V379.8h0.5V379.7h0.5V379.7h0.5V380h0.5V379.6h0.5V380h0.5V379.8h0.5V379.5h0.5V379.4h0.5V379.6h0.5V379.7h0.5V379.4h0.5V379.9h0.5V380h0.5V379.9h0.5V379.3h0.5V379.2h0.5V380h0.5V380.1h0.5V379.7h0.5V379.9h0.5V379.7h0.5V379.6h0.5V380h0.5V379.6h0.5V380h0.5V380.2h0.5V379.7h0.5V380.2h0.5V379.4h0.5V380h0.5V379.8h0.5V379.8h0.5V380.2h0.5V379.9h0.5V380.1h0.5V380.3h0.5V379.7h0.5V380h0.5V379.5h0.5V379.3h0.5V379.6h0.5V379.8h0.5V380.3h0.5V379.7h0.5V379.5h0.5V379.7h0.5V379.6h0.5V379.6h0.5V381.8h0.5V382.4h0.5V381.8h0.5V381.7h0.5V382.2h0.5V382.5h0.5V382.1h0.5V381.5h0.5V381.4h0.5V381.9h0.5V381.3h0.5V381.9h0.5V382.3h0.5V381h0.5V381.9h0.5V382.1h0.5V381.8h0.5V382.1h0.5V382.1h0.5V382.3h0.5V382.9h0.5V382.1h0.5V381.6h0.5V381.6h0.5V381.5h0.5V382.2h0.5V382.1h0.5V382.1h0.5V382h0.5V382.5h0.5V382.3h0.5V382.3h0.5V381.7h0.5V381.8h0.5V381.5h0.5V381.7h0.5V382h0.5V381.7h0.5V381.9h0.5V381.4h0.5V381.2h0.5V382.4h0.5V381.7h0.5V381.9h0.5V382.2h0.5V382.1h0.5V381.7h0.5V381.8h0.5V382.5h0.5V382.4h0.5V382.2h0.5V382.5h0.5V381.3h0.5V382h0.5V381.8h0.5V381.3h0.5V382.1h0.5V382.2h0.5V382h0.5V381.3h0.5V381.9h0.5V382h0.5V381.9h0.5V382h0.5V382.1h0.5V382.5h0.5V382h0.5V382.9h0.5V382h0.5V382.1h0.5V381.7h0.5V382h0.5V381.9h0.5V381.6h0.5V381.6h0.5V382h0.5V381.7h0.5V382.4h0.5V382h0.5V381.9h0.5V382.3h0.5V381.5h0.5V382.3h0.5V381.7h0.5V382.2h0.5V381.7h0.5V381.6h0.5V381.3h0.5V382h0.5V382.1h0.5V381.4h0.5V382.6h0.5V381.9h0.5V381.5h0.5V382.7h0.5V381.8h0.5V382.5h0.5V380.9h0.5V382.7h0.5V382h0.5V381.9h0.5V382.1h0.5V381.5h0.5V382.3h0.5V382.3h0.5V381.8h0.5V381.9h0.5V382.5h0.5V381h0.5V382.1h0.5V382.7h0.5V381.6h0.5V381.7h0.5V381.6h0.5V382.1h0.5V381.9h0.5V382.2h0.5V382.3h0.5V382.2h0.5V382.3h0.5V382.3h0.5V381.9h0.5V381.7h0.5V381.6h0.5V382.2h0.5V381.7h0.5V381.6h0.5V381.6h0.5V381.9h0.5V382h0.5V381.8h0.5V381.6h0.5V382.1h0.5V381.1h0.5V381.8h0.5V382.3h0.5V382h0.5V382.4h0.5V381.8h0.5V382h0.5V381.7h0.5V381.7h0.5V382.3h0.5V382.8h0.5V382.3h0.5V382h0.5V381.7h0.5V381.6h0.5V382.3h0.5V382.2h0.5V382.4h0.5V382.3h0.5V382.4h0.5V381.7h0.5V381.6h0.5V381.6h0.5V381.9h0.5V381.9h0.5V382h0.5V382.3h0.5V381.8h0.5V381.3h0.5V381h0.5V380.1h0.5V380.9h0.5V378.8h0.5V378.9h0.5V378.7h0.5V379.1h0.5V378.6h0.5V378.9h0.5V378.7h0.5V378.8h0.5V379h0.5V378.8h0.5V378.9h0.5V379h0.5V378.7h0.5V379h0.5V378.9h0.5V378.8h0.5V379.4h0.5V379.5h0.5V379.2h0.5V379.1h0.5V379.2h0.5V379.1h0.5V379.3h0.5V379.2h0.5V379.1h0.5V379.3h0.5V379.4h0.5V379.4h0.5V379.2h0.5V379.3h0.5V379.3h0.5V379.4h0.5V379.2h0.5V381.9h0.5V381.4h0.5V382.1h0.5V381.3h0.5V381.4h0.5V381.8h0.5V381.6h0.5V382.1h0.5V381.5h0.5V382.4h0.5V381.3h0.5V382h0.5V381.5h0.5V382.3h0.5V381.4h0.5V382h0.5V380.4h0.5V381.4h0.5V382.4h0.5V381.8h0.5V381.7h0.5V382.1h0.5V395.4h0.5V392.9h0.5V393.7h0.5V393.4h0.5V393.4h0.5V394.9h0.5V393.5h0.5V392.6h0.5V393.5h0.5V393.1h0.5V392.5h0.5V395.3h0.5V378.3ZM280.2 378.3V383.4h0.5V382.9h0.5V384.2h0.5V383.9h0.5V382.2h0.5V380.1h0.5V380h0.5V379.7h0.5V380.1h0.5V380.2h0.5V380.2h0.5V379.9h0.5V379.9h0.5V378.8h0.5V383.2h0.5V383.5h0.5V382.4h0.5V384.4h0.5V382.7h0.5V383.8h0.5V383.6h0.5V382.7h0.5V383.1h0.5V383.2h0.5V382.9h0.5V383.6h0.5V379.2h0.5V379h0.5V378.8h0.5V379.4h0.5V379.1h0.5V378.9h0.5V379.1h0.5V379.2h0.5V379.4h0.5V378.8h0.5V379.2h0.5V379.4h0.5V379.4h0.5V379.4h0.5V379.7h0.5V379.1h0.5V379.2h0.5V379.5h0.5V379.6h0.5V379.3h0.5V378.3ZM316.7 378.3V392.8h0.5V392.5h0.5V393.6h0.5V394.8h0.5V395.9h0.5V393.7h0.5V396h0.5V393.6h0.5V393h0.5V393.4h0.5V394.4h0.5V392.1h0.5V392.5h0.5V394h0.5V392.3h0.5V378.3ZM328.2 378.3V393.3h0.5V393.8h0.5V392.8h0.5V392.5h0.5V391.7h0.5V394.6h0.5V391.8h0.5V392.5h0.5V391.3h0.5V391.2h0.5V389.8h0.5V390h0.5V391.4h0.5V390.2h0.5V388.1h0.5V389.2h0.5V387.8h0.5V387.5h0.5V388.3h0.5V387.2h0.5V388.1h0.5V387.5h0.5V387.7h0.5V386.8h0.5V386.3h0.5V386h0.5V380.3h0.5V380.2h0.5V380.2h0.5V380.2h0.5V380.3h0.5V380.3h0.5V380.1h0.5V380.2h0.5V380.3h0.5V380.1h0.5V380.3h0.5V393.1h0.5V392.2h0.5V392.8h0.5V393.6h0.5V392h0.5V392.2h0.5V393.7h0.5V392.5h0.5V392.5h0.5V393.8h0.5V392.5h0.5V393.4h0.5V392h0.5V393.2h0.5V393h0.5V390.9h0.5V392.7h0.5V393.3h0.5V393.3h0.5V393.1h0.5V393.9h0.5V392.8h0.5V392.2h0.5V393.6h0.5V394.7h0.5V392.5h0.5V394.1h0.5V392.7h0.5V391.5h0.5V392h0.5V392.1h0.5V393.8h0.5V392.9h0.5V392.3h0.5V392.9h0.5V394h0.5V394.6h0.5V395.5h0.5V394h0.5V395h0.5V394.9h0.5V394.8h0.5V394.1h0.5V393.6h0.5V393.8h0.5V395.3h0.5V394.8h0.5V393.6h0.5V393h0.5V393.9h0.5V395.5h0.5V394.8h0.5V394.8h0.5V394.6h0.5V394.6h0.5V394h0.5V395h0.5V394.9h0.5V394.3h0.5V395.9h0.5V392.5h0.5V394h0.5V393.7h0.5V395.2h0.5V394.8h0.5V393.4h0.5V394.5h0.5V394h0.5V393.2h0.5V393.2h0.5V378.3ZM422.7 378.3V414.7h0.5V413.8h0.5V416.5h0.5V416.7h0.5V415.7h0.5V414.9h0.5V416.8h0.5V416.5h0.5V415.5h0.5V418.8h0.5V417.8h0.5V416.5h0.5V416.9h0.5V418.5h0.5V419.1h0.5V418.8h0.5V419h0.5V418.4h0.5V420.8h0.5V401.5h0.5V400.2h0.5V401.6h0.5V402.5h0.5V400.5h0.5V403.3h0.5V402.9h0.5V402.3h0.5V404.6h0.5V404.7h0.5V405.2h0.5V405h0.5V405.1h0.5V405h0.5V406.4h0.5V406.1h0.5V407h0.5V408.2h0.5V409h0.5V384.4h0.5V384.9h0.5V383.6h0.5V382.8h0.5V382.3h0.5V382.3h0.5V382.4h0.5V381.1h0.5V380.8h0.5V380.8h0.5V380.3h0.5V380.2h0.5V379.5h0.5V379.3h0.5V411.2h0.5V412h0.5V412.2h0.5V412.5h0.5V412.5h0.5V412.3h0.5V414.2h0.5V412.1h0.5V414.4h0.5V412.9h0.5V414.4h0.5V413.4h0.5V413.2h0.5V413.9h0.5V414.2h0.5V416.6h0.5V415.1h0.5V415.3h0.5V415.3h0.5V416.5h0.5V406.5h0.5V405.6h0.5V405.3h0.5V405h0.5V406.7h0.5V407.7h0.5V408.1h0.5V406.9h0.5V409.1h0.5V408.4h0.5V410.2h0.5V409.3h0.5V409.9h0.5V409.6h0.5V410h0.5V410.9h0.5V411.7h0.5V409.4h0.5V410.2h0.5V410.6h0.5V409.4h0.5V410.9h0.5V410.1h0.5V408.4h0.5V412.7h0.5V411.2h0.5V411.1h0.5V412.7h0.5V412.2h0.5V411.5h0.5V412.4h0.5V412.8h0.5V412.5h0.5V410.9h0.5V413.3h0.5V379.6h0.5V379.6h0.5V379.6h0.5V379.9h0.5V379.6h0.5V379.6h0.5V379.5h0.5V379.6h0.5V413.7h0.5V413.7h0.5V416h0.5V415.8h0.5V416.2h0.5V415.6h0.5V414.8h0.5V417.4h0.5V417.6h0.5V416.2h0.5V417.4h0.5V418.2h0.5V419.6h0.5V418.8h0.5V418.5h0.5V418h0.5V418.1h0.5V418.7h0.5V418.4h0.5V378.3Z"/>
<path fill="#0b73e2" d="M303.2 378.3V388.6h0.5V392.5h0.5V389.1h0.5V382.9h0.5V389.1h0.5V392.4h0.5V386.8h0.5V388.8h0.5V388.4h0.5V387.4h0.5V388.7h0.5V387.6h0.5V387.5h0.5V389h0.5V386.4h0.5V386.1h0.5V387.8h0.5V386.4h0.5V389h0.5V387.1h0.5V386h0.5V387.5h0.5V385.4h0.5V389.6h0.5V388h0.5V388.8h0.5V388.6h0.5V383.2h0.5V384.3h0.5V383.2h0.5V385.9h0.5V384.8h0.5V381.7h0.5V384.3h0.5V384.5h0.5V382.8h0.5V384h0.5V384.2h0.5V383.4h0.5V384h0.5V384.4h0.5V383.6h0.5V391.9h0.5V391.1h0.5V391.1h0.5V388.6h0.5V390h0.5V391.6h0.5V392.9h0.5V390.7h0.5V380.6h0.5V380.8h0.5V380.3h0.5V379.6h0.5V379.5h0.5V381.1h0.5V380.4h0.5V380.6h0.5V380.1h0.5V380.2h0.5V380.2h0.5V379.9h0.5V380.1h0.5V379.8h0.5V380.1h0.5V380.7h0.5V380.3h0.5V380h0.5V380.9h0.5V380.8h0.5V380.3h0.5V379.5h0.5V380.8h0.5V380.8h0.5V380h0.5V380.8h0.5V378.3ZM364.7 378.3V379.9h0.5V379.8h0.5V379.5h0.5V379.3h0.5V379.7h0.5V379.6h0.5V380.2h0.5V379.7h0.5V379.9h0.5V379.8h0.5V379.2h0.5V380h0.5V379.6h0.5V379.3h0.5V379.9h0.5V380.1h0.5V379.7h0.5V379.7h0.5V379.6h0.5V379.6h0.5V380.1h0.5V379.8h0.5V379.9h0.5V379.9h0.5V378.9h0.5V379.8h0.5V379.9h0.5V379.8h0.5V379.3h0.5V379.5h0.5V379.9h0.5V379.9h0.5V379.9h0.5V379.4h0.5V378.3ZM387.7 378.3V406.8h0.5V411h0.5V413.9h0.5V414.5h0.5V415.7h0.5V416.7h0.5V416.3h0.5V418.2h0.5V418.3h0.5V419.1h0.5V419.7h0.5V420.2h0.5V420.2h0.5V396h0.5V394.3h0.5V394.9h0.5V394.8h0.5V395.8h0.5V395.6h0.5V396.2h0.5V395.9h0.5V396.4h0.5V395.3h0.5V395.9h0.5V395.4h0.5V395h0.5V394.7h0.5V395.7h0.5V395.2h0.5V395.4h0.5V425.8h0.5V426.1h0.5V426h0.5V425.8h0.5V426.2h0.5V425.9h0.5V425.8h0.5V426.1h0.5V426.1h0.5V425.8h0.5V425.8h0.5V425.9h0.5V425.9h0.5V426h0.5V426h0.5V425.8h0.5V425.8h0.5V425.9h0.5V426.2h0.5V425.9h0.5V378.3ZM414.2 378.3V426.7h0.5V426.7h0.5V426.7h0.5V426.7h0.5V426.7h0.5V426.7h0.5V426.7h0.5V426.7h0.5V426.7h0.5V426.7h0.5V426.7h0.5V426.7h0.5V426.7h0.5V426.7h0.5V426.7h0.5V426.7h0.5V426.7h0.5V378.3Z"/>
<path d="M97.2 378.3V426.7M99.4 378.3V426.7M100.8 378.3V426.7M102.8 378.3V426.7M104.6 378.3V426.7M106.4 378.3V426.7M108.8 378.3V426.7M111.5 378.3V426.7M115.7 378.3V426.7M118.5 378.3V426.7M119.9 378.3V426.7M124 378.3V426.7M128.2 378.3V426.7M134.2 378.3V426.7M135.6 378.3V426.7M139.3 378.3V426.7M144.9 378.3V426.7M153.4 378.3V426.7M171.7 378.3V426.7M188.2 378.3V426.7M205.4 378.3V426.7M222.2 378.3V426.7M235.6 378.3V426.7M243.5 378.3V426.7M252.4 378.3V426.7M263.4 378.3V426.7M269.3 378.3V426.7M280.4 378.3V426.7M284.2 378.3V426.7M287.4 378.3V426.7M293.3 378.3V426.7M303.4 378.3V426.7M306.7 378.3V426.7M316.5 378.3V426.7M324.3 378.3V426.7M326.6 378.3V426.7M328.4 378.3V426.7M346.7 378.3V426.7M364.8 378.3V426.7M381.7 378.3V426.7M387.5 378.3V426.7M394 378.3V426.7M402.9 378.3V426.7M412.7 378.3V426.7M414 378.3V426.7M422.5 378.3V426.7M432 378.3V426.7M441.6 378.3V426.7M448.8 378.3V426.7M458.6 378.3V426.7M467.4 378.3V426.7M476.4 378.3V426.7M480.3 378.3V426.7M489.6 378.3V426.7" stroke="#0c0c0c" stroke-width="0.5" fill="none" opacity="0.9"/>
<rect x="43.2" y="378.3" width="455.5" height="48.4" fill="none" stroke="#0a0a0a" stroke-width="1.25"/>
<text x="44" y="376.6" font-family="'Liberation Sans',sans-serif" font-weight="bold" font-size="4.3" fill="#35a4d6">Avg. pairwise similarity: 0.999</text>
<text x="1" y="401" font-family="'Liberation Sans',sans-serif" font-weight="bold" font-size="7.7" fill="#111">K = 7</text>
<text x="1" y="410.4" font-family="'Liberation Sans',sans-serif" font-size="4.6" fill="#8fcdea" text-decoration="underline">9/10 runs</text>
<rect x="43.2" y="440.5" width="455.5" height="48.2" fill="#f0a4fb"/>
<path fill="#1b1b1b" d="M381.7 440.5V488.7h0.5V488.7h0.5V488.7h0.5V488.7h0.5V488.7h0.5V488.7h0.5V488.7h0.5V488.7h0.5V488.7h0.5V488.7h0.5V488.7h0.5V488.7h0.5V488.2h0.5V488h0.5V488.7h0.5V488.5h0.5V488.7h0.5V488.7h0.5V488.5h0.5V488.7h0.5V488.7h0.5V488.3h0.5V488.4h0.5V488.7h0.5V488.5h0.5V488.4h0.5V487.2h0.5V486.7h0.5V488.7h0.5V488.7h0.5V488.7h0.5V488.7h0.5V488.7h0.5V487.9h0.5V488.7h0.5V487.9h0.5V487.7h0.5V488.3h0.5V488.7h0.5V488.7h0.5V488.7h0.5V488.7h0.5V488.5h0.5V488.7h0.5V488.7h0.5V488.7h0.5V488.7h0.5V488.6h0.5V488.7h0.5V488.6h0.5V488.7h0.5V488.7h0.5V488.7h0.5V488.7h0.5V488.6h0.5V488.7h0.5V488.7h0.5V488.6h0.5V488.7h0.5V488.7h0.5V488.7h0.5V488.7h0.5V488.7h0.5V488.7h0.5V488.7h0.5V440.5Z"/>
<path fill="#4b0069" d="M43.2 440.5V454.6h0.5V452.3h0.5V451.2h0.5V453.9h0.5V449.7h0.5V455h0.5V452.8h0.5V452.5h0.5V455.1h0.5V453.4h0.5V452.7h0.5V451.2h0.5V451.3h0.5V452.2h0.5V455.2h0.5V453.2h0.5V449.2h0.5V451.1h0.5V452.8h0.5V451.9h0.5V454.7h0.5V450.2h0.5V454h0.5V451h0.5V450.8h0.5V453.4h0.5V452.2h0.5V449.5h0.5V449.5h0.5V446.9h0.5V451.4h0.5V451.9h0.5V447.4h0.5V449.2h0.5V450.7h0.5V452.2h0.5V453.8h0.5V455.1h0.5V450.6h0.5V454.6h0.5V453.1h0.5V449.1h0.5V453.4h0.5V453.1h0.5V453h0.5V452.1h0.5V451.1h0.5V451.3h0.5V450.9h0.5V452.1h0.5V452.5h0.5V452.3h0.5V451.7h0.5V450.7h0.5V451.3h0.5V453h0.5V454.4h0.5V453.1h0.5V451.6h0.5V451.9h0.5V451.3h0.5V452.8h0.5V450.2h0.5V453.2h0.5V452.9h0.5V449.1h0.5V456.2h0.5V452.4h0.5V453.6h0.5V452h0.5V453h0.5V450.8h0.5V453.6h0.5V454.2h0.5V452.6h0.5V452.8h0.5V452.7h0.5V452h0.5V451.3h0.5V450.8h0.5V452.4h0.5V449.4h0.5V451.3h0.5V452.7h0.5V454.2h0.5V451h0.5V452h0.5V450.5h0.5V452.6h0.5V452.9h0.5V451.2h0.5V451.4h0.5V452h0.5V450.3h0.5V455h0.5V454.4h0.5V451.6h0.5V450.8h0.5V454.6h0.5V450.5h0.5V449.2h0.5V453.3h0.5V452.1h0.5V454.9h0.5V448.8h0.5V452.3h0.5V448.7h0.5V452.7h0.5V453.3h0.5V452.9h0.5V450.6h0.5V455.5h0.5V454h0.5V450.8h0.5V450.6h0.5V453h0.5V451.7h0.5V451.4h0.5V452.2h0.5V453.6h0.5V453.4h0.5V450.5h0.5V453.3h0.5V452.2h0.5V452.2h0.5V454.6h0.5V453.9h0.5V452.7h0.5V451.3h0.5V452.2h0.5V451.7h0.5V455.1h0.5V454.9h0.5V449.7h0.5V452.2h0.5V452.4h0.5V449.8h0.5V453.1h0.5V450.3h0.5V451.2h0.5V452.4h0.5V453.1h0.5V450h0.5V450.9h0.5V453.6h0.5V453.2h0.5V450.2h0.5V450.8h0.5V452.6h0.5V453.7h0.5V450.7h0.5V456.7h0.5V450.5h0.5V449.4h0.5V450.7h0.5V455.1h0.5V452.9h0.5V452.6h0.5V452.2h0.5V453.7h0.5V451.6h0.5V450.1h0.5V452h0.5V450.7h0.5V456.1h0.5V448.1h0.5V450.3h0.5V450.9h0.5V453.2h0.5V449.7h0.5V454.2h0.5V450.6h0.5V449.6h0.5V450h0.5V450.3h0.5V452.8h0.5V449.5h0.5V449.2h0.5V449.6h0.5V454.1h0.5V451.7h0.5V449.5h0.5V452h0.5V452.5h0.5V451.9h0.5V450.2h0.5V454.8h0.5V449.5h0.5V451.1h0.5V451.2h0.5V448.4h0.5V451.2h0.5V450.4h0.5V450.5h0.5V449.6h0.5V450.7h0.5V451.8h0.5V450.1h0.5V452.2h0.5V452.2h0.5V451.4h0.5V452h0.5V455.6h0.5V466.2h0.5V461.4h0.5V459.4h0.5V451.1h0.5V449.2h0.5V450.9h0.5V450.2h0.5V451.1h0.5V450.8h0.5V451.6h0.5V452h0.5V450.7h0.5V451.9h0.5V450.5h0.5V454.2h0.5V454.2h0.5V450.4h0.5V449.7h0.5V451.1h0.5V449.7h0.5V449.9h0.5V449.7h0.5V450.1h0.5V450.9h0.5V449.4h0.5V449.2h0.5V450.1h0.5V450.8h0.5V450.1h0.5V449.6h0.5V450.1h0.5V448.9h0.5V450.4h0.5V448.9h0.5V450.3h0.5V449.8h0.5V449.6h0.5V448.4h0.5V450.2h0.5V450.1h0.5V449.7h0.5V448.5h0.5V450h0.5V449.2h0.5V449.4h0.5V450.5h0.5V449.7h0.5V448.9h0.5V448.5h0.5V451h0.5V449.9h0.5V448.8h0.5V449.9h0.5V448.5h0.5V452h0.5V451.5h0.5V448.6h0.5V450.2h0.5V449h0.5V450.3h0.5V449.4h0.5V449.8h0.5V449.3h0.5V448.6h0.5V449h0.5V449.8h0.5V450.3h0.5V450.1h0.5V448.8h0.5V449.3h0.5V448.8h0.5V449.1h0.5V449.5h0.5V451.1h0.5V450.2h0.5V449.5h0.5V450.5h0.5V450.1h0.5V449.5h0.5V450.9h0.5V450.3h0.5V450.1h0.5V449.6h0.5V450.4h0.5V450.2h0.5V448.7h0.5V448.5h0.5V450.4h0.5V450.3h0.5V449.9h0.5V450.1h0.5V450.5h0.5V450.3h0.5V450.8h0.5V448.5h0.5V448.5h0.5V448.4h0.5V449.5h0.5V451h0.5V448.7h0.5V449.6h0.5V449.5h0.5V449h0.5V449.3h0.5V449.2h0.5V447.6h0.5V448.8h0.5V449.9h0.5V449.4h0.5V448.3h0.5V449.4h0.5V450.2h0.5V449.7h0.5V449.8h0.5V450.5h0.5V450.1h0.5V449h0.5V449.4h0.5V449.5h0.5V450.2h0.5V450.6h0.5V456.6h0.5V452.9h0.5V455.3h0.5V453.5h0.5V451.7h0.5V448.8h0.5V449.1h0.5V449.1h0.5V450.3h0.5V448.9h0.5V449.6h0.5V449h0.5V450.9h0.5V448.3h0.5V450h0.5V449.5h0.5V448.9h0.5V449.8h0.5V448.9h0.5V450.5h0.5V451h0.5V450.1h0.5V448.3h0.5V450.2h0.5V449.4h0.5V448.3h0.5V449.9h0.5V450.7h0.5V450.8h0.5V450h0.5V450.5h0.5V449.7h0.5V451.2h0.5V449.2h0.5V449.3h0.5V450.7h0.5V450.8h0.5V449.2h0.5V449.3h0.5V449.2h0.5V447.9h0.5V451.2h0.5V448.9h0.5V449.2h0.5V449.3h0.5V448.7h0.5V449.3h0.5V449.2h0.5V449.7h0.5V449.5h0.5V449.8h0.5V449.3h0.5V449.1h0.5V449.2h0.5V451.2h0.5V448.9h0.5V454.3h0.5V454.1h0.5V458.1h0.5V460.1h0.5V460h0.5V447.7h0.5V445.1h0.5V445.8h0.5V446h0.5V446.4h0.5V444.4h0.5V444.6h0.5V444.3h0.5V445h0.5V444.9h0.5V444h0.5V443.9h0.5V443.2h0.5V442.3h0.5V443h0.5V442.4h0.5V443.9h0.5V444h0.5V444.7h0.5V443.7h0.5V444.8h0.5V443.9h0.5V443.5h0.5V443.1h0.5V444h0.5V443.3h0.5V445.3h0.5V444h0.5V444.1h0.5V443.8h0.5V444.4h0.5V445.3h0.5V443.8h0.5V447h0.5V447.5h0.5V447.5h0.5V448.2h0.5V447.8h0.5V448.8h0.5V448.6h0.5V449h0.5V448.3h0.5V448.7h0.5V447.2h0.5V448.8h0.5V448h0.5V451.5h0.5V449.5h0.5V449.1h0.5V448.3h0.5V449.7h0.5V448.6h0.5V448.8h0.5V448.8h0.5V448h0.5V464.7h0.5V472.2h0.5V467.6h0.5V468.8h0.5V473.5h0.5V466.3h0.5V474.1h0.5V471.3h0.5V471.4h0.5V470.9h0.5V469.6h0.5V474.5h0.5V450.9h0.5V452.9h0.5V455.4h0.5V456.9h0.5V454h0.5V456.2h0.5V456.3h0.5V457.2h0.5V454.6h0.5V451.9h0.5V453.4h0.5V455.5h0.5V452.9h0.5V453h0.5V451.5h0.5V452h0.5V450.3h0.5V455.3h0.5V451.8h0.5V453.3h0.5V454.1h0.5V452.5h0.5V453.1h0.5V452.8h0.5V450.4h0.5V451.9h0.5V451.9h0.5V464.7h0.5V463.2h0.5V456.7h0.5V459.9h0.5V459.9h0.5V456.6h0.5V456.8h0.5V454.4h0.5V452.2h0.5V447.9h0.5V448.4h0.5V448.2h0.5V449.8h0.5V448.3h0.5V450.2h0.5V447.3h0.5V449.3h0.5V446.9h0.5V449.2h0.5V447.9h0.5V449.5h0.5V453.1h0.5V454.1h0.5V453h0.5V453.6h0.5V454.3h0.5V454.8h0.5V453.5h0.5V454.1h0.5V454.6h0.5V453.3h0.5V440.5ZM298.7 440.5V454.4h0.5V453.1h0.5V440.5ZM300.2 440.5V452.8h0.5V455h0.5V454.6h0.5V452.8h0.5V452.9h0.5V457.6h0.5V468.7h0.5V479.5h0.5V480.8h0.5V477.8h0.5V477.4h0.5V478.2h0.5V477.9h0.5V440.5ZM307.2 440.5V488.7h0.5V488.5h0.5V488.7h0.5V488.2h0.5V487.2h0.5V488.7h0.5V488h0.5V488.7h0.5V488.7h0.5V488.7h0.5V487.9h0.5V488.5h0.5V487.2h0.5V488.2h0.5V488h0.5V488.7h0.5V488.1h0.5V488.3h0.5V487.8h0.5V481.9h0.5V477.1h0.5V481.6h0.5V478h0.5V479.4h0.5V479.8h0.5V480h0.5V478.7h0.5V479h0.5V480.7h0.5V483.1h0.5V481.1h0.5V483.8h0.5V480.1h0.5V483.5h0.5V488.7h0.5V488.7h0.5V477.8h0.5V479.7h0.5V477.5h0.5V479h0.5V468.3h0.5V470.3h0.5V481h0.5V482.9h0.5V483.3h0.5V481.5h0.5V482.1h0.5V480.4h0.5V478.7h0.5V483.9h0.5V480.9h0.5V487.1h0.5V488.7h0.5V480.8h0.5V483h0.5V483.7h0.5V485.3h0.5V482.9h0.5V483.9h0.5V482.3h0.5V488.7h0.5V484.1h0.5V484.8h0.5V487h0.5V482.1h0.5V487.7h0.5V485.4h0.5V484.7h0.5V487.9h0.5V488.4h0.5V488h0.5V488.2h0.5V488.2h0.5V488.7h0.5V488.7h0.5V488.7h0.5V488.7h0.5V488.1h0.5V488.4h0.5V468.1h0.5V471.2h0.5V469h0.5V471.6h0.5V473.9h0.5V476.5h0.5V476.4h0.5V478.4h0.5V477.8h0.5V481.3h0.5V479.1h0.5V478.6h0.5V479.8h0.5V481.8h0.5V480.4h0.5V476.1h0.5V477.8h0.5V476.5h0.5V478.5h0.5V481.4h0.5V481.9h0.5V483.8h0.5V477.9h0.5V481h0.5V479.4h0.5V477.4h0.5V479.3h0.5V481.2h0.5V479.6h0.5V479.5h0.5V480.4h0.5V477.3h0.5V482.1h0.5V479.6h0.5V483.3h0.5V481.5h0.5V479.2h0.5V481.2h0.5V477h0.5V480h0.5V478.1h0.5V483.3h0.5V479.6h0.5V479.6h0.5V483.1h0.5V479.6h0.5V481.5h0.5V480.7h0.5V478h0.5V481.6h0.5V482.2h0.5V480h0.5V478.6h0.5V480.6h0.5V481.7h0.5V483.1h0.5V478.3h0.5V482.1h0.5V482h0.5V482.7h0.5V481.8h0.5V481.2h0.5V481.7h0.5V483.4h0.5V482.2h0.5V485.8h0.5V479.6h0.5V482.3h0.5V483.5h0.5V482.8h0.5V440.5ZM422.7 440.5V488.3h0.5V487.5h0.5V488h0.5V487.2h0.5V484.8h0.5V488.6h0.5V487.8h0.5V488.7h0.5V488.7h0.5V486.4h0.5V487h0.5V488.7h0.5V488.7h0.5V488.4h0.5V488.3h0.5V488.7h0.5V488.7h0.5V488.7h0.5V488.7h0.5V486.9h0.5V485.5h0.5V486.9h0.5V484.2h0.5V488.7h0.5V485.3h0.5V486.4h0.5V488.1h0.5V486.6h0.5V484.4h0.5V485.8h0.5V488.7h0.5V488.7h0.5V488.1h0.5V487.7h0.5V485.5h0.5V487.4h0.5V488.7h0.5V488.7h0.5V487.6h0.5V487h0.5V487.1h0.5V486.7h0.5V487.6h0.5V486.4h0.5V487.2h0.5V487.7h0.5V486.8h0.5V488h0.5V488.3h0.5V488.1h0.5V486.7h0.5V487.1h0.5V487.1h0.5V486.4h0.5V486.1h0.5V488.4h0.5V485h0.5V484.1h0.5V483.5h0.5V484.8h0.5V485.1h0.5V487.9h0.5V486.2h0.5V486.7h0.5V485.6h0.5V485.8h0.5V485.2h0.5V486.1h0.5V488h0.5V485.8h0.5V484.4h0.5V486.5h0.5V487.8h0.5V485.6h0.5V485.2h0.5V488.5h0.5V487.7h0.5V485.5h0.5V486.6h0.5V486.5h0.5V486.5h0.5V485.2h0.5V483.9h0.5V483.3h0.5V486.1h0.5V485.2h0.5V487.5h0.5V488.6h0.5V487.5h0.5V488.6h0.5V488.7h0.5V488h0.5V486.8h0.5V488.7h0.5V488.7h0.5V488.5h0.5V488.5h0.5V486.4h0.5V487.6h0.5V488.2h0.5V487.2h0.5V485.7h0.5V486.5h0.5V488.1h0.5V488.7h0.5V485.4h0.5V487.6h0.5V440.5ZM480.2 440.5V488.7h0.5V488.7h0.5V488.7h0.5V487.2h0.5V488.7h0.5V487.9h0.5V486.7h0.5V488.7h0.5V488.7h0.5V488.7h0.5V488.7h0.5V488.7h0.5V488.7h0.5V488.7h0.5V488.7h0.5V488.7h0.5V488.7h0.5V488.7h0.5V488.7h0.5V440.5Z"/>
<path fill="#fbc993" d="M43.2 440.5V445.7h0.5V444.2h0.5V442.7h0.5V445.3h0.5V442.5h0.5V445.8h0.5V445h0.5V445.6h0.5V442.8h0.5V445h0.5V445.4h0.5V442.7h0.5V444.9h0.5V446.2h0.5V445.3h0.5V444.9h0.5V443h0.5V445.6h0.5V445.5h0.5V445.7h0.5V445.6h0.5V444.8h0.5V445h0.5V444.7h0.5V444.9h0.5V445.3h0.5V446.3h0.5V442.8h0.5V442.8h0.5V442.5h0.5V445.4h0.5V443.2h0.5V442.5h0.5V443.4h0.5V444.4h0.5V443.6h0.5V445.2h0.5V445.8h0.5V444.3h0.5V446.1h0.5V445.3h0.5V442.9h0.5V445.3h0.5V445.7h0.5V446.4h0.5V446h0.5V445.7h0.5V443.3h0.5V442.9h0.5V445h0.5V445.5h0.5V445.6h0.5V443.3h0.5V443h0.5V446.1h0.5V445.4h0.5V446.3h0.5V446.4h0.5V444.7h0.5V445.2h0.5V443.1h0.5V445.8h0.5V442.8h0.5V445.6h0.5V443.5h0.5V443h0.5V445.9h0.5V445.8h0.5V446.4h0.5V445.6h0.5V445.4h0.5V442.7h0.5V443.2h0.5V445.3h0.5V446h0.5V445.1h0.5V445.1h0.5V445.3h0.5V443h0.5V443h0.5V445.5h0.5V442.8h0.5V443h0.5V445.4h0.5V445.2h0.5V442.5h0.5V446.1h0.5V445.7h0.5V445.1h0.5V446.3h0.5V445.1h0.5V444.8h0.5V442.8h0.5V443.1h0.5V445.2h0.5V446h0.5V446.3h0.5V442.8h0.5V445h0.5V445.3h0.5V443.3h0.5V446h0.5V445.3h0.5V445.3h0.5V442.5h0.5V442.6h0.5V443h0.5V446.1h0.5V445.4h0.5V445.5h0.5V443.2h0.5V445.7h0.5V445.4h0.5V443.1h0.5V442.5h0.5V445.7h0.5V443.1h0.5V443.4h0.5V444.5h0.5V443h0.5V444.5h0.5V442.5h0.5V443.2h0.5V445.9h0.5V444.6h0.5V445.6h0.5V446.2h0.5V445.3h0.5V444.8h0.5V444.7h0.5V445.1h0.5V446.3h0.5V446.7h0.5V442.5h0.5V443.3h0.5V446.2h0.5V443.4h0.5V444.7h0.5V442.5h0.5V445.1h0.5V445.9h0.5V445.9h0.5V443.3h0.5V443.1h0.5V446.3h0.5V443h0.5V442.8h0.5V442.9h0.5V445.6h0.5V443.1h0.5V442.8h0.5V445.6h0.5V442.6h0.5V442.4h0.5V443.3h0.5V446.1h0.5V445.8h0.5V445h0.5V442.8h0.5V445.5h0.5V443.3h0.5V443.7h0.5V445.6h0.5V442.9h0.5V445.6h0.5V442.8h0.5V444.9h0.5V442.8h0.5V445.4h0.5V443.4h0.5V445.7h0.5V442.9h0.5V442.7h0.5V442.6h0.5V443.5h0.5V445h0.5V442.8h0.5V443.1h0.5V443.1h0.5V446.2h0.5V442.9h0.5V442.8h0.5V445.7h0.5V444.7h0.5V443.1h0.5V443.2h0.5V445.5h0.5V443h0.5V441.9h0.5V442.9h0.5V442.5h0.5V443.1h0.5V443.2h0.5V443.3h0.5V443h0.5V443.2h0.5V445.2h0.5V442.5h0.5V443.4h0.5V443.1h0.5V442.6h0.5V443.4h0.5V445.8h0.5V444.2h0.5V443.6h0.5V444.3h0.5V443.6h0.5V444.2h0.5V442.8h0.5V443h0.5V443.1h0.5V442.5h0.5V442.8h0.5V442.9h0.5V443h0.5V443.1h0.5V442.7h0.5V445.4h0.5V445.1h0.5V442.5h0.5V440.5ZM303.2 440.5V465h0.5V469.7h0.5V468h0.5V463.5h0.5V462.3h0.5V463.9h0.5V458.1h0.5V487.1h0.5V488.6h0.5V488.1h0.5V488.2h0.5V487.8h0.5V486.6h0.5V488.3h0.5V487.4h0.5V488h0.5V488.4h0.5V488.5h0.5V487.3h0.5V488h0.5V486.8h0.5V487.9h0.5V487.7h0.5V488.6h0.5V487.4h0.5V487.9h0.5V487.4h0.5V460.5h0.5V457.5h0.5V457.7h0.5V459.1h0.5V459.2h0.5V459.1h0.5V459.8h0.5V460.6h0.5V458.7h0.5V462.3h0.5V462.9h0.5V459.9h0.5V462.1h0.5V459.9h0.5V460.5h0.5V472.8h0.5V472.8h0.5V465.7h0.5V465.7h0.5V463.5h0.5V462h0.5V456.1h0.5V458.1h0.5V457.7h0.5V458.8h0.5V454.1h0.5V456.2h0.5V456.2h0.5V454.6h0.5V455.3h0.5V454.9h0.5V452.7h0.5V456.7h0.5V455.2h0.5V451.3h0.5V451.3h0.5V453.1h0.5V453.9h0.5V451.9h0.5V451.7h0.5V448.8h0.5V450.4h0.5V449h0.5V450.8h0.5V449.8h0.5V447.6h0.5V449.9h0.5V447.9h0.5V447.9h0.5V442.5h0.5V442.5h0.5V442.3h0.5V442.6h0.5V442.5h0.5V442.6h0.5V442.6h0.5V442.6h0.5V442.4h0.5V442.4h0.5V442.5h0.5V454.4h0.5V453.4h0.5V452h0.5V452.2h0.5V452.5h0.5V453.5h0.5V452.4h0.5V453.6h0.5V452.3h0.5V453.8h0.5V452.4h0.5V454.2h0.5V453.7h0.5V455.6h0.5V452.4h0.5V452.6h0.5V452.6h0.5V452h0.5V452.1h0.5V453.9h0.5V454h0.5V454.2h0.5V452.8h0.5V454.2h0.5V453.7h0.5V452.8h0.5V453.1h0.5V454.3h0.5V453.6h0.5V453.4h0.5V453.3h0.5V451.1h0.5V453.5h0.5V451.3h0.5V455.8h0.5V452.5h0.5V457.4h0.5V458h0.5V456.5h0.5V456.4h0.5V455.3h0.5V458.6h0.5V455.6h0.5V455.4h0.5V459.8h0.5V457.2h0.5V456.3h0.5V455.6h0.5V455.8h0.5V458h0.5V457.7h0.5V457.6h0.5V455.8h0.5V456h0.5V457.5h0.5V457.7h0.5V454.7h0.5V457.1h0.5V457.1h0.5V455.8h0.5V458.9h0.5V457.2h0.5V459.1h0.5V457.3h0.5V457.1h0.5V456.7h0.5V455.8h0.5V457h0.5V456.8h0.5V456.2h0.5V440.5Z"/>
<path fill="#0b5e31" d="M43.2 440.5V442.2h0.5V442.3h0.5V442.2h0.5V442.1h0.5V442h0.5V442.1h0.5V442.1h0.5V442.9h0.5V442.5h0.5V442.4h0.5V441.9h0.5V442.3h0.5V442.2h0.5V442.9h0.5V442.6h0.5V442.1h0.5V442.5h0.5V442.3h0.5V442.6h0.5V442.8h0.5V442.5h0.5V442.5h0.5V442h0.5V442.4h0.5V442.3h0.5V442.3h0.5V443.2h0.5V442.3h0.5V442.2h0.5V442h0.5V442.1h0.5V442.7h0.5V442.1h0.5V442.8h0.5V442h0.5V443.1h0.5V442.4h0.5V442.4h0.5V441.7h0.5V442.8h0.5V442.1h0.5V442.6h0.5V442.5h0.5V442.3h0.5V442.8h0.5V442.8h0.5V442.8h0.5V442.8h0.5V442.5h0.5V442.3h0.5V442.3h0.5V442.5h0.5V442.8h0.5V442.5h0.5V442.7h0.5V442.3h0.5V442.9h0.5V442.2h0.5V442h0.5V442h0.5V442.6h0.5V442.5h0.5V442.3h0.5V442.9h0.5V443h0.5V442.5h0.5V442.8h0.5V442.5h0.5V442.7h0.5V442.2h0.5V442.4h0.5V442.2h0.5V442.6h0.5V442.4h0.5V442.4h0.5V442.2h0.5V442.7h0.5V442.5h0.5V442.5h0.5V442.5h0.5V442.6h0.5V442.4h0.5V442.6h0.5V442.7h0.5V442.4h0.5V442.2h0.5V442.8h0.5V442.4h0.5V441.9h0.5V442.8h0.5V442.2h0.5V441.7h0.5V442.4h0.5V442.6h0.5V442.2h0.5V442.6h0.5V442.8h0.5V442.3h0.5V442.4h0.5V442h0.5V442.7h0.5V442.5h0.5V442.4h0.5V442.5h0.5V442h0.5V442.2h0.5V442.6h0.5V442.8h0.5V442.7h0.5V441.9h0.5V442.7h0.5V442.5h0.5V442.9h0.5V442.6h0.5V442.2h0.5V442.5h0.5V442.7h0.5V443h0.5V441.9h0.5V442.4h0.5V442h0.5V442h0.5V442.7h0.5V442.2h0.5V442.2h0.5V442.4h0.5V442.5h0.5V442.2h0.5V442.3h0.5V442.4h0.5V442.3h0.5V442.7h0.5V442.9h0.5V442.1h0.5V442.8h0.5V442.6h0.5V442.8h0.5V442h0.5V442h0.5V442.4h0.5V442.7h0.5V442.4h0.5V442.8h0.5V442.6h0.5V442.6h0.5V442.4h0.5V442.2h0.5V442.4h0.5V442.3h0.5V442.6h0.5V442.3h0.5V442.2h0.5V442h0.5V441.9h0.5V442.7h0.5V442.8h0.5V442.6h0.5V442.3h0.5V442.3h0.5V442.4h0.5V442.8h0.5V443.1h0.5V442.2h0.5V442.4h0.5V442.7h0.5V442.4h0.5V441.9h0.5V442.3h0.5V442.2h0.5V442.9h0.5V442.4h0.5V442.3h0.5V442.3h0.5V442.2h0.5V442.9h0.5V442.3h0.5V442.5h0.5V442.6h0.5V442.6h0.5V442.6h0.5V442.4h0.5V442.3h0.5V442.6h0.5V442.2h0.5V442.7h0.5V442.8h0.5V442.5h0.5V442.6h0.5V441.5h0.5V442.5h0.5V442h0.5V442.5h0.5V442.8h0.5V442.8h0.5V442.5h0.5V442.6h0.5V442.8h0.5V442.1h0.5V443.1h0.5V442.7h0.5V442.1h0.5V442.9h0.5V442.8h0.5V442.3h0.5V442.8h0.5V442.7h0.5V441.5h0.5V442.4h0.5V442.3h0.5V442.4h0.5V442.5h0.5V442h0.5V442.4h0.5V442.5h0.5V442.5h0.5V442.8h0.5V442.3h0.5V442.3h0.5V442.6h0.5V441.9h0.5V445.7h0.5V445.8h0.5V445.3h0.5V445.5h0.5V445.6h0.5V445.3h0.5V445.1h0.5V445.1h0.5V445.2h0.5V445.3h0.5V445.6h0.5V445.8h0.5V446h0.5V445.7h0.5V445.3h0.5V445.7h0.5V444.9h0.5V445.9h0.5V445.7h0.5V445h0.5V445.5h0.5V445.9h0.5V445.9h0.5V445.4h0.5V445.3h0.5V445.1h0.5V445.5h0.5V445h0.5V445.4h0.5V445.7h0.5V445.1h0.5V445.4h0.5V445.6h0.5V445h0.5V445.4h0.5V445.7h0.5V445.5h0.5V445.9h0.5V446.1h0.5V445.1h0.5V445.8h0.5V445.6h0.5V446.3h0.5V445.8h0.5V445.6h0.5V445.5h0.5V445.9h0.5V444.6h0.5V445.7h0.5V445.4h0.5V445.8h0.5V444.6h0.5V445.7h0.5V445.5h0.5V444.9h0.5V446.1h0.5V446.1h0.5V445.2h0.5V445.1h0.5V445.6h0.5V446h0.5V445.7h0.5V445.3h0.5V446.4h0.5V445.2h0.5V446h0.5V446.1h0.5V445.5h0.5V445.6h0.5V445.3h0.5V446.1h0.5V446.2h0.5V445.3h0.5V446.1h0.5V445.4h0.5V446h0.5V446.5h0.5V445.5h0.5V445.7h0.5V444.4h0.5V445.6h0.5V445.6h0.5V445h0.5V446h0.5V444.9h0.5V446.2h0.5V445.1h0.5V445.9h0.5V445.3h0.5V445.8h0.5V445.7h0.5V445.3h0.5V444.4h0.5V445.9h0.5V446.1h0.5V445.5h0.5V445.7h0.5V445.4h0.5V445.4h0.5V445.5h0.5V445.7h0.5V446h0.5V446.1h0.5V445.9h0.5V445h0.5V446.1h0.5V446.2h0.5V446.9h0.5V446.2h0.5V445.5h0.5V445h0.5V445.7h0.5V445.8h0.5V445.1h0.5V444.8h0.5V445.5h0.5V446.1h0.5V445h0.5V445.7h0.5V446.1h0.5V445.5h0.5V445.3h0.5V446h0.5V445.9h0.5V445.6h0.5V445.6h0.5V445.3h0.5V445.7h0.5V445.4h0.5V444.2h0.5V445.8h0.5V445.7h0.5V445.6h0.5V445.7h0.5V445.6h0.5V445.9h0.5V445.6h0.5V445.8h0.5V445.1h0.5V445.8h0.5V446.4h0.5V445.8h0.5V445.6h0.5V445.8h0.5V444.5h0.5V446.1h0.5V445.4h0.5V445.2h0.5V445.5h0.5V445h0.5V445.5h0.5V445.3h0.5V445.5h0.5V445.6h0.5V445.5h0.5V445.4h0.5V445.3h0.5V445.3h0.5V446.1h0.5V444.8h0.5V445.1h0.5V445.8h0.5V443.8h0.5V446h0.5V444.2h0.5V441.7h0.5V441.4h0.5V441.4h0.5V441.4h0.5V441.3h0.5V441.6h0.5V441.4h0.5V441.6h0.5V441.5h0.5V441.5h0.5V441.6h0.5V441.5h0.5V441.7h0.5V441.1h0.5V441.6h0.5V441.5h0.5V442h0.5V442.2h0.5V441.7h0.5V441.8h0.5V441.7h0.5V441.8h0.5V441.5h0.5V441.8h0.5V442.1h0.5V441.7h0.5V441.7h0.5V442h0.5V442h0.5V441.9h0.5V442.1h0.5V442.1h0.5V441.7h0.5V444.3h0.5V444.7h0.5V445.2h0.5V444.9h0.5V444.2h0.5V445.2h0.5V445.3h0.5V444.8h0.5V444.7h0.5V445h0.5V444.7h0.5V445.8h0.5V445h0.5V445.2h0.5V446.3h0.5V445.9h0.5V445.1h0.5V445.4h0.5V445.7h0.5V446h0.5V445.3h0.5V444.7h0.5V440.5ZM280.2 440.5V447.7h0.5V446.5h0.5V446.4h0.5V447.7h0.5V447.3h0.5V440.5ZM287.2 440.5V446h0.5V446.3h0.5V445.4h0.5V447h0.5V445.2h0.5V447.1h0.5V445h0.5V446.8h0.5V444.6h0.5V446.4h0.5V445.7h0.5V446.1h0.5V440.5ZM422.7 440.5V486.1h0.5V485.5h0.5V486.3h0.5V485h0.5V483.7h0.5V486h0.5V485.1h0.5V487h0.5V488.1h0.5V483.5h0.5V485.9h0.5V487.6h0.5V487.6h0.5V486.5h0.5V486.6h0.5V486.9h0.5V486.9h0.5V486h0.5V486.9h0.5V484.9h0.5V484h0.5V484.6h0.5V483h0.5V487.4h0.5V483h0.5V485.7h0.5V485.1h0.5V484.3h0.5V482.6h0.5V484.1h0.5V486.7h0.5V486.1h0.5V486.8h0.5V485.7h0.5V484.1h0.5V485.8h0.5V488h0.5V486.8h0.5V487.2h0.5V485.9h0.5V486.1h0.5V485.7h0.5V486.3h0.5V485.6h0.5V486.2h0.5V486.7h0.5V486.2h0.5V487.1h0.5V487.3h0.5V486.9h0.5V485.6h0.5V486.1h0.5V484.3h0.5V484.1h0.5V482.7h0.5V484.9h0.5V482.1h0.5V482.6h0.5V481.5h0.5V482.6h0.5V482.3h0.5V484.6h0.5V483.4h0.5V483.5h0.5V483.9h0.5V483.1h0.5V483.1h0.5V483.9h0.5V484.8h0.5V483.6h0.5V481.9h0.5V482.9h0.5V486.2h0.5V482.4h0.5V483h0.5V484.9h0.5V484.4h0.5V483.2h0.5V483.6h0.5V484.8h0.5V484h0.5V484h0.5V482.2h0.5V481h0.5V483.3h0.5V482.2h0.5V484.4h0.5V485.5h0.5V483.6h0.5V485.5h0.5V486.1h0.5V486h0.5V485h0.5V487.2h0.5V486.6h0.5V485.5h0.5V483.9h0.5V484.2h0.5V484.9h0.5V485.3h0.5V484.9h0.5V483.9h0.5V483.8h0.5V485.1h0.5V486.1h0.5V483.7h0.5V484.9h0.5V486.8h0.5V486.7h0.5V486.7h0.5V485.7h0.5V486.3h0.5V486h0.5V485.6h0.5V486h0.5V487.5h0.5V488.6h0.5V488h0.5V485.2h0.5V487.7h0.5V486.3h0.5V484.7h0.5V487.7h0.5V488.2h0.5V488.4h0.5V486.2h0.5V487.7h0.5V488.7h0.5V487.5h0.5V488.7h0.5V487.3h0.5V486.8h0.5V488.7h0.5V487.7h0.5V488.7h0.5V488.7h0.5V488.7h0.5V488.7h0.5V488.7h0.5V488.7h0.5V488.7h0.5V488.7h0.5V488.7h0.5V488.7h0.5V488.7h0.5V488.7h0.5V488.7h0.5V488.7h0.5V488.7h0.5V488.7h0.5V488.7h0.5V488.7h0.5V440.5Z"/>
<path fill="#2ecf52" d="M263.2 440.5V460.9h0.5V465.9h0.5V463.1h0.5V460.2h0.5V465.3h0.5V462.4h0.5V462.8h0.5V462.8h0.5V463.8h0.5V461.6h0.5V460.2h0.5V463.3h0.5V440.5ZM293.2 440.5V452.8h0.5V453.6h0.5V452.7h0.5V452.5h0.5V454h0.5V452.9h0.5V453.1h0.5V453.6h0.5V452.5h0.5V453.1h0.5V451.9h0.5V454.2h0.5V452.2h0.5V451.9h0.5V452h0.5V454h0.5V453.8h0.5V452.3h0.5V452.1h0.5V454.6h0.5V440.5ZM422.7 440.5V485.2h0.5V484.8h0.5V485.6h0.5V484h0.5V483.2h0.5V484.7h0.5V484.2h0.5V486.1h0.5V487.2h0.5V482.2h0.5V485.3h0.5V486.5h0.5V486.6h0.5V485.3h0.5V485.5h0.5V486.2h0.5V486.3h0.5V485.6h0.5V486h0.5V484.1h0.5V482.6h0.5V484.3h0.5V482.4h0.5V486.2h0.5V481.8h0.5V484.3h0.5V484.4h0.5V483.7h0.5V482h0.5V483.4h0.5V485.7h0.5V485.3h0.5V486h0.5V484.6h0.5V483.2h0.5V484.8h0.5V486.7h0.5V486.1h0.5V486.8h0.5V485.5h0.5V485.5h0.5V485.2h0.5V485.9h0.5V485.3h0.5V485.7h0.5V486.1h0.5V485.7h0.5V486.6h0.5V486.8h0.5V486.2h0.5V485.1h0.5V485.6h0.5V482.4h0.5V483.1h0.5V481h0.5V483.2h0.5V480.5h0.5V481.5h0.5V480.3h0.5V481h0.5V481.5h0.5V482.8h0.5V481.5h0.5V482.4h0.5V482.8h0.5V481.5h0.5V481.8h0.5V482.2h0.5V483.5h0.5V482.3h0.5V480.5h0.5V481.3h0.5V484.5h0.5V480.8h0.5V482h0.5V483.1h0.5V482.8h0.5V481h0.5V481.9h0.5V483.8h0.5V482.2h0.5V482.5h0.5V480.9h0.5V479.4h0.5V481.7h0.5V480.9h0.5V483.2h0.5V483.9h0.5V482.1h0.5V483.5h0.5V484.1h0.5V484.1h0.5V484h0.5V485.6h0.5V485.3h0.5V483.9h0.5V482.2h0.5V482.5h0.5V483.6h0.5V484.2h0.5V483.3h0.5V482.1h0.5V482.5h0.5V483.9h0.5V484.7h0.5V482.4h0.5V483.1h0.5V485.9h0.5V485.6h0.5V485.7h0.5V484.9h0.5V485.4h0.5V484.9h0.5V484.7h0.5V484.9h0.5V486.4h0.5V487.2h0.5V486.4h0.5V483.7h0.5V486.3h0.5V485.1h0.5V483.2h0.5V486.3h0.5V486.7h0.5V487h0.5V484.7h0.5V486.5h0.5V488.3h0.5V486.5h0.5V488.4h0.5V485.5h0.5V485.9h0.5V488.3h0.5V486.1h0.5V440.5Z"/>
<path fill="#a44800" d="M43.2 440.5V441.3h0.5V441.5h0.5V441.2h0.5V441.4h0.5V441h0.5V441.4h0.5V441.3h0.5V441.8h0.5V441.5h0.5V441.6h0.5V440.9h0.5V441.4h0.5V441.2h0.5V441.7h0.5V441.7h0.5V441.5h0.5V441.5h0.5V441.5h0.5V441.5h0.5V441.6h0.5V441.6h0.5V441.4h0.5V441.3h0.5V441.8h0.5V441.4h0.5V441.3h0.5V441.9h0.5V441.5h0.5V441.4h0.5V441.2h0.5V441.3h0.5V441.7h0.5V441.4h0.5V441.7h0.5V441.3h0.5V441.6h0.5V441.5h0.5V441.4h0.5V441.1h0.5V441.7h0.5V441.5h0.5V441.5h0.5V441.7h0.5V441.3h0.5V441.8h0.5V441.6h0.5V441.6h0.5V441.6h0.5V441.4h0.5V441.5h0.5V441.6h0.5V441.4h0.5V441.8h0.5V441.7h0.5V441.8h0.5V441.2h0.5V441.8h0.5V441.4h0.5V441.3h0.5V441.4h0.5V441.8h0.5V441.6h0.5V441.6h0.5V441.7h0.5V441.7h0.5V441.7h0.5V441.7h0.5V441.5h0.5V441.6h0.5V441.2h0.5V441.5h0.5V441h0.5V441.5h0.5V441.5h0.5V441.3h0.5V441.4h0.5V441.7h0.5V441.4h0.5V441.5h0.5V441.9h0.5V441.5h0.5V441.7h0.5V441.6h0.5V441.6h0.5V441.7h0.5V441.4h0.5V441.6h0.5V441.4h0.5V441.4h0.5V441.6h0.5V441.4h0.5V440.9h0.5V441.4h0.5V441.7h0.5V441.3h0.5V441.6h0.5V441.4h0.5V441.2h0.5V441.4h0.5V441h0.5V441.7h0.5V441.4h0.5V441.5h0.5V441.5h0.5V441.2h0.5V441.4h0.5V441.7h0.5V441.6h0.5V441.7h0.5V441.1h0.5V441.6h0.5V441.5h0.5V441.5h0.5V441.6h0.5V441.2h0.5V441.7h0.5V441.6h0.5V441.7h0.5V441.1h0.5V441.5h0.5V441.4h0.5V441h0.5V441.4h0.5V441.5h0.5V441.3h0.5V441.5h0.5V441.6h0.5V441.4h0.5V441.4h0.5V441.6h0.5V441.3h0.5V441.6h0.5V441.7h0.5V441.5h0.5V441.5h0.5V441.5h0.5V441.6h0.5V441.2h0.5V441.1h0.5V441.3h0.5V441.3h0.5V441.7h0.5V441.7h0.5V441.6h0.5V441.7h0.5V441.4h0.5V441.4h0.5V441.2h0.5V441.7h0.5V441.6h0.5V441.5h0.5V441.2h0.5V441.3h0.5V441.6h0.5V441.5h0.5V441.7h0.5V441.5h0.5V441.3h0.5V441.2h0.5V441.5h0.5V441.8h0.5V441.9h0.5V441.3h0.5V441.6h0.5V441.3h0.5V441.5h0.5V440.9h0.5V441.3h0.5V441.1h0.5V441.8h0.5V441.4h0.5V441.6h0.5V441.5h0.5V441.2h0.5V441.6h0.5V441.7h0.5V441.5h0.5V441.6h0.5V441.7h0.5V441.6h0.5V441.4h0.5V441.1h0.5V441.3h0.5V441.3h0.5V441.6h0.5V441.7h0.5V441.5h0.5V441.7h0.5V441h0.5V441.5h0.5V441.2h0.5V441.7h0.5V441.7h0.5V441.7h0.5V441.6h0.5V441.7h0.5V441.8h0.5V441.4h0.5V441.8h0.5V441.4h0.5V441.2h0.5V441.6h0.5V441.6h0.5V441.2h0.5V442.3h0.5V441.9h0.5V441.2h0.5V441.6h0.5V441.5h0.5V441.6h0.5V441.7h0.5V441.3h0.5V441.7h0.5V441.6h0.5V441.7h0.5V441.6h0.5V441.3h0.5V441.4h0.5V441.5h0.5V441h0.5V444.1h0.5V444.2h0.5V443.9h0.5V444h0.5V444.1h0.5V443.6h0.5V443.9h0.5V443.7h0.5V443.9h0.5V443.9h0.5V443.9h0.5V444.3h0.5V444.5h0.5V444.4h0.5V443.8h0.5V444.2h0.5V443.7h0.5V444.3h0.5V444.4h0.5V444h0.5V444.1h0.5V444.4h0.5V444.4h0.5V443.9h0.5V443.9h0.5V443.5h0.5V444h0.5V443.9h0.5V444.1h0.5V444.3h0.5V443.6h0.5V443.9h0.5V444h0.5V443.6h0.5V444h0.5V443.9h0.5V444.2h0.5V444.5h0.5V444.4h0.5V443.6h0.5V444.5h0.5V443.9h0.5V444.6h0.5V444.3h0.5V443.9h0.5V444h0.5V444.1h0.5V443.1h0.5V444.3h0.5V444h0.5V444.4h0.5V443.2h0.5V444.4h0.5V444.1h0.5V443.7h0.5V444.8h0.5V444.4h0.5V443.8h0.5V443.8h0.5V444.3h0.5V444.7h0.5V444.3h0.5V444h0.5V444.7h0.5V443.9h0.5V444.6h0.5V444.3h0.5V444.1h0.5V443.9h0.5V443.9h0.5V444.6h0.5V444.6h0.5V443.9h0.5V444.4h0.5V444.1h0.5V444.7h0.5V445h0.5V444.3h0.5V444.3h0.5V443.2h0.5V444.3h0.5V443.5h0.5V443.9h0.5V444.4h0.5V443.6h0.5V444.9h0.5V443.9h0.5V444.4h0.5V443.9h0.5V444.4h0.5V443.9h0.5V444.1h0.5V443.3h0.5V444.4h0.5V444.4h0.5V444h0.5V444h0.5V443.7h0.5V443.9h0.5V444.2h0.5V444.2h0.5V444.4h0.5V444.5h0.5V444.5h0.5V443h0.5V444.2h0.5V444.9h0.5V445.4h0.5V445h0.5V444.1h0.5V443.9h0.5V443.9h0.5V444.4h0.5V443.6h0.5V443.6h0.5V444.2h0.5V444.6h0.5V444.2h0.5V444.1h0.5V444.8h0.5V444.2h0.5V443.9h0.5V444.2h0.5V444.5h0.5V444h0.5V444.4h0.5V444h0.5V444.2h0.5V444.2h0.5V443.2h0.5V444.5h0.5V444.3h0.5V444.3h0.5V444.2h0.5V444h0.5V444.6h0.5V444.1h0.5V444.4h0.5V443.9h0.5V444.5h0.5V444.7h0.5V444.4h0.5V444.2h0.5V444.3h0.5V443.4h0.5V444.6h0.5V443.8h0.5V443.8h0.5V443.9h0.5V443.7h0.5V444.1h0.5V444h0.5V444.1h0.5V444.5h0.5V444.2h0.5V443.9h0.5V444h0.5V443.8h0.5V444.4h0.5V442.8h0.5V443.7h0.5V444.2h0.5V442.8h0.5V444h0.5V442.8h0.5V441.1h0.5V440.9h0.5V441h0.5V441.1h0.5V441h0.5V441.1h0.5V441h0.5V441.1h0.5V441h0.5V441h0.5V440.9h0.5V441h0.5V441.1h0.5V440.8h0.5V441.1h0.5V441.1h0.5V441.6h0.5V441.8h0.5V441.2h0.5V441.3h0.5V441.4h0.5V441.6h0.5V441.2h0.5V441.5h0.5V441.7h0.5V441.1h0.5V441.3h0.5V441.6h0.5V441.6h0.5V441.3h0.5V441.6h0.5V441.6h0.5V441.3h0.5V443.4h0.5V443.5h0.5V443.8h0.5V443.8h0.5V443.2h0.5V443.9h0.5V444h0.5V443.6h0.5V442.9h0.5V443.4h0.5V443.6h0.5V444.1h0.5V443.6h0.5V444h0.5V445h0.5V443.8h0.5V443.8h0.5V444.2h0.5V444.3h0.5V444.4h0.5V443.9h0.5V443.3h0.5V455.5h0.5V457.7h0.5V458h0.5V455.6h0.5V458.6h0.5V457.4h0.5V455h0.5V457.6h0.5V456.8h0.5V456.4h0.5V454.5h0.5V456.9h0.5V440.5ZM280.2 440.5V446.2h0.5V445.6h0.5V445.2h0.5V446.2h0.5V446h0.5V441.8h0.5V441.4h0.5V442.2h0.5V441.8h0.5V441.8h0.5V441.7h0.5V441.7h0.5V441.5h0.5V442.3h0.5V445.3h0.5V445.4h0.5V444.4h0.5V446.2h0.5V444.4h0.5V446.1h0.5V444.2h0.5V445.8h0.5V444.1h0.5V445h0.5V444.4h0.5V445.5h0.5V441.3h0.5V441.2h0.5V441.2h0.5V441.4h0.5V441.2h0.5V441.4h0.5V441.4h0.5V441.1h0.5V441.5h0.5V441.7h0.5V441h0.5V441.4h0.5V441.3h0.5V441.3h0.5V441.4h0.5V441.2h0.5V441.6h0.5V441.4h0.5V441.2h0.5V441.5h0.5V440.5ZM316.7 440.5V452.6h0.5V450.8h0.5V451.3h0.5V453.6h0.5V451.3h0.5V450.8h0.5V452.2h0.5V453.4h0.5V451.3h0.5V453.6h0.5V455.8h0.5V452.2h0.5V454h0.5V452.4h0.5V452.5h0.5V440.5ZM328.2 440.5V446.3h0.5V448.5h0.5V447.4h0.5V447.1h0.5V446.7h0.5V447.5h0.5V447.5h0.5V448.2h0.5V446.2h0.5V448.1h0.5V447.6h0.5V445.7h0.5V446.4h0.5V446.8h0.5V448.3h0.5V447.1h0.5V446.8h0.5V445.3h0.5V446.7h0.5V445.6h0.5V446.6h0.5V446.6h0.5V445.2h0.5V447.7h0.5V445.2h0.5V445.9h0.5V442h0.5V442h0.5V441.9h0.5V442h0.5V442.1h0.5V442h0.5V442.1h0.5V442h0.5V441.9h0.5V442h0.5V442.1h0.5V451.6h0.5V449.9h0.5V449.2h0.5V449.4h0.5V449.8h0.5V450.3h0.5V449.3h0.5V450.5h0.5V450.1h0.5V450.2h0.5V449.8h0.5V450.8h0.5V450.2h0.5V452.3h0.5V450.7h0.5V450.2h0.5V449.9h0.5V449.6h0.5V449.2h0.5V450.3h0.5V450.6h0.5V451.4h0.5V450.4h0.5V450.9h0.5V450.4h0.5V450h0.5V450.6h0.5V450.7h0.5V449.9h0.5V449.9h0.5V450h0.5V448.4h0.5V450.4h0.5V448.9h0.5V452.1h0.5V450h0.5V452h0.5V451.5h0.5V448.3h0.5V450.1h0.5V450.3h0.5V452.2h0.5V449.9h0.5V450.3h0.5V451.4h0.5V449h0.5V450.1h0.5V449.4h0.5V449.8h0.5V451.1h0.5V450.7h0.5V450.5h0.5V450.5h0.5V450h0.5V450.6h0.5V451.3h0.5V449.7h0.5V450.8h0.5V450.1h0.5V451.3h0.5V451.3h0.5V451h0.5V451.6h0.5V450.3h0.5V450.5h0.5V450.5h0.5V449.7h0.5V451.3h0.5V450.4h0.5V449.6h0.5V440.5ZM422.7 440.5V477.3h0.5V476.9h0.5V477.9h0.5V476.7h0.5V478h0.5V478.5h0.5V477.7h0.5V479.3h0.5V480.3h0.5V476.4h0.5V478.6h0.5V479.4h0.5V480.4h0.5V479.1h0.5V480.3h0.5V481.6h0.5V480.8h0.5V480.3h0.5V480.5h0.5V462.7h0.5V461.7h0.5V463.1h0.5V462.7h0.5V466.2h0.5V463.1h0.5V464.7h0.5V465.3h0.5V465.5h0.5V465.3h0.5V466h0.5V467.1h0.5V469h0.5V469.3h0.5V470.2h0.5V468.6h0.5V469.7h0.5V471.1h0.5V470.9h0.5V447.1h0.5V445.5h0.5V444.8h0.5V445.1h0.5V444.7h0.5V443.6h0.5V444.6h0.5V443.7h0.5V443.3h0.5V442.9h0.5V442.6h0.5V442.5h0.5V441.8h0.5V441.4h0.5V473.6h0.5V474h0.5V472.9h0.5V474.4h0.5V473.9h0.5V473.8h0.5V475h0.5V474.9h0.5V475.9h0.5V476.2h0.5V476h0.5V476.8h0.5V476.9h0.5V476.8h0.5V476.5h0.5V478.3h0.5V478.5h0.5V478.9h0.5V477.5h0.5V477.7h0.5V469.1h0.5V467.5h0.5V467.7h0.5V469.9h0.5V468.9h0.5V469h0.5V469.1h0.5V470.7h0.5V470h0.5V470.5h0.5V469.7h0.5V470.4h0.5V471.6h0.5V471h0.5V472.2h0.5V473.9h0.5V473.4h0.5V471h0.5V471.1h0.5V473.2h0.5V472.4h0.5V472.8h0.5V472.5h0.5V473.5h0.5V472.8h0.5V472h0.5V473.4h0.5V473h0.5V472.5h0.5V472.3h0.5V473.7h0.5V474.3h0.5V476.3h0.5V474.4h0.5V474.5h0.5V442.1h0.5V441.9h0.5V442.1h0.5V442h0.5V442h0.5V442h0.5V441.6h0.5V442.1h0.5V478.1h0.5V477.8h0.5V476.2h0.5V475.4h0.5V479h0.5V476.7h0.5V476.9h0.5V477.9h0.5V478.3h0.5V479.4h0.5V478.5h0.5V478.5h0.5V480.3h0.5V479h0.5V482.4h0.5V479.1h0.5V480.6h0.5V481.8h0.5V481h0.5V440.5Z"/>
<path fill="#0b73e2" d="M303.2 440.5V442.5h0.5V442.3h0.5V444.2h0.5V443.6h0.5V443.4h0.5V443.5h0.5V442.8h0.5V441.8h0.5V441.9h0.5V442h0.5V441.9h0.5V441.8h0.5V441.4h0.5V441.7h0.5V441.9h0.5V442h0.5V442.3h0.5V442.4h0.5V442.2h0.5V442h0.5V441.7h0.5V441.9h0.5V442.1h0.5V441.9h0.5V442h0.5V442.2h0.5V441.8h0.5V446.5h0.5V446.2h0.5V445.7h0.5V447.9h0.5V445.8h0.5V446.6h0.5V446.2h0.5V446.5h0.5V444.7h0.5V448.3h0.5V447.8h0.5V446.2h0.5V447.4h0.5V446.4h0.5V447.1h0.5V441.7h0.5V443h0.5V443.8h0.5V442.4h0.5V442.7h0.5V443.8h0.5V443h0.5V444h0.5V442.5h0.5V442.3h0.5V442.1h0.5V442.6h0.5V442.1h0.5V442.3h0.5V442.9h0.5V442.7h0.5V441.6h0.5V442h0.5V442.7h0.5V442.1h0.5V442.7h0.5V442.8h0.5V442.8h0.5V443.1h0.5V441.9h0.5V442.1h0.5V442.2h0.5V442.2h0.5V442.8h0.5V442.6h0.5V442.1h0.5V442.3h0.5V442h0.5V442.3h0.5V440.5ZM364.7 440.5V441.7h0.5V442h0.5V441.6h0.5V441.9h0.5V442h0.5V442.1h0.5V442h0.5V442h0.5V441.8h0.5V442h0.5V442h0.5V442.1h0.5V442.1h0.5V442.1h0.5V442.1h0.5V442h0.5V441.9h0.5V441.8h0.5V442.1h0.5V442.3h0.5V441.8h0.5V442.1h0.5V441.9h0.5V441.9h0.5V441.6h0.5V441.8h0.5V442.1h0.5V442.1h0.5V442.2h0.5V441.7h0.5V441.3h0.5V442.1h0.5V441.9h0.5V442.1h0.5V440.5ZM387.7 440.5V469.7h0.5V472.8h0.5V475.5h0.5V475.7h0.5V477.6h0.5V478.5h0.5V479h0.5V479.5h0.5V480.2h0.5V480.8h0.5V481h0.5V482.1h0.5V482.2h0.5V457.9h0.5V457.5h0.5V456.9h0.5V458.4h0.5V458.2h0.5V458.3h0.5V458.6h0.5V457.8h0.5V457.6h0.5V458.1h0.5V457.1h0.5V456.7h0.5V457.7h0.5V457.5h0.5V457.3h0.5V457.9h0.5V458.3h0.5V487.8h0.5V488h0.5V488.1h0.5V488.1h0.5V488.1h0.5V487.9h0.5V488.3h0.5V487.9h0.5V488.1h0.5V487.9h0.5V488h0.5V488.1h0.5V487.9h0.5V488.1h0.5V488h0.5V487.8h0.5V488h0.5V488h0.5V488.1h0.5V488.2h0.5V440.5ZM414.2 440.5V488.7h0.5V488.7h0.5V488.7h0.5V488.7h0.5V488.7h0.5V488.7h0.5V488.7h0.5V488.7h0.5V488.7h0.5V488.7h0.5V488.7h0.5V488.7h0.5V488.7h0.5V488.7h0.5V488.7h0.5V488.7h0.5V488.7h0.5V440.5Z"/>
<path d="M97.2 440.5V488.7M99.4 440.5V488.7M100.8 440.5V488.7M102.8 440.5V488.7M104.6 440.5V488.7M106.4 440.5V488.7M108.8 440.5V488.7M111.5 440.5V488.7M115.7 440.5V488.7M118.5 440.5V488.7M119.9 440.5V488.7M124 440.5V488.7M128.2 440.5V488.7M134.2 440.5V488.7M135.6 440.5V488.7M139.3 440.5V488.7M144.9 440.5V488.7M153.4 440.5V488.7M171.7 440.5V488.7M188.2 440.5V488.7M205.4 440.5V488.7M222.2 440.5V488.7M235.6 440.5V488.7M243.5 440.5V488.7M252.4 440.5V488.7M263.4 440.5V488.7M269.3 440.5V488.7M280.4 440.5V488.7M284.2 440.5V488.7M287.4 440.5V488.7M293.3 440.5V488.7M303.4 440.5V488.7M306.7 440.5V488.7M316.5 440.5V488.7M324.3 440.5V488.7M326.6 440.5V488.7M328.4 440.5V488.7M346.7 440.5V488.7M364.8 440.5V488.7M381.7 440.5V488.7M387.5 440.5V488.7M394 440.5V488.7M402.9 440.5V488.7M412.7 440.5V488.7M414 440.5V488.7M422.5 440.5V488.7M432 440.5V488.7M441.6 440.5V488.7M448.8 440.5V488.7M458.6 440.5V488.7M467.4 440.5V488.7M476.4 440.5V488.7M480.3 440.5V488.7M489.6 440.5V488.7" stroke="#0c0c0c" stroke-width="0.5" fill="none" opacity="0.9"/>
<rect x="43.2" y="440.5" width="455.5" height="48.2" fill="none" stroke="#0a0a0a" stroke-width="1.25"/>
<text x="44" y="438.6" font-family="'Liberation Sans',sans-serif" font-weight="bold" font-size="4.3" fill="#35a4d6">Avg. pairwise similarity: 0.999</text>
<text x="1" y="463" font-family="'Liberation Sans',sans-serif" font-weight="bold" font-size="7.7" fill="#111">K = 8</text>
<text x="1" y="472.5" font-family="'Liberation Sans',sans-serif" font-size="4.6" fill="#8fcdea" text-decoration="underline">10/10 runs</text>
<g font-family="'Liberation Sans',sans-serif" font-size="4.65" fill="#111">
<text transform="translate(72.1 494.3) rotate(45)">GCAT</text>
<text transform="translate(114 494.3) rotate(45)">Cat Army</text>
<text transform="translate(145.1 494.3) rotate(45)">BdR</text>
<text transform="translate(160.4 494.3) rotate(45)">BB</text>
<text transform="translate(177.5 494.3) rotate(45)">HC</text>
<text transform="translate(194.3 494.3) rotate(45)">IvV</text>
<text transform="translate(211.3 494.3) rotate(45)">NO</text>
<text transform="translate(227.4 494.3) rotate(45)">PdD</text>
<text transform="translate(238.1 494.3) rotate(45)">PAR</text>
<text transform="translate(247.8 494.3) rotate(45)">French Basque</text>
<text transform="translate(260.4 494.3) rotate(45)">French HGDP</text>
<text transform="translate(265.8 494.3) rotate(45)">Adygei</text>
<text transform="translate(275.6 494.3) rotate(45)">Sardinians</text>
<text transform="translate(280.8 494.3) rotate(45)">North Italy</text>
<text transform="translate(287.2 494.3) rotate(45)">Tuscany</text>
<text transform="translate(294.3 494.3) rotate(45)">Orcadian</text>
<text transform="translate(300.3 494.3) rotate(45)">Russians</text>
<text transform="translate(306.4 494.3) rotate(45)">Algerians</text>
<text transform="translate(312.8 494.3) rotate(45)">Mozabite</text>
<text transform="translate(318.4 494.3) rotate(45)">Egyptians</text>
<text transform="translate(323.8 494.3) rotate(45)">Libyans</text>
<text transform="translate(330.5 494.3) rotate(45)">Saharawi</text>
<text transform="translate(338.1 494.3) rotate(45)">Bedouin</text>
<text transform="translate(345.8 494.3) rotate(45)">Ashkenazi Jews</text>
<text transform="translate(353.4 494.3) rotate(45)">Druze</text>
<text transform="translate(370.8 494.3) rotate(45)">Palestinian</text>
<text transform="translate(379.1 494.3) rotate(45)">Mbuti</text>
<text transform="translate(387.2 494.3) rotate(45)">Bantu</text>
<text transform="translate(397.2 494.3) rotate(45)">Biaka</text>
<text transform="translate(405.5 494.3) rotate(45)">Yoruba</text>
<text transform="translate(411.4 494.3) rotate(45)">San</text>
<text transform="translate(416.8 494.3) rotate(45)">Mandenka</text>
<text transform="translate(425.6 494.3) rotate(45)">Brahui</text>
<text transform="translate(433.2 494.3) rotate(45)">Burusho</text>
<text transform="translate(441.3 494.3) rotate(45)">Hazara</text>
<text transform="translate(450 494.3) rotate(45)">Makrani</text>
<text transform="translate(461.6 494.3) rotate(45)">Pathan</text>
<text transform="translate(470.3 494.3) rotate(45)">Sindhi</text>
<text transform="translate(475.8 494.3) rotate(45)">Uygur</text>
<text transform="translate(482.3 494.3) rotate(45)">Balochi</text>
<text transform="translate(492.1 494.3) rotate(45)">Kalash</text>
</g>
</g>
<g id="panelC">
<g fill="#e6e6e6" stroke="#5e5e5e" stroke-width="0.42" stroke-linejoin="round">
<path d="M186 536.8L186.7 535.3L187.5 534L188.5 533.9L188.9 532.9L189.9 533.2L191 533.2L192.5 532.6L193.9 531.9L195 531.8L196 532.3L197.2 531.6L198.5 531.2L199.8 530.9L200.6 529.8L200.5 528.5L200.6 527.2L201.8 526.9L202.9 526.9L204 526.5L205.1 526.1L205.9 525.3L206.8 524.5L208 525L209 525.8L210.3 525.6L211.7 525.5L212.8 526.5L214 527.5L215.7 527.5L216.7 528.9L218.1 528.2L219.5 527.7L221 527.5L222.5 528.1L224.1 527.9L225.6 527.9L227 527.1L228.6 527.4L230 526.8L231.6 527.1L233 526L234.6 526.5L236 527.3L237.5 527.6L239 527.9L240.5 528.1L242.1 528.2L243.5 528.9L244.9 528.7L245.8 529.6L246.9 530.2L248 530.6L249.5 530.6L250.8 531.6L252.4 531.5L253.7 531.5L254.8 530.8L256 530.4L257.1 530L258.3 530.1L259.4 530.3L260.6 529.6L262 529.2L263.5 529.5L265 528.9L266.5 529.2L268 529.1L269.5 529.4L270.7 529.2L272 529.2L273.5 529.2L274.9 529.9L276.1 530.8L277.5 531.5L278.8 531.1L279.9 531.9L280.9 531.4L282.1 531.4L283 530.6L284.3 530.8L285.6 530.7L286.8 530.3L288.2 530.8L289.5 531.4L291 531.2L292.3 531.3L293.5 531.2L294.8 530.9L295.4 532.2L296.5 533L297.6 534L298.7 534.9L299.8 535.4L300.8 536L302 536.2L303.1 537.3L304.4 538L305.7 538.8L307 539.8L308.5 540.2L310 540.8L311.5 541.3L313.1 541.3L314.6 541.8L316.1 542.2L317.4 543L319 543L320.4 543.4L321.7 542.8L323.1 542.6L324.5 542.8L325.8 541.9L326.5 540.5L327.5 540.1L328.5 539.8L329.5 540.9L331 541.4L332.2 541.2L333.3 541.3L334.4 541.8L335.6 542.3L336.6 543.2L337.9 543.4L339 544.2L340.2 545L341.8 544.8L343.1 545.2L344.4 545.8L345.6 546.7L347 547.4L348.1 547.5L349.2 547.6L350.3 547.8L351.5 547.2L352.8 547L354 546.5L355.4 546.6L356.9 546.8L358.3 546.8L359.1 547.6L360 548.2L361.2 548.2L362.2 548.8L363 549.5L363.8 550.2L363.4 551.7L362.2 552L361 552.6L361 553.6L361.6 554.5L360.9 555.3L359.9 555.9L359.2 556.7L358.1 557.4L357.3 558.4L356.4 559.4L355.5 560.3L354.3 560.9L353.4 561.9L352.3 562.7L351.1 563.5L350.2 564.5L349.3 565.6L348.3 566.6L347.1 567.6L345.8 568.6L344.5 569.5L343 569.6L342.1 570.8L341 571.6L339.9 572.6L338.3 571.9L337.1 572.4L336 573.3L334.7 573.3L333.3 573L332 573.2L330.7 573.5L331.2 574.9L331.8 576.2L330.3 576L329.3 577.5L327.9 577.6L327 578.3L326.5 579.3L325.1 579.8L324.4 581.1L323.4 582.2L323.1 583.8L321.8 584.8L321 586L320.5 587.5L319.8 588.8L318 589.4L317.4 590.8L316.8 592.2L316.2 593.7L315.2 594.9L315.3 596.7L314 597.8L313.8 599.3L313.5 600.9L313.7 602.5L313.3 604L313.7 605.4L314.9 606.4L315.3 607.7L316.1 608.9L317.1 610L318.6 610.3L319.7 611L321 611.7L319.9 612.5L318.9 613.3L317.9 614.4L316.8 615.1L315.6 616L315.1 617.6L313.5 618.1L312.6 619.3L311.8 620.3L311.8 621.7L310.7 622.5L309.9 623.5L309.4 624.7L308.7 625.9L308.4 627.1L307.8 628.3L307.4 629.5L306.8 630.6L306.4 631.8L305.3 633.2L303.5 632.4L302.2 633.2L301.1 633.8L299.8 633.6L298.6 633.9L297.4 633.9L296.2 634.6L295.2 635.6L293.9 636L293.3 637.2L292.8 638.4L291.8 639.4L291.4 640.4L290.5 641L290 642L289.3 643L288.5 643.8L287.9 645.3L286.9 646.5L285.9 647L284.8 647.6L284 648.4L282.6 647.7L281 648.1L279.8 647.7L278.5 647.9L277.3 647.7L276 647.6L274.5 648.1L273 648.2L271.4 648.1L270.1 648.3L268.8 648.5L267.5 648.5L266.3 649.2L265 649.2L263.7 648.7L262.2 649.1L260.9 649L259.5 648.8L258.4 649.7L256.9 649.1L255.7 649.6L254.5 650.2L253 650.6L251.5 651.2L250 651.7L248.7 652.3L247.5 653L246.5 654L245.8 654.9L244.8 655.5L244 656.4L243.2 657.8L242.2 659L241 659.7L240.5 660.9L239.1 660.5L238 659.6L236.9 658.6L235.7 657.6L234.5 657.1L233.8 655.8L232.5 655.6L231.7 654.6L230.8 653.7L229.8 652.9L229.4 651.9L229.3 650.8L228.8 649.8L228.8 648.6L228.1 647.8L227.4 646.9L226.2 646.1L225.5 644.8L224.5 643.8L223.4 643L222.5 641.9L221.4 641L220.1 640.7L219.2 639.8L218.3 638.9L217 638.6L216 637.4L214.4 637L213.1 636.2L212.7 635L212.3 633.7L212 632.5L212.3 631.3L212 630.2L211.9 629L212 627.9L212.8 627L213.2 626L213.7 624.8L214.5 623.9L215.5 623.1L214.5 622.3L214.1 621.2L213.9 620L214.1 618.9L213.9 617.7L214.6 616.7L215.1 615.5L215.5 614.2L216.2 613.1L216.7 611.8L217.2 610.5L218 609.4L218.8 608.3L217.2 607.3L217.6 605.5L216.7 604.2L216 602.9L215.2 601.5L213.9 600.7L213.1 599.6L212.9 598.2L211.8 597.2L213.1 596.4L214.5 595.9L216 595.7L217.4 595.1L218.4 594.2L218.2 592.5L219.4 591.7L219.5 590.2L218.5 589L218.8 587.5L220 586.6L220.8 585.4L221.2 584.1L221.4 582.7L221.7 581.3L221.5 579.9L221 578.4L221.2 576.7L221 575.2L220.8 573.6L221.2 572L222.5 571.1L223.6 570.1L224.5 569.1L225.7 568.3L226.8 567.6L227.8 566.7L228.7 565.6L228.6 564L229.9 563.2L228.9 562.5L227.9 561.6L226.9 560.9L225.7 560.4L225 559.5L224.4 558.4L223.6 557.6L222.4 557L221.1 556.8L219.8 556.6L218.7 555.9L217.4 555.6L216.2 556L214.8 555.8L213.7 556.5L212.5 556.9L211.2 556.1L209.7 556.7L208.3 556.6L206.9 556.3L205.4 556.1L204.3 555L202.8 554.9L201.4 555.3L199.9 555.4L198.4 556L196.9 555.9L195.5 556.1L194.2 556.6L192.9 556.9L192.7 555.7L192.7 554.5L192.6 553.6L192.9 552.7L193.6 551.7L194.3 550.7L194.9 549.7L193.7 549.5L192.5 549.2L191.6 548.6L190.9 547.8L191.9 547.2L193 546.6L192.5 545.7L191.9 544.8L190.7 544.9L189.8 544.2L189.2 543.6L188.9 542.8L189.7 542.1L190.4 541.2L189.5 540.6L188.9 539.8L188.1 538.9L187 538.6L186.5 537.7Z"/>
<path d="M350.5 598L351.4 597.3L352.1 596.3L353 595.5L354.5 595.2L355.2 593.7L356.5 593L357.7 593L358.7 592.1L360 592.2L361.2 592.4L362.3 592.7L363.5 592.8L364.3 593.9L365 595L364.2 596L364.4 597.5L363.5 598.5L363 600L362.8 601.5L361.8 602.1L360.6 602.2L359.5 602.3L358.2 602.1L357.7 600.7L356.5 600.5L355.9 599.6L355.1 598.7L354.5 597.8L353.1 598.3L352 599.2L351.2 598.6Z"/>
<path d="M370.8 589.6L372.1 588.8L373.5 588.2L374.8 587.5L375.8 588.3L377 588.6L377.5 589.7L378.2 590.6L377 591.4L376 592.4L374.9 591.9L373.6 592.1L372.5 591.6L371.5 590.7Z"/>
<path d="M334.2 609.6L335 608.3L336 607.2L337.5 607.1L338.8 606.4L340 606.5L340.4 607.6L339.7 608.8L339 610L338 610.9L336.8 611.6L335.9 611L335.2 610.1Z"/>
<path d="M337.2 613.2L338.4 613.3L339.6 613.4L339 614.5L338.2 613.7Z"/>
<path d="M133.2 664.6L134.2 664.2L135.2 663.6L136.4 664.3L137.6 664.8L137.2 666.1L137.2 667.4L135.9 668.2L135.8 669.8L135.1 669.3L134.4 669L133.7 667.8L133 666.6L132.8 665.6Z"/>
<path d="M131.4 681.6L132.7 681.3L133.6 680.4L135 680.6L134.8 681.8L134.2 682.8L133.2 682.6L132.4 683.2L131.7 682.5Z"/>
<path d="M142.3 675.5L143 674.9L143.2 674L144.1 674.5L145 673.9L145.9 674.5L145.8 675.5L145.6 676.4L145 677.1L144.1 676.7L143.2 677.1L143.1 676.1Z"/>
<path d="M148.6 671.4L150 671L151.6 671L153 670.6L154 669.5L155.2 668.9L156.5 668.4L157.6 668.1L158.9 668.3L159.9 667.6L158.6 668.5L158 670L157.5 671.3L157.1 672.6L156 673.5L154.9 674.6L154 675.9L153.6 677.4L152.6 677.4L151.6 677L151.3 675.4L150.2 674.2L149.6 673.3L149.1 672.4Z"/>
<path d="M163.6 678.2L164.2 677.1L164.6 675.8L165.9 675.5L167 674.8L168.2 675.3L169.4 675.6L170.2 676.7L170.4 678L169.7 679.2L169.4 680.6L168.1 680.8L167 681.6L165.8 681.2L164.6 680.8L164.9 679.2Z"/>
<path d="M182.4 676.2L183.6 675.6L185 675.4L185.6 674.2L186.6 673.3L187 672L187.9 670.6L187.8 669L188.6 667.6L189.7 666.4L190 664.8L191.3 664.3L192.6 664.6L191.7 665.6L192.4 667L191.6 668L190.9 669.4L190 670.7L190 672.4L189.7 673.6L188.5 674.4L188.2 675.6L186.8 676.3L185.4 676.8L184 676Z"/>
<path d="M191.2 662.8L191.8 661.6L193 661L194 660.5L195.1 660.4L196 659.8L196.8 658.8L197.4 657.6L197.8 658.7L198.2 659.8L197.5 660.9L197 662L195.4 662L194 662.8L192.9 663L192 663.8Z"/>
<path fill="none" d="M216.7 528.9L217.9 529.2L218.4 530.5L219.5 531L220.2 532.4L220.7 533.9L220.1 534.8L219.2 535.5L218.7 536.5L218.9 537.6L218.7 538.8L219.3 540.4L221 541L220.8 542.4L220.7 543.8L221.6 544.7L221.8 546.2L222.9 547L222.8 548.2L222.8 549.5L222.7 550.7L221.5 551.7L220.3 552.6L219.1 553.4L218.7 554.7L217.4 555.6M220.2 537.8L221.1 536.9L222.4 536.6L223.5 536.2L224.8 536.8L226.3 536.3L227.6 536.8L228.4 537.7L229.7 537.4L230.5 538.3L232 537.7L233.6 537.8L234.9 537.1L236.3 536.7L237.5 535.9L238.8 535.5L240.1 535.1L241.5 534.9L242.7 534.6L244 534.2L245 533.4L246.2 533.3L247.4 533.2L248.5 532.9L249.4 531.7L250.8 531.3M248.5 532.9L249 534L249.5 535L250.4 535.9L251.9 535.3L253.5 535.5L255.3 535.4L256.4 536.8L257.5 538L258.5 539.2L259.9 539.4L261.3 539.8L261.5 538.4L262.5 537.5L263.2 536.6L264.3 536.8L265.5 536.1L266.5 535.2L267.4 535.5L268.3 535.9L268.8 534.6L270 534L270.4 533.1L271.3 532.9L271.3 531.6L271.6 530.4L272 529.2M271.3 532.9L271.7 534L272.9 533.9L272 535.2L272 536.8L273.1 537.7L274 538.7L274.9 539.8L276.3 540L277.6 540.8L279 541L280.3 541.5L281.4 542.4L282.4 543.4L283.8 543.8L284.9 543.2L285.7 542.4L286.5 541.5L287.8 540.8L288.8 539.8L288.3 538.7L289.2 537.6L289 536.5L289.7 535L290.8 533.9L291.5 532.9L292.5 532.3L293.7 531.7L294.8 530.9M274.9 539.8L274.3 541L274 542.2L273.9 543.5L273.9 544.8L273.7 546.1L274.7 547.2L274.7 548.5L274.9 549.8L275.9 550.3L276.4 551.4L277.5 551.8L278.7 551.8L279.7 552.8L280.9 552.7L282.1 553.7L283.5 554.5L284.6 554.8L285.7 554.8L286.8 554.7L288.1 554.9L289.5 554.9L290.8 554.7M283.8 543.8L284.2 545.1L285.2 546.1L285.4 547.5L286.1 548.6L286.8 549.8L287.1 551.1L288.5 551.7L289 552.8L290 553.7L290.8 554.7M305.7 538.8L305.1 539.8L305.2 540.9L305 542L304.4 543.4L303.7 544.8L302.3 545.6L301 546.5L300.7 547.9L299.7 548.8L298.8 549.8L298.2 551L298.2 552.4L297.7 553.7L296.6 554.5L295.3 554.4L294 554.5L292.9 554.4L291.9 554.6L290.8 554.7M290.8 554.7L291.2 555.8L291.4 557L290.3 558.2L289.8 559.7L288.9 560.6L288.8 561.9L288.4 563L287.9 564.2L287.1 565.3L286.8 566.6L287.7 567.8L288.5 569L289.6 569.6L290.4 570.7L291 571.9L291.7 573.1L292.5 574.2L293.1 575.3L294 576.2L294.8 577.2L295.3 578.3L294.7 579.5L294.5 580.7L293.6 581.8L293.9 583.2L295.1 584L295.6 585.4L296.4 586.4L297.4 587.4L298.4 588.2L299.7 588.2L300.8 588.8M300.8 588.8L301.3 589.9L302.5 590.4L303 591.5L304.1 590.7L305.3 590.2L306.4 589.4L307 588.3L308 587.6L308.9 586.7L309.9 586L310.9 585.4L311.7 584.6L312.6 583.9L312.7 582.7L313 581.5L312.9 580.2L313.3 579L314.9 578.8L316.4 578.5L318 578.7L319.6 578.3L320.5 577.3L321.1 576.1L321.7 574.9M321.7 574.9L321.5 573.8L321.1 572.7L320.6 571.6L320.9 570.2L322.2 569.5L323 568.5L323.5 567.5L324.1 566.6L324.5 565.6L324 564.5L323.1 563.6L322.5 562.5L322.2 561.1L322.5 559.7L323.2 558.3L324.4 557.2L324.5 555.5L325.1 554.3L325.2 553L325.5 551.7L325 550.6L324.9 549.4L324.2 548.3L324.3 547L324.9 545.6L324.1 544.2L324.5 542.8M321.7 574.9L322.9 575.5L323.4 576.8L324.5 577.5L326 577.9L326.5 579.3M241 587.5L242.1 588L243.4 588.1L244.4 588.9L246.1 588.8L247.2 587.6L248.6 586.8L250 586.5L251.4 586.3L252.8 586.5L254.2 586.1L255 585L256.1 584L256.3 582.6L255.8 581.3L256.6 580.3L256.9 579.2L257.7 578L259.4 577.9L260.1 576.6L261.1 575.7L262 574.7L263 573.7L264.5 573.4L265.3 572.2L266 570.9L267.6 571.3L268.6 570.5L270.2 570.7L271.5 569.6L272.8 568.4L274.5 568.9L275.7 569.8L277.1 570.1L278.5 570.5L279.8 570.7L281.1 571.4L282.5 570.9L283.7 570.5L284.8 571L286 570.8L287.5 570.4L288.9 570.9L290.4 570.7M268.6 570.5L269 571.7L269 573L269.8 574L270.1 575.2L270.2 576.4L271 577.4L271.5 578.5L271.9 580L272.5 581.5L272.8 583L273 584.4L273 585.9L272.7 587.4L273.5 588.7L272.4 588.4L271.1 588.8L270 588.2L268.7 588.6L267.3 588.8L266 589.5L264.4 589.5L264.1 591.5L262.6 591.7L263.1 590.7L263.6 589.7L264.5 589L263.3 588.7L262.3 587.7L261 587.5L260.1 586.8L259 586.7L258 586.2L257.1 585.1L257.3 583.6L256.3 582.6M220.8 585.4L222 585.3L223.1 584.8L224.3 584.7L225.2 583.5L226.7 583.6L228.1 583.5L229.2 582.6L230.6 583.1L232.1 583.6L233.3 584.7L234.9 584.7L236 586L237.5 586.1L238.8 586.3L240 586.7L241 587.5M241 587.5L241.4 588.9L241.8 590.2L241.7 591.7L242.4 592.7L243.6 593.4L243.4 595L244.4 595.8L245.4 596.7L246.6 597.5L247.6 598.3L248.6 599.3L249.7 599.9L249.8 601.3L250.7 602.1L249.7 603.2L248.4 604.1L247.9 605.6L248.2 607L248.4 608.3L248.6 609.7L247.8 611L246.9 612.2L245.8 613.2L247.3 613.1L248.8 613.6M215.5 623.1L216.9 623.5L218.2 623.9L219.5 624.6L220.9 624.4L222.4 625.1L223.8 624.3L225.2 623.8L226.5 623.2L228 623.3L229.4 623.2L230.7 623.4L232.1 623.1L233.4 623.1L234.7 622.5L236 622.4L237.3 622.2L238.1 621.1L239.3 620.7L239.9 619.7L241.1 619.2L241.5 618L242 616.8L242.9 616L243.6 614.8L244.9 614.2L245.8 613.2M248.8 613.6L250.1 614.2L251.4 614.7L252.5 615.6L253.7 616L254.8 616.4L256.1 616.3L257.1 617.1L258.4 617.3L259.4 618.5L260.7 618.4L262 618.6L263.6 618.3L265.1 617.9L266.7 618.3L267.9 618.1L269.1 617.7L270.3 618.2L271.5 617.9L273.1 618L274.6 617.4L276.2 617.1L277 618.2L278.4 618.2L279.5 618.8L280.8 619.2L282.1 619.5L283.4 620.4L284.5 621.5M284.5 621.5L284.6 622.6L284.5 623.8L284.2 624.9L284.7 626.1L286.3 626.2L286.5 627.7L287.6 628.3L288.2 629.4L288.8 630.5L289.4 631.7L290.4 632.5L290.7 634.1L291.8 635.3L292.8 635.7L293.9 636M284.5 621.5L286.1 621.5L287.6 621.4L288.9 620.8L290.5 620.9L291.8 620L293.3 619.8L294.3 618.8L295.3 617.9L295.3 616.7L295.8 615.6L296 614.4L296.9 613.3L298.3 613.7L299.4 613L300.5 614L302 614.5L302.9 615.8L302.9 617L302.3 618.2L302 619.4L302.2 620.7L303.1 622L303.7 623.4L304.3 624.9L305 626L304.5 627.4L305.2 628.5L305.7 629.7L306.2 630.7L306.4 631.8M300.8 588.8L300.4 590.2L300.2 591.7L299.5 593L298.8 594.3L298.5 595.8L297 596.5L296.8 598L296 599.2L296.8 600.3L297.8 601.2L298.5 602.4L299.4 603.3L299.9 604.5L300.8 605.6L301.6 606.7L301.5 608.2L302.6 609.1L303.1 610.4L303.6 611.7L303.5 613.1L303.5 614.5L302.9 615.8"/>
</g>
<ellipse cx="205.7" cy="542.1" rx="4.5" ry="5.7" fill="#323e50"/>
<path d="M249.70 559.80L249.70 554.20A4.4 5.6 0 0 1 249.70 565.40Z" fill="#335c8c"/><path d="M249.70 559.80L249.70 565.40A4.4 5.6 0 0 1 249.70 554.20Z" fill="#323e50"/>
<ellipse cx="265" cy="581.9" rx="2" ry="2.5" fill="#323e50"/>
<path d="M275.00 597.60L275.00 589.00A6.8 8.6 0 1 1 268.32 599.21Z" fill="#335c8c"/><path d="M275.00 597.60L268.32 599.21A6.8 8.6 0 0 1 275.00 589.00Z" fill="#323e50"/>
<ellipse cx="230.7" cy="604.5" rx="6" ry="7.2" fill="#323e50"/>
<path d="M252.90 634.50L252.90 621.10A10.7 13.4 0 0 1 262.85 629.57Z" fill="#335c8c"/><path d="M252.90 634.50L262.85 629.57A10.7 13.4 0 1 1 251.56 621.21Z" fill="#323e50"/><path d="M252.90 634.50L251.56 621.21A10.7 13.4 0 0 1 252.90 621.10Z" fill="#ced9b1"/>
<ellipse cx="296.2" cy="625.4" rx="3.9" ry="4.9" fill="#323e50"/>
<path d="M309.60 600.90L309.60 596.20A3.7 4.7 0 0 1 310.52 596.35Z" fill="#ced9b1"/><path d="M309.60 600.90L310.52 596.35A3.7 4.7 0 0 1 312.45 603.90Z" fill="#4a948a"/><path d="M309.60 600.90L312.45 603.90A3.7 4.7 0 1 1 309.60 596.20Z" fill="#ced9b1"/>
<path d="M307.60 563.70L307.60 555.00A7.1 8.7 0 1 1 301.38 559.51Z" fill="#335c8c"/><path d="M307.60 563.70L301.38 559.51A7.1 8.7 0 0 1 307.60 555.00Z" fill="#ced9b1"/>
<path d="M338.60 559.00L338.60 544.70A11.2 14.3 0 0 1 342.06 545.40Z" fill="#335c8c"/><path d="M338.60 559.00L342.06 545.40A11.2 14.3 0 0 1 344.60 546.93Z" fill="#323e50"/><path d="M338.60 559.00L344.60 546.93A11.2 14.3 0 0 1 346.27 548.58Z" fill="#4a948a"/><path d="M338.60 559.00L346.27 548.58A11.2 14.3 0 1 1 338.60 544.70Z" fill="#ced9b1"/>
<g font-family="'DejaVu Sans','Liberation Sans',sans-serif" fill="#1a1a1a">
<text x="394.6" y="580.6" font-size="8">Cluster</text>
<rect x="395" y="585.4" width="11.6" height="11.5" fill="#335c8c"/>
<text x="411.3" y="593.6" font-size="6.2">ARA</text>
<rect x="395" y="597.8" width="11.6" height="11.5" fill="#323e50"/>
<text x="411.3" y="606" font-size="6.2">WEST</text>
<rect x="395" y="610.1" width="11.6" height="11.5" fill="#4a948a"/>
<text x="411.3" y="618.3" font-size="6.2">MED</text>
<rect x="395" y="622.4" width="11.6" height="11.5" fill="#ced9b1"/>
<text x="411.3" y="630.6" font-size="6.2">CAT</text>
</g>
<text x="6.8" y="529.8" font-family="'Liberation Sans',sans-serif" font-size="11.2" fill="#111">C</text>
</g>
</svg>
</body></html>
